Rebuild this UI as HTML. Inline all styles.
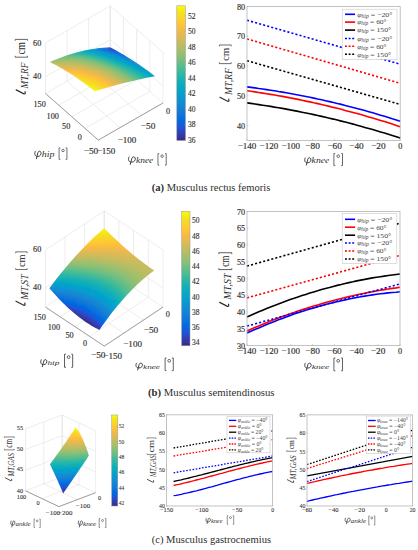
<!DOCTYPE html><html><head><meta charset="utf-8"><style>html,body{margin:0;padding:0;background:#fff;width:418px;height:550px;overflow:hidden}svg{display:block}</style></head><body><svg width="418" height="550" viewBox="0 0 418 550" style="font-family:'Liberation Serif',serif" fill="#2e2e2e">
<rect width="418" height="550" fill="#fff"/>
<line x1="247.00" y1="140.4" x2="247.00" y2="138.9" stroke="#b4b4b4" stroke-width="0.6"/>
<line x1="268.89" y1="140.4" x2="268.89" y2="138.9" stroke="#b4b4b4" stroke-width="0.6"/>
<line x1="290.77" y1="140.4" x2="290.77" y2="138.9" stroke="#b4b4b4" stroke-width="0.6"/>
<line x1="312.66" y1="140.4" x2="312.66" y2="138.9" stroke="#b4b4b4" stroke-width="0.6"/>
<line x1="334.54" y1="140.4" x2="334.54" y2="138.9" stroke="#b4b4b4" stroke-width="0.6"/>
<line x1="356.43" y1="140.4" x2="356.43" y2="138.9" stroke="#b4b4b4" stroke-width="0.6"/>
<line x1="378.31" y1="140.4" x2="378.31" y2="138.9" stroke="#b4b4b4" stroke-width="0.6"/>
<line x1="400.20" y1="140.4" x2="400.20" y2="138.9" stroke="#b4b4b4" stroke-width="0.6"/>
<line x1="247" y1="125.52" x2="248.5" y2="125.52" stroke="#b4b4b4" stroke-width="0.6"/>
<line x1="247" y1="95.77" x2="248.5" y2="95.77" stroke="#b4b4b4" stroke-width="0.6"/>
<line x1="247" y1="66.01" x2="248.5" y2="66.01" stroke="#b4b4b4" stroke-width="0.6"/>
<line x1="247" y1="36.26" x2="248.5" y2="36.26" stroke="#b4b4b4" stroke-width="0.6"/>
<line x1="247" y1="6.50" x2="248.5" y2="6.50" stroke="#b4b4b4" stroke-width="0.6"/>
<polyline points="247.0,86.9 250.9,87.4 254.9,87.9 258.8,88.5 262.7,89.0 266.6,89.6 270.6,90.2 274.5,90.8 278.4,91.5 282.4,92.1 286.3,92.8 290.2,93.5 294.1,94.2 298.1,95.0 302.0,95.7 305.9,96.5 309.9,97.3 313.8,98.1 317.7,99.0 321.6,99.8 325.6,100.7 329.5,101.6 333.4,102.5 337.3,103.5 341.3,104.4 345.2,105.4 349.1,106.4 353.1,107.4 357.0,108.5 360.9,109.5 364.8,110.6 368.8,111.7 372.7,112.8 376.6,114.0 380.6,115.2 384.5,116.3 388.4,117.5 392.3,118.8 396.3,120.0 400.2,121.3" fill="none" stroke="#0000ff" stroke-width="1.6" />
<polyline points="247.0,90.8 250.9,91.3 254.9,91.9 258.8,92.5 262.7,93.1 266.6,93.7 270.6,94.4 274.5,95.0 278.4,95.7 282.4,96.4 286.3,97.1 290.2,97.9 294.1,98.6 298.1,99.4 302.0,100.2 305.9,101.1 309.9,101.9 313.8,102.8 317.7,103.6 321.6,104.5 325.6,105.5 329.5,106.4 333.4,107.4 337.3,108.3 341.3,109.3 345.2,110.4 349.1,111.4 353.1,112.5 357.0,113.5 360.9,114.6 364.8,115.7 368.8,116.9 372.7,118.0 376.6,119.2 380.6,120.4 384.5,121.6 388.4,122.8 392.3,124.1 396.3,125.4 400.2,126.7" fill="none" stroke="#ff0000" stroke-width="1.6" />
<polyline points="247.0,102.9 250.9,103.4 254.9,104.0 258.8,104.6 262.7,105.2 266.6,105.8 270.6,106.4 274.5,107.1 278.4,107.7 282.4,108.4 286.3,109.1 290.2,109.9 294.1,110.6 298.1,111.4 302.0,112.2 305.9,113.0 309.9,113.8 313.8,114.6 317.7,115.5 321.6,116.4 325.6,117.3 329.5,118.2 333.4,119.1 337.3,120.1 341.3,121.1 345.2,122.1 349.1,123.1 353.1,124.1 357.0,125.2 360.9,126.3 364.8,127.4 368.8,128.5 372.7,129.6 376.6,130.7 380.6,131.9 384.5,133.1 388.4,134.3 392.3,135.5 396.3,136.8 400.2,138.0" fill="none" stroke="#000000" stroke-width="1.6" />
<polyline points="247.0,20.2 400.2,64.2" fill="none" stroke="#0000ff" stroke-width="1.6" stroke-dasharray="2.1 2.1"/>
<polyline points="247.0,38.9 400.2,83.3" fill="none" stroke="#ff0000" stroke-width="1.6" stroke-dasharray="2.1 2.1"/>
<polyline points="247.0,60.7 400.2,104.4" fill="none" stroke="#000000" stroke-width="1.6" stroke-dasharray="2.1 2.1"/>
<rect x="247" y="6.5" width="153.20" height="133.90" fill="none" stroke="#b4b4b4" stroke-width="0.8"/>
<text x="237.66" y="149.30" font-size="9.18" textLength="18.68" lengthAdjust="spacingAndGlyphs" stroke="#2e2e2e" stroke-width="0.16">−140</text>
<text x="259.55" y="149.30" font-size="9.18" textLength="18.68" lengthAdjust="spacingAndGlyphs" stroke="#2e2e2e" stroke-width="0.16">−120</text>
<text x="281.43" y="149.30" font-size="9.18" textLength="18.68" lengthAdjust="spacingAndGlyphs" stroke="#2e2e2e" stroke-width="0.16">−100</text>
<text x="305.37" y="149.30" font-size="9.18" textLength="14.58" lengthAdjust="spacingAndGlyphs" stroke="#2e2e2e" stroke-width="0.16">−80</text>
<text x="327.25" y="149.30" font-size="9.18" textLength="14.58" lengthAdjust="spacingAndGlyphs" stroke="#2e2e2e" stroke-width="0.16">−60</text>
<text x="349.14" y="149.30" font-size="9.18" textLength="14.58" lengthAdjust="spacingAndGlyphs" stroke="#2e2e2e" stroke-width="0.16">−40</text>
<text x="371.02" y="149.30" font-size="9.18" textLength="14.58" lengthAdjust="spacingAndGlyphs" stroke="#2e2e2e" stroke-width="0.16">−20</text>
<text x="398.15" y="149.30" font-size="9.18" textLength="4.10" lengthAdjust="spacingAndGlyphs" stroke="#2e2e2e" stroke-width="0.16">0</text>
<text x="237.00" y="128.62" font-size="9.18" textLength="8.20" lengthAdjust="spacingAndGlyphs" stroke="#2e2e2e" stroke-width="0.16">40</text>
<text x="237.00" y="98.87" font-size="9.18" textLength="8.20" lengthAdjust="spacingAndGlyphs" stroke="#2e2e2e" stroke-width="0.16">50</text>
<text x="237.00" y="69.11" font-size="9.18" textLength="8.20" lengthAdjust="spacingAndGlyphs" stroke="#2e2e2e" stroke-width="0.16">60</text>
<text x="237.00" y="39.36" font-size="9.18" textLength="8.20" lengthAdjust="spacingAndGlyphs" stroke="#2e2e2e" stroke-width="0.16">70</text>
<text x="237.00" y="9.60" font-size="9.18" textLength="8.20" lengthAdjust="spacingAndGlyphs" stroke="#2e2e2e" stroke-width="0.16">80</text>
<rect x="342.2" y="9.2" width="54.80" height="50.10" fill="#fff" stroke="#c8c8c8" stroke-width="0.6"/>
<line x1="345" y1="14.30" x2="355.1" y2="14.30" stroke="#0000ff" stroke-width="1.6" />
<text x="357.2" y="16.64" font-size="7.1" textLength="35.20" lengthAdjust="spacingAndGlyphs" fill="#444"><tspan font-style="italic">φ</tspan><tspan font-style="italic" font-size="0.72em" dy="1">hip</tspan><tspan dy="-1"> = −20°</tspan></text>
<line x1="345" y1="22.10" x2="355.1" y2="22.10" stroke="#ff0000" stroke-width="1.6" />
<text x="357.2" y="24.44" font-size="7.1" textLength="29.40" lengthAdjust="spacingAndGlyphs" fill="#444"><tspan font-style="italic">φ</tspan><tspan font-style="italic" font-size="0.72em" dy="1">hip</tspan><tspan dy="-1"> = 60°</tspan></text>
<line x1="345" y1="30.10" x2="355.1" y2="30.10" stroke="#000000" stroke-width="1.6" />
<text x="357.2" y="32.44" font-size="7.1" textLength="33.80" lengthAdjust="spacingAndGlyphs" fill="#444"><tspan font-style="italic">φ</tspan><tspan font-style="italic" font-size="0.72em" dy="1">hip</tspan><tspan dy="-1"> = 150°</tspan></text>
<line x1="345" y1="38.50" x2="355.1" y2="38.50" stroke="#0000ff" stroke-width="1.6" stroke-dasharray="2 1.6"/>
<text x="357.2" y="40.84" font-size="7.1" textLength="35.20" lengthAdjust="spacingAndGlyphs" fill="#444"><tspan font-style="italic">φ</tspan><tspan font-style="italic" font-size="0.72em" dy="1">hip</tspan><tspan dy="-1"> = −20°</tspan></text>
<line x1="345" y1="46.30" x2="355.1" y2="46.30" stroke="#ff0000" stroke-width="1.6" stroke-dasharray="2 1.6"/>
<text x="357.2" y="48.64" font-size="7.1" textLength="29.40" lengthAdjust="spacingAndGlyphs" fill="#444"><tspan font-style="italic">φ</tspan><tspan font-style="italic" font-size="0.72em" dy="1">hip</tspan><tspan dy="-1"> = 60°</tspan></text>
<line x1="345" y1="54.20" x2="355.1" y2="54.20" stroke="#000000" stroke-width="1.6" stroke-dasharray="2 1.6"/>
<text x="357.2" y="56.54" font-size="7.1" textLength="33.80" lengthAdjust="spacingAndGlyphs" fill="#444"><tspan font-style="italic">φ</tspan><tspan font-style="italic" font-size="0.72em" dy="1">hip</tspan><tspan dy="-1"> = 150°</tspan></text>
<path d="M305.21 157.86 C304.20 159.68 304.49 162.87 307.44 162.87 C310.39 162.87 311.40 160.44 310.82 158.77 C310.25 157.25 308.23 157.40 307.80 159.22 L306.36 165.00" fill="none" stroke="#2e2e2e" stroke-width="0.9" stroke-linecap="round"/>
<text x="311.60" y="163.48" font-size="7.22" font-style="italic" textLength="17.70" lengthAdjust="spacingAndGlyphs">knee</text>
<path d="M335.22 153.50H333.89V165.60H335.22" fill="none" stroke="#404040" stroke-width="0.7864999999999996"/>
<path d="M341.18 153.50H342.51V165.60H341.18" fill="none" stroke="#404040" stroke-width="0.7864999999999996"/>
<circle cx="338.20" cy="156.16" r="1.33" fill="none" stroke="#2e2e2e" stroke-width="0.67"/>
<g transform="translate(229.20,102.90) rotate(-90)"><path d="M5.60 -9.30L1.60 -1.60Q1.10 0.40 3.80 -0.50" fill="none" stroke="#2e2e2e" stroke-width="1.20" stroke-linecap="round"/><text x="7.90" y="2.40" font-size="11" font-style="italic" textLength="26.80" lengthAdjust="spacingAndGlyphs">MT,RF</text><text x="41.85" y="-0.36" font-size="11.21" textLength="13.50" lengthAdjust="spacingAndGlyphs">cm</text></g>
<path d="M219.40 62.32V63.62H231.20V62.32" fill="none" stroke="#404040" stroke-width="0.7669999999999989"/>
<path d="M219.40 46.28V44.98H231.20V46.28" fill="none" stroke="#404040" stroke-width="0.7669999999999989"/>
<line x1="247.00" y1="345.5" x2="247.00" y2="344.0" stroke="#b4b4b4" stroke-width="0.6"/>
<line x1="268.86" y1="345.5" x2="268.86" y2="344.0" stroke="#b4b4b4" stroke-width="0.6"/>
<line x1="290.71" y1="345.5" x2="290.71" y2="344.0" stroke="#b4b4b4" stroke-width="0.6"/>
<line x1="312.57" y1="345.5" x2="312.57" y2="344.0" stroke="#b4b4b4" stroke-width="0.6"/>
<line x1="334.43" y1="345.5" x2="334.43" y2="344.0" stroke="#b4b4b4" stroke-width="0.6"/>
<line x1="356.29" y1="345.5" x2="356.29" y2="344.0" stroke="#b4b4b4" stroke-width="0.6"/>
<line x1="378.14" y1="345.5" x2="378.14" y2="344.0" stroke="#b4b4b4" stroke-width="0.6"/>
<line x1="400.00" y1="345.5" x2="400.00" y2="344.0" stroke="#b4b4b4" stroke-width="0.6"/>
<line x1="247" y1="345.50" x2="248.5" y2="345.50" stroke="#b4b4b4" stroke-width="0.6"/>
<line x1="247" y1="328.75" x2="248.5" y2="328.75" stroke="#b4b4b4" stroke-width="0.6"/>
<line x1="247" y1="312.00" x2="248.5" y2="312.00" stroke="#b4b4b4" stroke-width="0.6"/>
<line x1="247" y1="295.25" x2="248.5" y2="295.25" stroke="#b4b4b4" stroke-width="0.6"/>
<line x1="247" y1="278.50" x2="248.5" y2="278.50" stroke="#b4b4b4" stroke-width="0.6"/>
<line x1="247" y1="261.75" x2="248.5" y2="261.75" stroke="#b4b4b4" stroke-width="0.6"/>
<line x1="247" y1="245.00" x2="248.5" y2="245.00" stroke="#b4b4b4" stroke-width="0.6"/>
<line x1="247" y1="228.25" x2="248.5" y2="228.25" stroke="#b4b4b4" stroke-width="0.6"/>
<line x1="247" y1="211.50" x2="248.5" y2="211.50" stroke="#b4b4b4" stroke-width="0.6"/>
<polyline points="247.0,333.1 250.9,331.3 254.8,329.6 258.8,327.9 262.7,326.2 266.6,324.5 270.5,322.9 274.5,321.4 278.4,319.8 282.3,318.4 286.2,316.9 290.2,315.5 294.1,314.1 298.0,312.8 301.9,311.5 305.8,310.2 309.8,309.0 313.7,307.9 317.6,306.7 321.5,305.6 325.5,304.6 329.4,303.5 333.3,302.6 337.2,301.6 341.2,300.7 345.1,299.9 349.0,299.0 352.9,298.2 356.8,297.5 360.8,296.8 364.7,296.1 368.6,295.5 372.5,294.9 376.5,294.3 380.4,293.8 384.3,293.4 388.2,292.9 392.2,292.5 396.1,292.2 400.0,291.8" fill="none" stroke="#0000ff" stroke-width="1.6" />
<polyline points="247.0,330.9 250.9,329.2 254.8,327.5 258.8,325.9 262.7,324.3 266.6,322.7 270.5,321.1 274.5,319.6 278.4,318.1 282.3,316.6 286.2,315.2 290.2,313.8 294.1,312.5 298.0,311.1 301.9,309.8 305.8,308.5 309.8,307.3 313.7,306.1 317.6,304.9 321.5,303.8 325.5,302.6 329.4,301.6 333.3,300.5 337.2,299.5 341.2,298.5 345.1,297.5 349.0,296.6 352.9,295.7 356.8,294.8 360.8,294.0 364.7,293.2 368.6,292.4 372.5,291.7 376.5,290.9 380.4,290.3 384.3,289.6 388.2,289.0 392.2,288.4 396.1,287.9 400.0,287.3" fill="none" stroke="#ff0000" stroke-width="1.6" />
<polyline points="247.0,316.9 250.9,315.2 254.8,313.5 258.8,311.8 262.7,310.2 266.6,308.6 270.5,307.0 274.5,305.5 278.4,304.0 282.3,302.5 286.2,301.0 290.2,299.6 294.1,298.3 298.0,296.9 301.9,295.6 305.8,294.4 309.8,293.1 313.7,291.9 317.6,290.8 321.5,289.6 325.5,288.5 329.4,287.5 333.3,286.4 337.2,285.4 341.2,284.5 345.1,283.5 349.0,282.6 352.9,281.8 356.8,280.9 360.8,280.1 364.7,279.4 368.6,278.6 372.5,277.9 376.5,277.3 380.4,276.7 384.3,276.1 388.2,275.5 392.2,275.0 396.1,274.5 400.0,274.0" fill="none" stroke="#000000" stroke-width="1.6" />
<polyline points="247.0,326.1 400.0,283.9" fill="none" stroke="#0000ff" stroke-width="1.6" stroke-dasharray="2.1 2.1"/>
<polyline points="247.0,297.9 400.0,255.4" fill="none" stroke="#ff0000" stroke-width="1.6" stroke-dasharray="2.1 2.1"/>
<polyline points="247.0,266.1 400.0,223.2" fill="none" stroke="#000000" stroke-width="1.6" stroke-dasharray="2.1 2.1"/>
<rect x="247" y="211.5" width="153.00" height="134.00" fill="none" stroke="#b4b4b4" stroke-width="0.8"/>
<text x="237.66" y="353.90" font-size="9.18" textLength="18.68" lengthAdjust="spacingAndGlyphs" stroke="#2e2e2e" stroke-width="0.16">−140</text>
<text x="259.52" y="353.90" font-size="9.18" textLength="18.68" lengthAdjust="spacingAndGlyphs" stroke="#2e2e2e" stroke-width="0.16">−120</text>
<text x="281.37" y="353.90" font-size="9.18" textLength="18.68" lengthAdjust="spacingAndGlyphs" stroke="#2e2e2e" stroke-width="0.16">−100</text>
<text x="305.28" y="353.90" font-size="9.18" textLength="14.58" lengthAdjust="spacingAndGlyphs" stroke="#2e2e2e" stroke-width="0.16">−80</text>
<text x="327.14" y="353.90" font-size="9.18" textLength="14.58" lengthAdjust="spacingAndGlyphs" stroke="#2e2e2e" stroke-width="0.16">−60</text>
<text x="349.00" y="353.90" font-size="9.18" textLength="14.58" lengthAdjust="spacingAndGlyphs" stroke="#2e2e2e" stroke-width="0.16">−40</text>
<text x="370.85" y="353.90" font-size="9.18" textLength="14.58" lengthAdjust="spacingAndGlyphs" stroke="#2e2e2e" stroke-width="0.16">−20</text>
<text x="397.95" y="353.90" font-size="9.18" textLength="4.10" lengthAdjust="spacingAndGlyphs" stroke="#2e2e2e" stroke-width="0.16">0</text>
<text x="237.00" y="348.60" font-size="9.18" textLength="8.20" lengthAdjust="spacingAndGlyphs" stroke="#2e2e2e" stroke-width="0.16">30</text>
<text x="237.00" y="331.85" font-size="9.18" textLength="8.20" lengthAdjust="spacingAndGlyphs" stroke="#2e2e2e" stroke-width="0.16">35</text>
<text x="237.00" y="315.10" font-size="9.18" textLength="8.20" lengthAdjust="spacingAndGlyphs" stroke="#2e2e2e" stroke-width="0.16">40</text>
<text x="237.00" y="298.35" font-size="9.18" textLength="8.20" lengthAdjust="spacingAndGlyphs" stroke="#2e2e2e" stroke-width="0.16">45</text>
<text x="237.00" y="281.60" font-size="9.18" textLength="8.20" lengthAdjust="spacingAndGlyphs" stroke="#2e2e2e" stroke-width="0.16">50</text>
<text x="237.00" y="264.85" font-size="9.18" textLength="8.20" lengthAdjust="spacingAndGlyphs" stroke="#2e2e2e" stroke-width="0.16">55</text>
<text x="237.00" y="248.10" font-size="9.18" textLength="8.20" lengthAdjust="spacingAndGlyphs" stroke="#2e2e2e" stroke-width="0.16">60</text>
<text x="237.00" y="231.35" font-size="9.18" textLength="8.20" lengthAdjust="spacingAndGlyphs" stroke="#2e2e2e" stroke-width="0.16">65</text>
<text x="237.00" y="214.60" font-size="9.18" textLength="8.20" lengthAdjust="spacingAndGlyphs" stroke="#2e2e2e" stroke-width="0.16">70</text>
<rect x="342.2" y="213.6" width="54.60" height="49.90" fill="#fff" stroke="#c8c8c8" stroke-width="0.6"/>
<line x1="345" y1="219.30" x2="355.1" y2="219.30" stroke="#0000ff" stroke-width="1.6" />
<text x="357.2" y="221.64" font-size="7.1" textLength="35.20" lengthAdjust="spacingAndGlyphs" fill="#444"><tspan font-style="italic">φ</tspan><tspan font-style="italic" font-size="0.72em" dy="1">hip</tspan><tspan dy="-1"> = −20°</tspan></text>
<line x1="345" y1="227.20" x2="355.1" y2="227.20" stroke="#ff0000" stroke-width="1.6" />
<text x="357.2" y="229.54" font-size="7.1" textLength="29.40" lengthAdjust="spacingAndGlyphs" fill="#444"><tspan font-style="italic">φ</tspan><tspan font-style="italic" font-size="0.72em" dy="1">hip</tspan><tspan dy="-1"> = 60°</tspan></text>
<line x1="345" y1="235.20" x2="355.1" y2="235.20" stroke="#000000" stroke-width="1.6" />
<text x="357.2" y="237.54" font-size="7.1" textLength="33.80" lengthAdjust="spacingAndGlyphs" fill="#444"><tspan font-style="italic">φ</tspan><tspan font-style="italic" font-size="0.72em" dy="1">hip</tspan><tspan dy="-1"> = 150°</tspan></text>
<line x1="345" y1="243.00" x2="355.1" y2="243.00" stroke="#0000ff" stroke-width="1.6" stroke-dasharray="2 1.6"/>
<text x="357.2" y="245.34" font-size="7.1" textLength="35.20" lengthAdjust="spacingAndGlyphs" fill="#444"><tspan font-style="italic">φ</tspan><tspan font-style="italic" font-size="0.72em" dy="1">hip</tspan><tspan dy="-1"> = −20°</tspan></text>
<line x1="345" y1="251.00" x2="355.1" y2="251.00" stroke="#ff0000" stroke-width="1.6" stroke-dasharray="2 1.6"/>
<text x="357.2" y="253.34" font-size="7.1" textLength="29.40" lengthAdjust="spacingAndGlyphs" fill="#444"><tspan font-style="italic">φ</tspan><tspan font-style="italic" font-size="0.72em" dy="1">hip</tspan><tspan dy="-1"> = 60°</tspan></text>
<line x1="345" y1="259.00" x2="355.1" y2="259.00" stroke="#000000" stroke-width="1.6" stroke-dasharray="2 1.6"/>
<text x="357.2" y="261.34" font-size="7.1" textLength="33.80" lengthAdjust="spacingAndGlyphs" fill="#444"><tspan font-style="italic">φ</tspan><tspan font-style="italic" font-size="0.72em" dy="1">hip</tspan><tspan dy="-1"> = 150°</tspan></text>
<path d="M305.24 363.24 C304.20 365.02 304.50 368.13 307.53 368.13 C310.56 368.13 311.60 365.76 311.01 364.13 C310.42 362.65 308.34 362.80 307.90 364.58 L306.42 370.20" fill="none" stroke="#2e2e2e" stroke-width="0.9" stroke-linecap="round"/>
<text x="311.80" y="368.72" font-size="7.03" font-style="italic" textLength="17.50" lengthAdjust="spacingAndGlyphs">knee</text>
<path d="M335.32 358.00H333.92V370.80H335.32" fill="none" stroke="#404040" stroke-width="0.8320000000000007"/>
<path d="M341.08 358.00H342.48V370.80H341.08" fill="none" stroke="#404040" stroke-width="0.8320000000000007"/>
<circle cx="338.20" cy="360.82" r="1.41" fill="none" stroke="#2e2e2e" stroke-width="0.71"/>
<g transform="translate(229.00,308.00) rotate(-90)"><path d="M5.60 -9.30L1.60 -1.60Q1.10 0.40 3.80 -0.50" fill="none" stroke="#2e2e2e" stroke-width="1.20" stroke-linecap="round"/><text x="8.50" y="2.40" font-size="11" font-style="italic" textLength="26.10" lengthAdjust="spacingAndGlyphs">MT,ST</text><text x="41.25" y="0.20" font-size="12.35" textLength="11.20" lengthAdjust="spacingAndGlyphs">cm</text></g>
<path d="M218.80 268.15V269.58H231.80V268.15" fill="none" stroke="#404040" stroke-width="0.845"/>
<path d="M218.80 254.15V252.72H231.80V254.15" fill="none" stroke="#404040" stroke-width="0.845"/>
<line x1="166.50" y1="506" x2="166.50" y2="505.0" stroke="#b4b4b4" stroke-width="0.6"/>
<line x1="201.87" y1="506" x2="201.87" y2="505.0" stroke="#b4b4b4" stroke-width="0.6"/>
<line x1="237.23" y1="506" x2="237.23" y2="505.0" stroke="#b4b4b4" stroke-width="0.6"/>
<line x1="272.60" y1="506" x2="272.60" y2="505.0" stroke="#b4b4b4" stroke-width="0.6"/>
<line x1="166.5" y1="506.00" x2="167.5" y2="506.00" stroke="#b4b4b4" stroke-width="0.6"/>
<line x1="166.5" y1="487.76" x2="167.5" y2="487.76" stroke="#b4b4b4" stroke-width="0.6"/>
<line x1="166.5" y1="469.52" x2="167.5" y2="469.52" stroke="#b4b4b4" stroke-width="0.6"/>
<line x1="166.5" y1="451.28" x2="167.5" y2="451.28" stroke="#b4b4b4" stroke-width="0.6"/>
<line x1="166.5" y1="433.04" x2="167.5" y2="433.04" stroke="#b4b4b4" stroke-width="0.6"/>
<line x1="166.5" y1="414.80" x2="167.5" y2="414.80" stroke="#b4b4b4" stroke-width="0.6"/>
<polyline points="173.6,495.7 176.1,495.3 178.7,494.8 181.2,494.3 183.7,493.7 186.3,493.2 188.8,492.6 191.3,492.0 193.9,491.4 196.4,490.8 199.0,490.1 201.5,489.5 204.0,488.8 206.6,488.1 209.1,487.4 211.7,486.8 214.2,486.1 216.7,485.4 219.3,484.6 221.8,483.9 224.4,483.2 226.9,482.5 229.4,481.8 232.0,481.1 234.5,480.4 237.1,479.7 239.6,479.1 242.1,478.4 244.7,477.7 247.2,477.1 249.7,476.4 252.3,475.8 254.8,475.2 257.4,474.6 259.9,474.0 262.4,473.5 265.0,472.9 267.5,472.4 270.1,471.9 272.6,471.5" fill="none" stroke="#0000ff" stroke-width="1.3" />
<polyline points="173.6,485.5 176.1,484.9 178.7,484.4 181.2,483.8 183.7,483.2 186.3,482.6 188.8,482.0 191.3,481.3 193.9,480.7 196.4,480.0 199.0,479.4 201.5,478.7 204.0,478.1 206.6,477.4 209.1,476.7 211.7,476.0 214.2,475.3 216.7,474.6 219.3,473.9 221.8,473.3 224.4,472.6 226.9,471.9 229.4,471.2 232.0,470.5 234.5,469.8 237.1,469.2 239.6,468.5 242.1,467.8 244.7,467.2 247.2,466.6 249.7,465.9 252.3,465.3 254.8,464.7 257.4,464.1 259.9,463.5 262.4,463.0 265.0,462.4 267.5,461.9 270.1,461.4 272.6,460.9" fill="none" stroke="#ff0000" stroke-width="1.3" />
<polyline points="173.6,481.5 176.1,480.9 178.7,480.3 181.2,479.8 183.7,479.2 186.3,478.6 188.8,478.0 191.3,477.3 193.9,476.7 196.4,476.1 199.0,475.4 201.5,474.8 204.0,474.1 206.6,473.5 209.1,472.8 211.7,472.1 214.2,471.5 216.7,470.8 219.3,470.2 221.8,469.5 224.4,468.8 226.9,468.2 229.4,467.5 232.0,466.9 234.5,466.2 237.1,465.6 239.6,464.9 242.1,464.3 244.7,463.7 247.2,463.1 249.7,462.5 252.3,461.9 254.8,461.3 257.4,460.7 259.9,460.2 262.4,459.6 265.0,459.1 267.5,458.6 270.1,458.1 272.6,457.6" fill="none" stroke="#000000" stroke-width="1.3" />
<polyline points="173.6,472.8 272.6,456.0" fill="none" stroke="#0000ff" stroke-width="1.3" stroke-dasharray="1.6 1.6"/>
<polyline points="173.6,456.0 272.6,439.6" fill="none" stroke="#ff0000" stroke-width="1.3" stroke-dasharray="1.6 1.6"/>
<polyline points="173.6,448.0 272.6,430.9" fill="none" stroke="#000000" stroke-width="1.3" stroke-dasharray="1.6 1.6"/>
<rect x="166.5" y="414.8" width="106.10" height="91.20" fill="none" stroke="#b4b4b4" stroke-width="0.8"/>
<text x="159.89" y="512.39" font-size="6.50" textLength="13.21" lengthAdjust="spacingAndGlyphs" stroke="#2e2e2e" stroke-width="0.08">−150</text>
<text x="195.26" y="512.39" font-size="6.50" textLength="13.21" lengthAdjust="spacingAndGlyphs" stroke="#2e2e2e" stroke-width="0.08">−100</text>
<text x="232.08" y="512.39" font-size="6.50" textLength="10.31" lengthAdjust="spacingAndGlyphs" stroke="#2e2e2e" stroke-width="0.08">−50</text>
<text x="271.15" y="512.39" font-size="6.50" textLength="2.90" lengthAdjust="spacingAndGlyphs" stroke="#2e2e2e" stroke-width="0.08">0</text>
<text x="159.00" y="508.19" font-size="6.50" textLength="5.80" lengthAdjust="spacingAndGlyphs" stroke="#2e2e2e" stroke-width="0.08">40</text>
<text x="159.00" y="489.95" font-size="6.50" textLength="5.80" lengthAdjust="spacingAndGlyphs" stroke="#2e2e2e" stroke-width="0.08">45</text>
<text x="159.00" y="471.71" font-size="6.50" textLength="5.80" lengthAdjust="spacingAndGlyphs" stroke="#2e2e2e" stroke-width="0.08">50</text>
<text x="159.00" y="453.47" font-size="6.50" textLength="5.80" lengthAdjust="spacingAndGlyphs" stroke="#2e2e2e" stroke-width="0.08">55</text>
<text x="159.00" y="435.23" font-size="6.50" textLength="5.80" lengthAdjust="spacingAndGlyphs" stroke="#2e2e2e" stroke-width="0.08">60</text>
<text x="159.00" y="416.99" font-size="6.50" textLength="5.80" lengthAdjust="spacingAndGlyphs" stroke="#2e2e2e" stroke-width="0.08">65</text>
<rect x="227" y="416.3" width="43.00" height="36.50" fill="#fff" stroke="#c8c8c8" stroke-width="0.6"/>
<line x1="229" y1="420.40" x2="236.2" y2="420.40" stroke="#0000ff" stroke-width="1.3" />
<text x="237.8" y="422.15" font-size="5.3" textLength="29.90" lengthAdjust="spacingAndGlyphs" fill="#444"><tspan font-style="italic">φ</tspan><tspan font-style="italic" font-size="0.72em" dy="1">ankle</tspan><tspan dy="-1"> = −40°</tspan></text>
<line x1="229" y1="426.30" x2="236.2" y2="426.30" stroke="#ff0000" stroke-width="1.3" />
<text x="237.8" y="428.05" font-size="5.3" textLength="23.90" lengthAdjust="spacingAndGlyphs" fill="#444"><tspan font-style="italic">φ</tspan><tspan font-style="italic" font-size="0.72em" dy="1">ankle</tspan><tspan dy="-1"> = 0°</tspan></text>
<line x1="229" y1="432.20" x2="236.2" y2="432.20" stroke="#000000" stroke-width="1.3" />
<text x="237.8" y="433.95" font-size="5.3" textLength="25.70" lengthAdjust="spacingAndGlyphs" fill="#444"><tspan font-style="italic">φ</tspan><tspan font-style="italic" font-size="0.72em" dy="1">ankle</tspan><tspan dy="-1"> = 20°</tspan></text>
<line x1="229" y1="438.10" x2="236.2" y2="438.10" stroke="#0000ff" stroke-width="1.3" stroke-dasharray="1.5 1.2"/>
<text x="237.8" y="439.85" font-size="5.3" textLength="29.90" lengthAdjust="spacingAndGlyphs" fill="#444"><tspan font-style="italic">φ</tspan><tspan font-style="italic" font-size="0.72em" dy="1">ankle</tspan><tspan dy="-1"> = −40°</tspan></text>
<line x1="229" y1="444.00" x2="236.2" y2="444.00" stroke="#ff0000" stroke-width="1.3" stroke-dasharray="1.5 1.2"/>
<text x="237.8" y="445.75" font-size="5.3" textLength="23.90" lengthAdjust="spacingAndGlyphs" fill="#444"><tspan font-style="italic">φ</tspan><tspan font-style="italic" font-size="0.72em" dy="1">ankle</tspan><tspan dy="-1"> = 0°</tspan></text>
<line x1="229" y1="449.90" x2="236.2" y2="449.90" stroke="#000000" stroke-width="1.3" stroke-dasharray="1.5 1.2"/>
<text x="237.8" y="451.65" font-size="5.3" textLength="25.70" lengthAdjust="spacingAndGlyphs" fill="#444"><tspan font-style="italic">φ</tspan><tspan font-style="italic" font-size="0.72em" dy="1">ankle</tspan><tspan dy="-1"> = 20°</tspan></text>
<path d="M206.23 518.43 C205.50 519.75 205.71 522.06 207.84 522.06 C209.97 522.06 210.70 520.30 210.28 519.09 C209.87 517.99 208.41 518.10 208.10 519.42 L207.06 523.60" fill="none" stroke="#2e2e2e" stroke-width="0.7" stroke-linecap="round"/>
<text x="210.90" y="522.50" font-size="5.22" font-style="italic" textLength="11.60" lengthAdjust="spacingAndGlyphs">knee</text>
<path d="M228.24 515.70H227.28V524.40H228.24" fill="none" stroke="#404040" stroke-width="0.5654999999999956"/>
<path d="M232.76 515.70H233.72V524.40H232.76" fill="none" stroke="#404040" stroke-width="0.5654999999999956"/>
<circle cx="230.50" cy="517.61" r="0.96" fill="none" stroke="#2e2e2e" stroke-width="0.48"/>
<g transform="translate(154.00,483.40) rotate(-90)"><path d="M3.97 -6.59L1.13 -1.13Q0.78 0.28 2.69 -0.35" fill="none" stroke="#2e2e2e" stroke-width="0.85" stroke-linecap="round"/><text x="6.30" y="1.70" font-size="8.5" font-style="italic" textLength="21.70" lengthAdjust="spacingAndGlyphs">MT,GAS</text><text x="30.82" y="0.22" font-size="8.46" textLength="12.75" lengthAdjust="spacingAndGlyphs">cm</text></g>
<path d="M147.10 453.53V454.51H156.00V453.53" fill="none" stroke="#404040" stroke-width="0.5785000000000003"/>
<path d="M147.10 438.87V437.89H156.00V438.87" fill="none" stroke="#404040" stroke-width="0.5785000000000003"/>
<line x1="307.00" y1="506" x2="307.00" y2="505.0" stroke="#b4b4b4" stroke-width="0.6"/>
<line x1="333.40" y1="506" x2="333.40" y2="505.0" stroke="#b4b4b4" stroke-width="0.6"/>
<line x1="359.80" y1="506" x2="359.80" y2="505.0" stroke="#b4b4b4" stroke-width="0.6"/>
<line x1="386.20" y1="506" x2="386.20" y2="505.0" stroke="#b4b4b4" stroke-width="0.6"/>
<line x1="412.60" y1="506" x2="412.60" y2="505.0" stroke="#b4b4b4" stroke-width="0.6"/>
<line x1="307" y1="506.00" x2="308.0" y2="506.00" stroke="#b4b4b4" stroke-width="0.6"/>
<line x1="307" y1="487.78" x2="308.0" y2="487.78" stroke="#b4b4b4" stroke-width="0.6"/>
<line x1="307" y1="469.56" x2="308.0" y2="469.56" stroke="#b4b4b4" stroke-width="0.6"/>
<line x1="307" y1="451.34" x2="308.0" y2="451.34" stroke="#b4b4b4" stroke-width="0.6"/>
<line x1="307" y1="433.12" x2="308.0" y2="433.12" stroke="#b4b4b4" stroke-width="0.6"/>
<line x1="307" y1="414.90" x2="308.0" y2="414.90" stroke="#b4b4b4" stroke-width="0.6"/>
<polyline points="307.0,501.3 309.7,500.7 312.4,500.0 315.1,499.4 317.8,498.8 320.5,498.2 323.2,497.6 326.0,497.0 328.7,496.4 331.4,495.8 334.1,495.2 336.8,494.7 339.5,494.1 342.2,493.5 344.9,493.0 347.6,492.4 350.3,491.9 353.0,491.4 355.7,490.8 358.4,490.3 361.2,489.8 363.9,489.3 366.6,488.8 369.3,488.3 372.0,487.8 374.7,487.3 377.4,486.9 380.1,486.4 382.8,485.9 385.5,485.5 388.2,485.0 390.9,484.6 393.6,484.1 396.4,483.7 399.1,483.3 401.8,482.8 404.5,482.4 407.2,482.0 409.9,481.6 412.6,481.2" fill="none" stroke="#0000ff" stroke-width="1.3" />
<polyline points="307.0,483.4 309.7,482.8 312.4,482.2 315.1,481.6 317.8,480.9 320.5,480.3 323.2,479.7 326.0,479.1 328.7,478.5 331.4,478.0 334.1,477.4 336.8,476.8 339.5,476.2 342.2,475.7 344.9,475.1 347.6,474.6 350.3,474.0 353.0,473.5 355.7,473.0 358.4,472.5 361.2,472.0 363.9,471.4 366.6,470.9 369.3,470.4 372.0,470.0 374.7,469.5 377.4,469.0 380.1,468.5 382.8,468.1 385.5,467.6 388.2,467.1 390.9,466.7 393.6,466.3 396.4,465.8 399.1,465.4 401.8,465.0 404.5,464.6 407.2,464.2 409.9,463.8 412.6,463.4" fill="none" stroke="#ff0000" stroke-width="1.3" />
<polyline points="307.0,475.8 309.7,475.3 312.4,474.8 315.1,474.3 317.8,473.8 320.5,473.3 323.2,472.8 326.0,472.3 328.7,471.8 331.4,471.3 334.1,470.8 336.8,470.3 339.5,469.8 342.2,469.3 344.9,468.8 347.6,468.3 350.3,467.8 353.0,467.3 355.7,466.8 358.4,466.3 361.2,465.8 363.9,465.3 366.6,464.8 369.3,464.3 372.0,463.8 374.7,463.3 377.4,462.8 380.1,462.3 382.8,461.9 385.5,461.4 388.2,460.9 390.9,460.4 393.6,459.9 396.4,459.4 399.1,458.9 401.8,458.4 404.5,457.9 407.2,457.4 409.9,456.9 412.6,456.4" fill="none" stroke="#000000" stroke-width="1.3" />
<polyline points="307.0,481.6 412.6,447.3" fill="none" stroke="#0000ff" stroke-width="1.3" stroke-dasharray="1.6 1.6"/>
<polyline points="307.0,468.5 412.6,435.7" fill="none" stroke="#ff0000" stroke-width="1.3" stroke-dasharray="1.6 1.6"/>
<polyline points="307.0,464.5 412.6,430.2" fill="none" stroke="#000000" stroke-width="1.3" stroke-dasharray="1.6 1.6"/>
<rect x="307" y="414.9" width="105.60" height="91.10" fill="none" stroke="#b4b4b4" stroke-width="0.8"/>
<text x="301.84" y="512.39" font-size="6.50" textLength="10.31" lengthAdjust="spacingAndGlyphs" stroke="#2e2e2e" stroke-width="0.08">−60</text>
<text x="328.24" y="512.39" font-size="6.50" textLength="10.31" lengthAdjust="spacingAndGlyphs" stroke="#2e2e2e" stroke-width="0.08">−40</text>
<text x="354.64" y="512.39" font-size="6.50" textLength="10.31" lengthAdjust="spacingAndGlyphs" stroke="#2e2e2e" stroke-width="0.08">−20</text>
<text x="384.75" y="512.39" font-size="6.50" textLength="2.90" lengthAdjust="spacingAndGlyphs" stroke="#2e2e2e" stroke-width="0.08">0</text>
<text x="409.70" y="512.39" font-size="6.50" textLength="5.80" lengthAdjust="spacingAndGlyphs" stroke="#2e2e2e" stroke-width="0.08">20</text>
<text x="299.50" y="508.19" font-size="6.50" textLength="5.80" lengthAdjust="spacingAndGlyphs" stroke="#2e2e2e" stroke-width="0.08">40</text>
<text x="299.50" y="489.97" font-size="6.50" textLength="5.80" lengthAdjust="spacingAndGlyphs" stroke="#2e2e2e" stroke-width="0.08">45</text>
<text x="299.50" y="471.75" font-size="6.50" textLength="5.80" lengthAdjust="spacingAndGlyphs" stroke="#2e2e2e" stroke-width="0.08">50</text>
<text x="299.50" y="453.53" font-size="6.50" textLength="5.80" lengthAdjust="spacingAndGlyphs" stroke="#2e2e2e" stroke-width="0.08">55</text>
<text x="299.50" y="435.31" font-size="6.50" textLength="5.80" lengthAdjust="spacingAndGlyphs" stroke="#2e2e2e" stroke-width="0.08">60</text>
<text x="299.50" y="417.09" font-size="6.50" textLength="5.80" lengthAdjust="spacingAndGlyphs" stroke="#2e2e2e" stroke-width="0.08">65</text>
<rect x="366.4" y="416.1" width="44.10" height="37.30" fill="#fff" stroke="#c8c8c8" stroke-width="0.6"/>
<line x1="368" y1="420.50" x2="375.7" y2="420.50" stroke="#0000ff" stroke-width="1.3" />
<text x="376.9" y="422.25" font-size="5.3" textLength="31.10" lengthAdjust="spacingAndGlyphs" fill="#444"><tspan font-style="italic">φ</tspan><tspan font-style="italic" font-size="0.72em" dy="1">knee</tspan><tspan dy="-1"> = −140°</tspan></text>
<line x1="368" y1="426.30" x2="375.7" y2="426.30" stroke="#ff0000" stroke-width="1.3" />
<text x="376.9" y="428.05" font-size="5.3" textLength="28.60" lengthAdjust="spacingAndGlyphs" fill="#444"><tspan font-style="italic">φ</tspan><tspan font-style="italic" font-size="0.72em" dy="1">knee</tspan><tspan dy="-1"> = −40°</tspan></text>
<line x1="368" y1="432.20" x2="375.7" y2="432.20" stroke="#000000" stroke-width="1.3" />
<text x="376.9" y="433.95" font-size="5.3" textLength="22.40" lengthAdjust="spacingAndGlyphs" fill="#444"><tspan font-style="italic">φ</tspan><tspan font-style="italic" font-size="0.72em" dy="1">knee</tspan><tspan dy="-1"> = 0°</tspan></text>
<line x1="368" y1="438.20" x2="375.7" y2="438.20" stroke="#0000ff" stroke-width="1.3" stroke-dasharray="1.5 1.2"/>
<text x="376.9" y="439.95" font-size="5.3" textLength="31.10" lengthAdjust="spacingAndGlyphs" fill="#444"><tspan font-style="italic">φ</tspan><tspan font-style="italic" font-size="0.72em" dy="1">knee</tspan><tspan dy="-1"> = −140°</tspan></text>
<line x1="368" y1="444.00" x2="375.7" y2="444.00" stroke="#ff0000" stroke-width="1.3" stroke-dasharray="1.5 1.2"/>
<text x="376.9" y="445.75" font-size="5.3" textLength="28.60" lengthAdjust="spacingAndGlyphs" fill="#444"><tspan font-style="italic">φ</tspan><tspan font-style="italic" font-size="0.72em" dy="1">knee</tspan><tspan dy="-1"> = −40°</tspan></text>
<line x1="368" y1="449.80" x2="375.7" y2="449.80" stroke="#000000" stroke-width="1.3" stroke-dasharray="1.5 1.2"/>
<text x="376.9" y="451.55" font-size="5.3" textLength="22.40" lengthAdjust="spacingAndGlyphs" fill="#444"><tspan font-style="italic">φ</tspan><tspan font-style="italic" font-size="0.72em" dy="1">knee</tspan><tspan dy="-1"> = 0°</tspan></text>
<path d="M345.44 518.16 C344.60 519.60 344.84 522.12 347.30 522.12 C349.76 522.12 350.60 520.20 350.12 518.88 C349.64 517.68 347.96 517.80 347.60 519.24 L346.40 523.80" fill="none" stroke="#2e2e2e" stroke-width="0.7" stroke-linecap="round"/>
<text x="350.80" y="522.60" font-size="5.70" font-style="italic" textLength="15.30" lengthAdjust="spacingAndGlyphs">ankle</text>
<path d="M369.78 516.00H368.79V525.00H369.78" fill="none" stroke="#404040" stroke-width="0.585"/>
<path d="M373.82 516.00H374.81V525.00H373.82" fill="none" stroke="#404040" stroke-width="0.585"/>
<circle cx="371.80" cy="517.98" r="0.99" fill="none" stroke="#2e2e2e" stroke-width="0.50"/>
<g transform="translate(294.00,483.70) rotate(-90)"><path d="M3.97 -6.59L1.13 -1.13Q0.78 0.28 2.69 -0.35" fill="none" stroke="#2e2e2e" stroke-width="0.85" stroke-linecap="round"/><text x="4.20" y="1.70" font-size="8.5" font-style="italic" textLength="24.20" lengthAdjust="spacingAndGlyphs">MT,GAS</text><text x="34.47" y="0.30" font-size="9.03" textLength="9.05" lengthAdjust="spacingAndGlyphs">cm</text></g>
<path d="M286.70 450.25V451.29H296.20V450.25" fill="none" stroke="#404040" stroke-width="0.6175"/>
<path d="M286.70 439.15V438.11H296.20V439.15" fill="none" stroke="#404040" stroke-width="0.6175"/>
<line x1="98.30" y1="140.10" x2="163.00" y2="103.00" stroke="#e0e0e0" stroke-width="0.6"/>
<line x1="85.10" y1="128.45" x2="149.80" y2="91.35" stroke="#e0e0e0" stroke-width="0.6"/>
<line x1="71.90" y1="116.80" x2="136.59" y2="79.70" stroke="#e0e0e0" stroke-width="0.6"/>
<line x1="58.70" y1="105.15" x2="123.40" y2="68.05" stroke="#e0e0e0" stroke-width="0.6"/>
<line x1="45.50" y1="93.50" x2="110.19" y2="56.41" stroke="#e0e0e0" stroke-width="0.6"/>
<line x1="98.30" y1="140.10" x2="45.50" y2="93.50" stroke="#e0e0e0" stroke-width="0.6"/>
<line x1="119.86" y1="127.73" x2="67.06" y2="81.14" stroke="#e0e0e0" stroke-width="0.6"/>
<line x1="141.43" y1="115.37" x2="88.63" y2="68.77" stroke="#e0e0e0" stroke-width="0.6"/>
<line x1="163.00" y1="103.00" x2="110.19" y2="56.41" stroke="#e0e0e0" stroke-width="0.6"/>
<line x1="45.50" y1="93.50" x2="45.50" y2="42.95" stroke="#e0e0e0" stroke-width="0.6"/>
<line x1="67.06" y1="81.14" x2="67.06" y2="30.59" stroke="#e0e0e0" stroke-width="0.6"/>
<line x1="88.63" y1="68.77" x2="88.63" y2="18.22" stroke="#e0e0e0" stroke-width="0.6"/>
<line x1="110.19" y1="56.41" x2="110.19" y2="5.85" stroke="#e0e0e0" stroke-width="0.6"/>
<line x1="45.50" y1="76.65" x2="110.19" y2="39.55" stroke="#e0e0e0" stroke-width="0.6"/>
<line x1="45.50" y1="42.95" x2="110.19" y2="5.85" stroke="#e0e0e0" stroke-width="0.6"/>
<line x1="163.00" y1="103.00" x2="163.00" y2="52.45" stroke="#e0e0e0" stroke-width="0.6"/>
<line x1="149.80" y1="91.35" x2="149.80" y2="40.80" stroke="#e0e0e0" stroke-width="0.6"/>
<line x1="136.59" y1="79.70" x2="136.59" y2="29.15" stroke="#e0e0e0" stroke-width="0.6"/>
<line x1="123.40" y1="68.05" x2="123.40" y2="17.50" stroke="#e0e0e0" stroke-width="0.6"/>
<line x1="110.19" y1="56.41" x2="110.19" y2="5.85" stroke="#e0e0e0" stroke-width="0.6"/>
<line x1="163.00" y1="86.16" x2="110.19" y2="39.55" stroke="#e0e0e0" stroke-width="0.6"/>
<line x1="163.00" y1="52.45" x2="110.19" y2="5.85" stroke="#e0e0e0" stroke-width="0.6"/>
<line x1="45.50" y1="93.50" x2="98.30" y2="140.10" stroke="#7a7a7a" stroke-width="0.7"/>
<line x1="98.30" y1="140.10" x2="163.00" y2="103.00" stroke="#7a7a7a" stroke-width="0.7"/>
<defs><clipPath id="cga"><path d="M94.69 91.23L92.74 89.67L90.79 88.15L88.84 86.64L86.89 85.17L84.94 83.72L82.99 82.29L81.03 80.89L79.08 79.52L77.13 78.17L75.18 76.85L73.23 75.55L71.28 74.28L69.33 73.04L67.37 71.82L65.42 70.63L63.47 69.46L61.52 68.32L59.57 67.20L57.62 66.11L55.67 65.04L53.72 64.00L51.76 62.99L49.81 62.00L49.81 62.00L52.44 60.84L55.06 59.72L57.69 58.65L60.31 57.63L62.94 56.65L65.56 55.73L68.19 54.85L70.82 54.02L73.44 53.23L76.07 52.49L78.69 51.80L81.32 51.16L83.94 50.57L86.57 50.02L89.19 49.52L91.82 49.07L94.44 48.66L97.07 48.30L99.69 47.99L102.32 47.73L104.94 47.51L107.57 47.35L110.19 47.23L110.19 47.23L112.15 48.25L114.10 49.30L116.05 50.37L118.00 51.46L119.95 52.57L121.90 53.70L123.85 54.85L125.81 56.03L127.76 57.22L129.71 58.44L131.66 59.68L133.61 60.93L135.56 62.21L137.51 63.51L139.46 64.83L141.42 66.18L143.37 67.54L145.32 68.92L147.27 70.33L149.22 71.76L151.17 73.20L153.12 74.67L155.07 76.16L155.07 76.16L152.45 76.68L149.82 77.21L147.20 77.75L144.57 78.31L141.95 78.88L139.32 79.46L136.70 80.05L134.07 80.66L131.45 81.27L128.82 81.90L126.20 82.55L123.57 83.20L120.95 83.87L118.32 84.55L115.70 85.24L113.07 85.95L110.44 86.66L107.82 87.39L105.19 88.13L102.57 88.89L99.94 89.66L97.32 90.43L94.69 91.23Z"/></clipPath><filter id="fga" x="-10%" y="-10%" width="120%" height="120%"><feGaussianBlur stdDeviation="0.9"/></filter></defs>
<g clip-path="url(#cga)"><g filter="url(#fga)" shape-rendering="crispEdges">
<path d="M110.2 47.2L108.7 46.5L110.7 46.4L112.2 47.2Z" fill="#352a87"/>
<path d="M111.7 48.0L110.2 47.2L112.2 47.2L113.7 47.9Z" fill="#352a87"/>
<path d="M108.2 47.3L106.7 46.5L108.7 46.5L110.2 47.2Z" fill="#362e8e"/>
<path d="M113.2 48.8L111.7 48.0L113.7 47.9L115.2 48.7Z" fill="#362e8e"/>
<path d="M109.7 48.1L108.2 47.3L110.2 47.2L111.7 48.0Z" fill="#36349c"/>
<path d="M106.2 47.4L104.7 46.6L106.7 46.5L108.2 47.3Z" fill="#353ba9"/>
<path d="M114.7 49.6L113.2 48.8L115.2 48.7L116.7 49.5Z" fill="#36349b"/>
<path d="M111.2 48.9L109.7 48.1L111.7 48.0L113.2 48.8Z" fill="#353baa"/>
<path d="M107.7 48.2L106.2 47.4L108.2 47.3L109.7 48.1Z" fill="#3242b8"/>
<path d="M104.2 47.6L102.7 46.8L104.7 46.6L106.2 47.4Z" fill="#2c4ac5"/>
<path d="M116.2 50.4L114.7 49.6L116.7 49.5L118.2 50.3Z" fill="#353ba9"/>
<path d="M112.7 49.7L111.2 48.9L113.2 48.8L114.7 49.6Z" fill="#3342b7"/>
<path d="M109.2 49.0L107.7 48.2L109.7 48.1L111.2 48.9Z" fill="#2c4ac6"/>
<path d="M105.7 48.4L104.2 47.6L106.2 47.4L107.7 48.2Z" fill="#2052d3"/>
<path d="M102.1 47.7L100.6 46.9L102.7 46.8L104.2 47.6Z" fill="#105bdd"/>
<path d="M117.7 51.3L116.2 50.4L118.2 50.3L119.7 51.2Z" fill="#3342b6"/>
<path d="M114.2 50.6L112.7 49.7L114.7 49.6L116.2 50.4Z" fill="#2c49c5"/>
<path d="M110.7 49.9L109.2 49.0L111.2 48.9L112.7 49.7Z" fill="#2052d3"/>
<path d="M107.1 49.2L105.7 48.4L107.7 48.2L109.2 49.0Z" fill="#0f5cde"/>
<path d="M103.6 48.6L102.1 47.7L104.2 47.6L105.7 48.4Z" fill="#0363e1"/>
<path d="M100.1 47.9L98.6 47.1L100.6 46.9L102.1 47.7Z" fill="#0268e1"/>
<path d="M119.2 52.1L117.7 51.3L119.7 51.2L121.2 52.0Z" fill="#2d49c3"/>
<path d="M115.7 51.4L114.2 50.6L116.2 50.4L117.7 51.3Z" fill="#2152d2"/>
<path d="M112.2 50.7L110.7 49.9L112.7 49.7L114.2 50.6Z" fill="#0f5cdd"/>
<path d="M108.6 50.0L107.1 49.2L109.2 49.0L110.7 49.9Z" fill="#0363e1"/>
<path d="M105.1 49.4L103.6 48.6L105.7 48.4L107.1 49.2Z" fill="#0269e1"/>
<path d="M101.6 48.8L100.1 47.9L102.1 47.7L103.6 48.6Z" fill="#046de0"/>
<path d="M98.1 48.2L96.6 47.4L98.6 47.1L100.1 47.9Z" fill="#0871de"/>
<path d="M120.7 53.0L119.2 52.1L121.2 52.0L122.7 52.9Z" fill="#2350d0"/>
<path d="M117.2 52.3L115.7 51.4L117.7 51.3L119.2 52.1Z" fill="#115bdc"/>
<path d="M113.6 51.6L112.2 50.7L114.2 50.6L115.7 51.4Z" fill="#0363e1"/>
<path d="M110.1 50.9L108.6 50.0L110.7 49.9L112.2 50.7Z" fill="#0269e1"/>
<path d="M106.6 50.2L105.1 49.4L107.1 49.2L108.6 50.0Z" fill="#056de0"/>
<path d="M103.1 49.6L101.6 48.8L103.6 48.6L105.1 49.4Z" fill="#0971de"/>
<path d="M99.6 49.0L98.1 48.2L100.1 47.9L101.6 48.8Z" fill="#0d75dc"/>
<path d="M96.1 48.4L94.6 47.6L96.6 47.4L98.1 48.2Z" fill="#1078da"/>
<path d="M122.2 53.9L120.7 53.0L122.7 52.9L124.2 53.7Z" fill="#1559da"/>
<path d="M118.7 53.1L117.2 52.3L119.2 52.1L120.7 53.0Z" fill="#0562e0"/>
<path d="M115.1 52.4L113.6 51.6L115.7 51.4L117.2 52.3Z" fill="#0268e1"/>
<path d="M111.6 51.8L110.1 50.9L112.2 50.7L113.6 51.6Z" fill="#046de0"/>
<path d="M108.1 51.1L106.6 50.2L108.6 50.0L110.1 50.9Z" fill="#0971de"/>
<path d="M104.6 50.5L103.1 49.6L105.1 49.4L106.6 50.2Z" fill="#0d75dc"/>
<path d="M101.1 49.8L99.6 49.0L101.6 48.8L103.1 49.6Z" fill="#1079da"/>
<path d="M97.6 49.3L96.1 48.4L98.1 48.2L99.6 49.0Z" fill="#127cd8"/>
<path d="M94.1 48.7L92.6 47.9L94.6 47.6L96.1 48.4Z" fill="#137fd6"/>
<path d="M123.7 54.7L122.2 53.9L124.2 53.7L125.7 54.6Z" fill="#0860e0"/>
<path d="M120.2 54.0L118.7 53.1L120.7 53.0L122.2 53.9Z" fill="#0267e1"/>
<path d="M116.6 53.3L115.1 52.4L117.2 52.3L118.7 53.1Z" fill="#046ce0"/>
<path d="M113.1 52.6L111.6 51.8L113.6 51.6L115.1 52.4Z" fill="#0871de"/>
<path d="M109.6 52.0L108.1 51.1L110.1 50.9L111.6 51.8Z" fill="#0d75dc"/>
<path d="M106.1 51.3L104.6 50.5L106.6 50.2L108.1 51.1Z" fill="#1079da"/>
<path d="M102.6 50.7L101.1 49.8L103.1 49.6L104.6 50.5Z" fill="#127dd8"/>
<path d="M99.1 50.1L97.6 49.3L99.6 49.0L101.1 49.8Z" fill="#1480d6"/>
<path d="M95.6 49.5L94.1 48.7L96.1 48.4L97.6 49.3Z" fill="#1484d4"/>
<path d="M92.1 49.0L90.6 48.2L92.6 47.9L94.1 48.7Z" fill="#1487d3"/>
<path d="M125.2 55.6L123.7 54.7L125.7 54.6L127.2 55.5Z" fill="#0266e1"/>
<path d="M121.6 54.9L120.2 54.0L122.2 53.9L123.7 54.7Z" fill="#036be0"/>
<path d="M118.1 54.2L116.6 53.3L118.7 53.1L120.2 54.0Z" fill="#0870df"/>
<path d="M114.6 53.5L113.1 52.6L115.1 52.4L116.6 53.3Z" fill="#0c75dc"/>
<path d="M111.1 52.8L109.6 52.0L111.6 51.8L113.1 52.6Z" fill="#1079da"/>
<path d="M107.6 52.2L106.1 51.3L108.1 51.1L109.6 52.0Z" fill="#127dd8"/>
<path d="M104.1 51.6L102.6 50.7L104.6 50.5L106.1 51.3Z" fill="#1480d6"/>
<path d="M100.6 51.0L99.1 50.1L101.1 49.8L102.6 50.7Z" fill="#1484d4"/>
<path d="M97.1 50.4L95.6 49.5L97.6 49.3L99.1 50.1Z" fill="#1388d3"/>
<path d="M93.6 49.9L92.1 49.0L94.1 48.7L95.6 49.5Z" fill="#128cd2"/>
<path d="M90.1 49.4L88.6 48.5L90.6 48.2L92.1 49.0Z" fill="#0f8fd2"/>
<path d="M126.7 56.5L125.2 55.6L127.2 55.5L128.7 56.4Z" fill="#036ae1"/>
<path d="M123.1 55.8L121.6 54.9L123.7 54.7L125.2 55.6Z" fill="#076fdf"/>
<path d="M119.6 55.1L118.1 54.2L120.2 54.0L121.6 54.9Z" fill="#0b74dd"/>
<path d="M116.1 54.4L114.6 53.5L116.6 53.3L118.1 54.2Z" fill="#0f78db"/>
<path d="M112.6 53.7L111.1 52.8L113.1 52.6L114.6 53.5Z" fill="#127cd8"/>
<path d="M109.1 53.1L107.6 52.2L109.6 52.0L111.1 52.8Z" fill="#1480d6"/>
<path d="M105.6 52.4L104.1 51.6L106.1 51.3L107.6 52.2Z" fill="#1484d4"/>
<path d="M102.1 51.8L100.6 51.0L102.6 50.7L104.1 51.6Z" fill="#1388d3"/>
<path d="M98.6 51.3L97.1 50.4L99.1 50.1L100.6 51.0Z" fill="#118dd2"/>
<path d="M95.1 50.7L93.6 49.9L95.6 49.5L97.1 50.4Z" fill="#0e91d2"/>
<path d="M91.6 50.2L90.1 49.4L92.1 49.0L93.6 49.9Z" fill="#0c94d2"/>
<path d="M128.1 57.5L126.7 56.5L128.7 56.4L130.2 57.3Z" fill="#056ee0"/>
<path d="M88.1 49.7L86.6 48.9L88.6 48.5L90.1 49.4Z" fill="#0998d1"/>
<path d="M124.6 56.7L123.1 55.8L125.2 55.6L126.7 56.5Z" fill="#0a73dd"/>
<path d="M121.1 56.0L119.6 55.1L121.6 54.9L123.1 55.8Z" fill="#0f77db"/>
<path d="M117.6 55.3L116.1 54.4L118.1 54.2L119.6 55.1Z" fill="#127bd9"/>
<path d="M114.1 54.6L112.6 53.7L114.6 53.5L116.1 54.4Z" fill="#1480d6"/>
<path d="M110.6 54.0L109.1 53.1L111.1 52.8L112.6 53.7Z" fill="#1484d4"/>
<path d="M107.1 53.3L105.6 52.4L107.6 52.2L109.1 53.1Z" fill="#1388d3"/>
<path d="M103.6 52.7L102.1 51.8L104.1 51.6L105.6 52.4Z" fill="#118dd2"/>
<path d="M100.1 52.1L98.6 51.3L100.6 51.0L102.1 51.8Z" fill="#0e91d2"/>
<path d="M96.6 51.6L95.1 50.7L97.1 50.4L98.6 51.3Z" fill="#0b96d1"/>
<path d="M93.1 51.1L91.6 50.2L93.6 49.9L95.1 50.7Z" fill="#0899d1"/>
<path d="M129.6 58.4L128.1 57.5L130.2 57.3L131.7 58.2Z" fill="#0971de"/>
<path d="M89.6 50.6L88.1 49.7L90.1 49.4L91.6 50.2Z" fill="#079cd0"/>
<path d="M126.1 57.7L124.6 56.7L126.7 56.5L128.1 57.5Z" fill="#0e76dc"/>
<path d="M86.0 50.1L84.5 49.3L86.6 48.9L88.1 49.7Z" fill="#069ece"/>
<path d="M122.6 56.9L121.1 56.0L123.1 55.8L124.6 56.7Z" fill="#117ad9"/>
<path d="M119.1 56.2L117.6 55.3L119.6 55.1L121.1 56.0Z" fill="#137fd7"/>
<path d="M115.6 55.6L114.1 54.6L116.1 54.4L117.6 55.3Z" fill="#1483d5"/>
<path d="M112.1 54.9L110.6 54.0L112.6 53.7L114.1 54.6Z" fill="#1388d3"/>
<path d="M108.6 54.2L107.1 53.3L109.1 53.1L110.6 54.0Z" fill="#118dd2"/>
<path d="M105.1 53.6L103.6 52.7L105.6 52.4L107.1 53.3Z" fill="#0e91d2"/>
<path d="M101.6 53.0L100.1 52.1L102.1 51.8L103.6 52.7Z" fill="#0a96d1"/>
<path d="M98.1 52.5L96.6 51.6L98.6 51.3L100.1 52.1Z" fill="#089ad0"/>
<path d="M94.6 51.9L93.1 51.1L95.1 50.7L96.6 51.6Z" fill="#079dcf"/>
<path d="M131.1 59.3L129.6 58.4L131.7 58.2L133.2 59.1Z" fill="#0c74dd"/>
<path d="M91.0 51.4L89.6 50.6L91.6 50.2L93.1 51.1Z" fill="#06a0cd"/>
<path d="M127.6 58.6L126.1 57.7L128.1 57.5L129.6 58.4Z" fill="#1079da"/>
<path d="M87.5 51.0L86.0 50.1L88.1 49.7L89.6 50.6Z" fill="#06a2cb"/>
<path d="M124.1 57.9L122.6 56.9L124.6 56.7L126.1 57.7Z" fill="#137ed7"/>
<path d="M84.0 50.5L82.5 49.7L84.5 49.3L86.0 50.1Z" fill="#06a4c9"/>
<path d="M120.6 57.2L119.1 56.2L121.1 56.0L122.6 56.9Z" fill="#1482d5"/>
<path d="M117.1 56.5L115.6 55.6L117.6 55.3L119.1 56.2Z" fill="#1487d3"/>
<path d="M113.6 55.8L112.1 54.9L114.1 54.6L115.6 55.6Z" fill="#128cd2"/>
<path d="M110.1 55.2L108.6 54.2L110.6 54.0L112.1 54.9Z" fill="#0e91d2"/>
<path d="M106.6 54.5L105.1 53.6L107.1 53.3L108.6 54.2Z" fill="#0a96d1"/>
<path d="M103.1 53.9L101.6 53.0L103.6 52.7L105.1 53.6Z" fill="#089ad0"/>
<path d="M99.6 53.4L98.1 52.5L100.1 52.1L101.6 53.0Z" fill="#079ecf"/>
<path d="M96.1 52.8L94.6 51.9L96.6 51.6L98.1 52.5Z" fill="#06a1cd"/>
<path d="M132.6 60.3L131.1 59.3L133.2 59.1L134.6 60.1Z" fill="#0f77db"/>
<path d="M92.5 52.3L91.0 51.4L93.1 51.1L94.6 51.9Z" fill="#06a3ca"/>
<path d="M129.1 59.6L127.6 58.6L129.6 58.4L131.1 59.3Z" fill="#127cd8"/>
<path d="M89.0 51.8L87.5 51.0L89.6 50.6L91.0 51.4Z" fill="#06a5c8"/>
<path d="M125.6 58.8L124.1 57.9L126.1 57.7L127.6 58.6Z" fill="#1481d6"/>
<path d="M85.5 51.4L84.0 50.5L86.0 50.1L87.5 51.0Z" fill="#06a7c6"/>
<path d="M122.1 58.1L120.6 57.2L122.6 56.9L124.1 57.9Z" fill="#1485d4"/>
<path d="M82.0 51.0L80.5 50.2L82.5 49.7L84.0 50.5Z" fill="#06a8c4"/>
<path d="M118.6 57.4L117.1 56.5L119.1 56.2L120.6 57.2Z" fill="#128ad3"/>
<path d="M115.1 56.8L113.6 55.8L115.6 55.6L117.1 56.5Z" fill="#0f90d2"/>
<path d="M111.6 56.1L110.1 55.2L112.1 54.9L113.6 55.8Z" fill="#0b95d2"/>
<path d="M108.1 55.5L106.6 54.5L108.6 54.2L110.1 55.2Z" fill="#089ad0"/>
<path d="M104.6 54.8L103.1 53.9L105.1 53.6L106.6 54.5Z" fill="#079ecf"/>
<path d="M101.1 54.3L99.6 53.4L101.6 53.0L103.1 53.9Z" fill="#06a1cc"/>
<path d="M97.5 53.7L96.1 52.8L98.1 52.5L99.6 53.4Z" fill="#06a4ca"/>
<path d="M134.1 61.3L132.6 60.3L134.6 60.1L136.1 61.0Z" fill="#117ad9"/>
<path d="M94.0 53.2L92.5 52.3L94.6 51.9L96.1 52.8Z" fill="#06a6c7"/>
<path d="M130.6 60.5L129.1 59.6L131.1 59.3L132.6 60.3Z" fill="#137fd7"/>
<path d="M90.5 52.7L89.0 51.8L91.0 51.4L92.5 52.3Z" fill="#06a8c4"/>
<path d="M127.1 59.8L125.6 58.8L127.6 58.6L129.1 59.6Z" fill="#1484d4"/>
<path d="M87.0 52.3L85.5 51.4L87.5 51.0L89.0 51.8Z" fill="#07a9c2"/>
<path d="M123.6 59.1L122.1 58.1L124.1 57.9L125.6 58.8Z" fill="#1389d3"/>
<path d="M83.5 51.8L82.0 51.0L84.0 50.5L85.5 51.4Z" fill="#09abbf"/>
<path d="M120.1 58.4L118.6 57.4L120.6 57.2L122.1 58.1Z" fill="#108ed2"/>
<path d="M80.0 51.5L78.5 50.6L80.5 50.2L82.0 51.0Z" fill="#0aacbe"/>
<path d="M116.6 57.7L115.1 56.8L117.1 56.5L118.6 57.4Z" fill="#0c94d2"/>
<path d="M113.1 57.0L111.6 56.1L113.6 55.8L115.1 56.8Z" fill="#0899d1"/>
<path d="M109.6 56.4L108.1 55.5L110.1 55.2L111.6 56.1Z" fill="#079dcf"/>
<path d="M106.1 55.8L104.6 54.8L106.6 54.5L108.1 55.5Z" fill="#06a1cc"/>
<path d="M102.6 55.2L101.1 54.3L103.1 53.9L104.6 54.8Z" fill="#06a4ca"/>
<path d="M99.0 54.6L97.5 53.7L99.6 53.4L101.1 54.3Z" fill="#06a6c7"/>
<path d="M135.6 62.3L134.1 61.3L136.1 61.0L137.6 62.0Z" fill="#137dd8"/>
<path d="M95.5 54.1L94.0 53.2L96.1 52.8L97.5 53.7Z" fill="#06a8c3"/>
<path d="M132.1 61.5L130.6 60.5L132.6 60.3L134.1 61.3Z" fill="#1482d5"/>
<path d="M92.0 53.6L90.5 52.7L92.5 52.3L94.0 53.2Z" fill="#08aac0"/>
<path d="M128.6 60.8L127.1 59.8L129.1 59.6L130.6 60.5Z" fill="#1487d3"/>
<path d="M88.5 53.1L87.0 52.3L89.0 51.8L90.5 52.7Z" fill="#0aacbe"/>
<path d="M125.1 60.1L123.6 59.1L125.6 58.8L127.1 59.8Z" fill="#118cd2"/>
<path d="M85.0 52.7L83.5 51.8L85.5 51.4L87.0 52.3Z" fill="#0dadbb"/>
<path d="M121.6 59.4L120.1 58.4L122.1 58.1L123.6 59.1Z" fill="#0d92d2"/>
<path d="M81.5 52.3L80.0 51.5L82.0 51.0L83.5 51.8Z" fill="#0faeb9"/>
<path d="M118.1 58.7L116.6 57.7L118.6 57.4L120.1 58.4Z" fill="#0998d1"/>
<path d="M78.0 52.0L76.5 51.1L78.5 50.6L80.0 51.5Z" fill="#12afb7"/>
<path d="M114.6 58.0L113.1 57.0L115.1 56.8L116.6 57.7Z" fill="#079ccf"/>
<path d="M111.1 57.3L109.6 56.4L111.6 56.1L113.1 57.0Z" fill="#06a0cd"/>
<path d="M107.6 56.7L106.1 55.8L108.1 55.5L109.6 56.4Z" fill="#06a4ca"/>
<path d="M104.0 56.1L102.6 55.2L104.6 54.8L106.1 55.8Z" fill="#06a6c7"/>
<path d="M100.5 55.5L99.0 54.6L101.1 54.3L102.6 55.2Z" fill="#07a9c3"/>
<path d="M137.1 63.3L135.6 62.3L137.6 62.0L139.1 63.0Z" fill="#1480d6"/>
<path d="M97.0 55.0L95.5 54.1L97.5 53.7L99.0 54.6Z" fill="#08abc0"/>
<path d="M133.6 62.5L132.1 61.5L134.1 61.3L135.6 62.3Z" fill="#1485d4"/>
<path d="M93.5 54.5L92.0 53.6L94.0 53.2L95.5 54.1Z" fill="#0badbc"/>
<path d="M130.1 61.8L128.6 60.8L130.6 60.5L132.1 61.5Z" fill="#128ad3"/>
<path d="M90.0 54.0L88.5 53.1L90.5 52.7L92.0 53.6Z" fill="#0faeb9"/>
<path d="M126.6 61.1L125.1 60.1L127.1 59.8L128.6 60.8Z" fill="#0f90d2"/>
<path d="M86.5 53.6L85.0 52.7L87.0 52.3L88.5 53.1Z" fill="#12afb7"/>
<path d="M123.1 60.3L121.6 59.4L123.6 59.1L125.1 60.1Z" fill="#0a96d1"/>
<path d="M83.0 53.2L81.5 52.3L83.5 51.8L85.0 52.7Z" fill="#15b1b4"/>
<path d="M119.6 59.6L118.1 58.7L120.1 58.4L121.6 59.4Z" fill="#079bd0"/>
<path d="M79.5 52.8L78.0 52.0L80.0 51.5L81.5 52.3Z" fill="#18b2b2"/>
<path d="M116.1 59.0L114.6 58.0L116.6 57.7L118.1 58.7Z" fill="#069fce"/>
<path d="M76.0 52.5L74.5 51.7L76.5 51.1L78.0 52.0Z" fill="#1bb2b0"/>
<path d="M112.6 58.3L111.1 57.3L113.1 57.0L114.6 58.0Z" fill="#06a3cb"/>
<path d="M109.1 57.7L107.6 56.7L109.6 56.4L111.1 57.3Z" fill="#06a6c7"/>
<path d="M105.5 57.1L104.0 56.1L106.1 55.8L107.6 56.7Z" fill="#06a8c3"/>
<path d="M102.0 56.5L100.5 55.5L102.6 55.2L104.0 56.1Z" fill="#08abc0"/>
<path d="M138.6 64.3L137.1 63.3L139.1 63.0L140.6 64.0Z" fill="#1483d5"/>
<path d="M98.5 55.9L97.0 55.0L99.0 54.6L100.5 55.5Z" fill="#0cadbc"/>
<path d="M135.1 63.5L133.6 62.5L135.6 62.3L137.1 63.3Z" fill="#1388d3"/>
<path d="M95.0 55.4L93.5 54.5L95.5 54.1L97.0 55.0Z" fill="#10afb8"/>
<path d="M131.6 62.8L130.1 61.8L132.1 61.5L133.6 62.5Z" fill="#118ed2"/>
<path d="M91.5 54.9L90.0 54.0L92.0 53.6L93.5 54.5Z" fill="#14b0b5"/>
<path d="M128.1 62.1L126.6 61.1L128.6 60.8L130.1 61.8Z" fill="#0c94d2"/>
<path d="M88.0 54.5L86.5 53.6L88.5 53.1L90.0 54.0Z" fill="#18b2b2"/>
<path d="M124.6 61.3L123.1 60.3L125.1 60.1L126.6 61.1Z" fill="#0899d1"/>
<path d="M84.5 54.1L83.0 53.2L85.0 52.7L86.5 53.6Z" fill="#1cb3af"/>
<path d="M121.1 60.6L119.6 59.6L121.6 59.4L123.1 60.3Z" fill="#079ecf"/>
<path d="M81.0 53.7L79.5 52.8L81.5 52.3L83.0 53.2Z" fill="#20b4ad"/>
<path d="M117.6 60.0L116.1 59.0L118.1 58.7L119.6 59.6Z" fill="#06a2cc"/>
<path d="M77.5 53.4L76.0 52.5L78.0 52.0L79.5 52.8Z" fill="#23b4ab"/>
<path d="M114.1 59.3L112.6 58.3L114.6 58.0L116.1 59.0Z" fill="#06a5c8"/>
<path d="M74.0 53.1L72.5 52.3L74.5 51.7L76.0 52.5Z" fill="#25b5aa"/>
<path d="M110.5 58.6L109.1 57.7L111.1 57.3L112.6 58.3Z" fill="#06a8c4"/>
<path d="M107.0 58.0L105.5 57.1L107.6 56.7L109.1 57.7Z" fill="#08aac0"/>
<path d="M103.5 57.4L102.0 56.5L104.0 56.1L105.5 57.1Z" fill="#0cadbc"/>
<path d="M140.1 65.3L138.6 64.3L140.6 64.0L142.1 65.0Z" fill="#1485d4"/>
<path d="M100.0 56.9L98.5 55.9L100.5 55.5L102.0 56.5Z" fill="#10afb8"/>
<path d="M136.6 64.5L135.1 63.5L137.1 63.3L138.6 64.3Z" fill="#128bd2"/>
<path d="M96.5 56.3L95.0 55.4L97.0 55.0L98.5 55.9Z" fill="#15b1b4"/>
<path d="M133.1 63.8L131.6 62.8L133.6 62.5L135.1 63.5Z" fill="#0e91d2"/>
<path d="M93.0 55.8L91.5 54.9L93.5 54.5L95.0 55.4Z" fill="#1ab2b1"/>
<path d="M129.6 63.1L128.1 62.1L130.1 61.8L131.6 62.8Z" fill="#0a97d1"/>
<path d="M89.5 55.4L88.0 54.5L90.0 54.0L91.5 54.9Z" fill="#1fb3ad"/>
<path d="M126.1 62.3L124.6 61.3L126.6 61.1L128.1 62.1Z" fill="#079cd0"/>
<path d="M86.0 54.9L84.5 54.1L86.5 53.6L88.0 54.5Z" fill="#24b5aa"/>
<path d="M122.6 61.6L121.1 60.6L123.1 60.3L124.6 61.3Z" fill="#06a0cd"/>
<path d="M82.5 54.6L81.0 53.7L83.0 53.2L84.5 54.1Z" fill="#28b6a8"/>
<path d="M119.1 60.9L117.6 60.0L119.6 59.6L121.1 60.6Z" fill="#06a4c9"/>
<path d="M79.0 54.2L77.5 53.4L79.5 52.8L81.0 53.7Z" fill="#2bb6a6"/>
<path d="M115.6 60.3L114.1 59.3L116.1 59.0L117.6 60.0Z" fill="#06a7c5"/>
<path d="M75.5 53.9L74.0 53.1L76.0 52.5L77.5 53.4Z" fill="#2eb7a4"/>
<path d="M112.0 59.6L110.5 58.6L112.6 58.3L114.1 59.3Z" fill="#07aac1"/>
<path d="M72.0 53.7L70.5 52.8L72.5 52.3L74.0 53.1Z" fill="#30b7a3"/>
<path d="M108.5 59.0L107.0 58.0L109.1 57.7L110.5 58.6Z" fill="#0bacbd"/>
<path d="M105.0 58.4L103.5 57.4L105.5 57.1L107.0 58.0Z" fill="#10afb9"/>
<path d="M141.6 66.3L140.1 65.3L142.1 65.0L143.6 66.0Z" fill="#1388d3"/>
<path d="M101.5 57.8L100.0 56.9L102.0 56.5L103.5 57.4Z" fill="#15b1b4"/>
<path d="M138.1 65.6L136.6 64.5L138.6 64.3L140.1 65.3Z" fill="#108ed2"/>
<path d="M98.0 57.3L96.5 56.3L98.5 55.9L100.0 56.9Z" fill="#1bb2b0"/>
<path d="M134.6 64.8L133.1 63.8L135.1 63.5L136.6 64.5Z" fill="#0c94d2"/>
<path d="M94.5 56.8L93.0 55.8L95.0 55.4L96.5 56.3Z" fill="#21b4ac"/>
<path d="M131.1 64.1L129.6 63.1L131.6 62.8L133.1 63.8Z" fill="#089ad0"/>
<path d="M91.0 56.3L89.5 55.4L91.5 54.9L93.0 55.8Z" fill="#26b5a9"/>
<path d="M127.6 63.4L126.1 62.3L128.1 62.1L129.6 63.1Z" fill="#069fce"/>
<path d="M87.5 55.9L86.0 54.9L88.0 54.5L89.5 55.4Z" fill="#2bb6a5"/>
<path d="M124.1 62.7L122.6 61.6L124.6 61.3L126.1 62.3Z" fill="#06a3cb"/>
<path d="M84.0 55.4L82.5 54.6L84.5 54.1L86.0 54.9Z" fill="#30b7a3"/>
<path d="M120.6 62.0L119.1 60.9L121.1 60.6L122.6 61.6Z" fill="#06a6c7"/>
<path d="M80.5 55.1L79.0 54.2L81.0 53.7L82.5 54.6Z" fill="#34b8a0"/>
<path d="M117.0 61.3L115.6 60.3L117.6 60.0L119.1 60.9Z" fill="#07a9c2"/>
<path d="M77.0 54.8L75.5 53.9L77.5 53.4L79.0 54.2Z" fill="#37b99e"/>
<path d="M113.5 60.6L112.0 59.6L114.1 59.3L115.6 60.3Z" fill="#0aacbe"/>
<path d="M73.4 54.5L72.0 53.7L74.0 53.1L75.5 53.9Z" fill="#39b99d"/>
<path d="M110.0 60.0L108.5 59.0L110.5 58.6L112.0 59.6Z" fill="#0eaeb9"/>
<path d="M69.9 54.3L68.4 53.5L70.5 52.8L72.0 53.7Z" fill="#3bb99c"/>
<path d="M106.5 59.4L105.0 58.4L107.0 58.0L108.5 59.0Z" fill="#14b0b5"/>
<path d="M143.1 67.4L141.6 66.3L143.6 66.0L145.1 67.1Z" fill="#128bd2"/>
<path d="M103.0 58.8L101.5 57.8L103.5 57.4L105.0 58.4Z" fill="#1bb2b0"/>
<path d="M139.6 66.6L138.1 65.6L140.1 65.3L141.6 66.3Z" fill="#0e91d2"/>
<path d="M99.5 58.2L98.0 57.3L100.0 56.9L101.5 57.8Z" fill="#21b4ac"/>
<path d="M136.1 65.9L134.6 64.8L136.6 64.5L138.1 65.6Z" fill="#0997d1"/>
<path d="M96.0 57.7L94.5 56.8L96.5 56.3L98.0 57.3Z" fill="#28b6a8"/>
<path d="M132.6 65.1L131.1 64.1L133.1 63.8L134.6 64.8Z" fill="#079dcf"/>
<path d="M92.5 57.2L91.0 56.3L93.0 55.8L94.5 56.8Z" fill="#2eb7a4"/>
<path d="M129.1 64.4L127.6 63.4L129.6 63.1L131.1 64.1Z" fill="#06a1cc"/>
<path d="M89.0 56.8L87.5 55.9L89.5 55.4L91.0 56.3Z" fill="#33b8a0"/>
<path d="M125.6 63.7L124.1 62.7L126.1 62.3L127.6 63.4Z" fill="#06a5c9"/>
<path d="M85.5 56.4L84.0 55.4L86.0 54.9L87.5 55.9Z" fill="#39b99d"/>
<path d="M122.1 63.0L120.6 62.0L122.6 61.6L124.1 62.7Z" fill="#06a8c4"/>
<path d="M82.0 56.0L80.5 55.1L82.5 54.6L84.0 55.4Z" fill="#3dba9b"/>
<path d="M118.5 62.3L117.0 61.3L119.1 60.9L120.6 62.0Z" fill="#08abc0"/>
<path d="M78.5 55.6L77.0 54.8L79.0 54.2L80.5 55.1Z" fill="#41ba98"/>
<path d="M115.0 61.6L113.5 60.6L115.6 60.3L117.0 61.3Z" fill="#0dadbb"/>
<path d="M74.9 55.4L73.4 54.5L75.5 53.9L77.0 54.8Z" fill="#44bb97"/>
<path d="M111.5 61.0L110.0 60.0L112.0 59.6L113.5 60.6Z" fill="#13b0b6"/>
<path d="M71.4 55.1L69.9 54.3L72.0 53.7L73.4 54.5Z" fill="#46bb96"/>
<path d="M108.0 60.4L106.5 59.4L108.5 59.0L110.0 60.0Z" fill="#19b2b1"/>
<path d="M144.6 68.4L143.1 67.4L145.1 67.1L146.6 68.1Z" fill="#108ed2"/>
<path d="M67.9 54.9L66.4 54.1L68.4 53.5L69.9 54.3Z" fill="#46bb95"/>
<path d="M104.5 59.8L103.0 58.8L105.0 58.4L106.5 59.4Z" fill="#20b4ad"/>
<path d="M141.1 67.7L139.6 66.6L141.6 66.3L143.1 67.4Z" fill="#0c94d2"/>
<path d="M101.0 59.2L99.5 58.2L101.5 57.8L103.0 58.8Z" fill="#27b6a8"/>
<path d="M137.6 66.9L136.1 65.9L138.1 65.6L139.6 66.6Z" fill="#089ad0"/>
<path d="M97.5 58.7L96.0 57.7L98.0 57.3L99.5 58.2Z" fill="#2eb7a3"/>
<path d="M134.1 66.2L132.6 65.1L134.6 64.8L136.1 65.9Z" fill="#069fce"/>
<path d="M94.0 58.2L92.5 57.2L94.5 56.8L96.0 57.7Z" fill="#35b89f"/>
<path d="M130.6 65.4L129.1 64.4L131.1 64.1L132.6 65.1Z" fill="#06a3cb"/>
<path d="M90.5 57.7L89.0 56.8L91.0 56.3L92.5 57.2Z" fill="#3cba9b"/>
<path d="M127.1 64.7L125.6 63.7L127.6 63.4L129.1 64.4Z" fill="#06a6c6"/>
<path d="M87.0 57.3L85.5 56.4L87.5 55.9L89.0 56.8Z" fill="#42bb98"/>
<path d="M123.6 64.0L122.1 63.0L124.1 62.7L125.6 63.7Z" fill="#07aac2"/>
<path d="M83.5 56.9L82.0 56.0L84.0 55.4L85.5 56.4Z" fill="#47bb95"/>
<path d="M120.0 63.3L118.5 62.3L120.6 62.0L122.1 63.0Z" fill="#0bacbd"/>
<path d="M79.9 56.5L78.5 55.6L80.5 55.1L82.0 56.0Z" fill="#4bbc93"/>
<path d="M116.5 62.7L115.0 61.6L117.0 61.3L118.5 62.3Z" fill="#10afb8"/>
<path d="M76.4 56.2L74.9 55.4L77.0 54.8L78.5 55.6Z" fill="#4fbc91"/>
<path d="M113.0 62.0L111.5 61.0L113.5 60.6L115.0 61.6Z" fill="#17b1b3"/>
<path d="M72.9 56.0L71.4 55.1L73.4 54.5L74.9 55.4Z" fill="#51bc90"/>
<path d="M109.5 61.4L108.0 60.4L110.0 60.0L111.5 61.0Z" fill="#1fb3ae"/>
<path d="M146.1 69.5L144.6 68.4L146.6 68.1L148.1 69.2Z" fill="#0e91d2"/>
<path d="M69.4 55.8L67.9 54.9L69.9 54.3L71.4 55.1Z" fill="#52bd8f"/>
<path d="M106.0 60.8L104.5 59.8L106.5 59.4L108.0 60.4Z" fill="#26b5a9"/>
<path d="M142.6 68.7L141.1 67.7L143.1 67.4L144.6 68.4Z" fill="#0a97d1"/>
<path d="M65.9 55.6L64.4 54.8L66.4 54.1L67.9 54.9Z" fill="#52bd8f"/>
<path d="M102.5 60.2L101.0 59.2L103.0 58.8L104.5 59.8Z" fill="#2eb7a4"/>
<path d="M139.1 68.0L137.6 66.9L139.6 66.6L141.1 67.7Z" fill="#079cd0"/>
<path d="M99.0 59.6L97.5 58.7L99.5 58.2L101.0 59.2Z" fill="#36b99f"/>
<path d="M135.6 67.2L134.1 66.2L136.1 65.9L137.6 66.9Z" fill="#06a1cc"/>
<path d="M95.5 59.1L94.0 58.2L96.0 57.7L97.5 58.7Z" fill="#3dba9b"/>
<path d="M132.1 66.5L130.6 65.4L132.6 65.1L134.1 66.2Z" fill="#06a5c9"/>
<path d="M92.0 58.6L90.5 57.7L92.5 57.2L94.0 58.2Z" fill="#44bb97"/>
<path d="M128.6 65.8L127.1 64.7L129.1 64.4L130.6 65.4Z" fill="#06a8c4"/>
<path d="M88.5 58.2L87.0 57.3L89.0 56.8L90.5 57.7Z" fill="#4bbc93"/>
<path d="M125.0 65.1L123.6 64.0L125.6 63.7L127.1 64.7Z" fill="#09abbf"/>
<path d="M85.0 57.8L83.5 56.9L85.5 56.4L87.0 57.3Z" fill="#51bc90"/>
<path d="M121.5 64.4L120.0 63.3L122.1 63.0L123.6 64.0Z" fill="#0eaeba"/>
<path d="M81.4 57.4L79.9 56.5L82.0 56.0L83.5 56.9Z" fill="#56bd8d"/>
<path d="M118.0 63.7L116.5 62.7L118.5 62.3L120.0 63.3Z" fill="#14b0b5"/>
<path d="M77.9 57.1L76.4 56.2L78.5 55.6L79.9 56.5Z" fill="#59bd8b"/>
<path d="M114.5 63.0L113.0 62.0L115.0 61.6L116.5 62.7Z" fill="#1cb3b0"/>
<path d="M74.4 56.8L72.9 56.0L74.9 55.4L76.4 56.2Z" fill="#5cbe8a"/>
<path d="M111.0 62.4L109.5 61.4L111.5 61.0L113.0 62.0Z" fill="#24b5aa"/>
<path d="M147.6 70.6L146.1 69.5L148.1 69.2L149.6 70.2Z" fill="#0c93d2"/>
<path d="M70.9 56.6L69.4 55.8L71.4 55.1L72.9 56.0Z" fill="#5ebe89"/>
<path d="M107.5 61.8L106.0 60.8L108.0 60.4L109.5 61.4Z" fill="#2cb7a5"/>
<path d="M144.1 69.8L142.6 68.7L144.6 68.4L146.1 69.5Z" fill="#0899d1"/>
<path d="M67.4 56.4L65.9 55.6L67.9 54.9L69.4 55.8Z" fill="#5ebe89"/>
<path d="M104.0 61.2L102.5 60.2L104.5 59.8L106.0 60.8Z" fill="#35b8a0"/>
<path d="M140.6 69.1L139.1 68.0L141.1 67.7L142.6 68.7Z" fill="#069ece"/>
<path d="M63.9 56.3L62.4 55.5L64.4 54.8L65.9 55.6Z" fill="#5dbe89"/>
<path d="M100.5 60.6L99.0 59.6L101.0 59.2L102.5 60.2Z" fill="#3dba9b"/>
<path d="M137.1 68.3L135.6 67.2L137.6 66.9L139.1 68.0Z" fill="#06a3cb"/>
<path d="M97.0 60.1L95.5 59.1L97.5 58.7L99.0 59.6Z" fill="#45bb96"/>
<path d="M133.6 67.6L132.1 66.5L134.1 66.2L135.6 67.2Z" fill="#06a6c7"/>
<path d="M93.5 59.6L92.0 58.6L94.0 58.2L95.5 59.1Z" fill="#4dbc92"/>
<path d="M130.1 66.8L128.6 65.8L130.6 65.4L132.1 66.5Z" fill="#07aac2"/>
<path d="M90.0 59.1L88.5 58.2L90.5 57.7L92.0 58.6Z" fill="#54bd8e"/>
<path d="M126.5 66.1L125.0 65.1L127.1 64.7L128.6 65.8Z" fill="#0bacbd"/>
<path d="M86.5 58.7L85.0 57.8L87.0 57.3L88.5 58.2Z" fill="#5abd8b"/>
<path d="M123.0 65.4L121.5 64.4L123.6 64.0L125.0 65.1Z" fill="#11afb7"/>
<path d="M82.9 58.3L81.4 57.4L83.5 56.9L85.0 57.8Z" fill="#60be88"/>
<path d="M119.5 64.7L118.0 63.7L120.0 63.3L121.5 64.4Z" fill="#19b2b2"/>
<path d="M79.4 58.0L77.9 57.1L79.9 56.5L81.4 57.4Z" fill="#64be86"/>
<path d="M116.0 64.1L114.5 63.0L116.5 62.7L118.0 63.7Z" fill="#21b4ac"/>
<path d="M75.9 57.7L74.4 56.8L76.4 56.2L77.9 57.1Z" fill="#67be85"/>
<path d="M112.5 63.4L111.0 62.4L113.0 62.0L114.5 63.0Z" fill="#29b6a7"/>
<path d="M149.1 71.7L147.6 70.6L149.6 70.2L151.1 71.3Z" fill="#0a96d1"/>
<path d="M72.4 57.5L70.9 56.6L72.9 56.0L74.4 56.8Z" fill="#6abe84"/>
<path d="M109.0 62.8L107.5 61.8L109.5 61.4L111.0 62.4Z" fill="#32b8a1"/>
<path d="M145.6 70.9L144.1 69.8L146.1 69.5L147.6 70.6Z" fill="#079bd0"/>
<path d="M68.9 57.3L67.4 56.4L69.4 55.8L70.9 56.6Z" fill="#6abe83"/>
<path d="M105.5 62.2L104.0 61.2L106.0 60.8L107.5 61.8Z" fill="#3bb99c"/>
<path d="M142.1 70.2L140.6 69.1L142.6 68.7L144.1 69.8Z" fill="#06a0cd"/>
<path d="M65.4 57.1L63.9 56.3L65.9 55.6L67.4 56.4Z" fill="#6abe83"/>
<path d="M102.0 61.6L100.5 60.6L102.5 60.2L104.0 61.2Z" fill="#44bb97"/>
<path d="M138.6 69.4L137.1 68.3L139.1 68.0L140.6 69.1Z" fill="#06a4c9"/>
<path d="M61.9 57.0L60.4 56.2L62.4 55.5L63.9 56.3Z" fill="#68be84"/>
<path d="M98.5 61.1L97.0 60.1L99.0 59.6L100.5 60.6Z" fill="#4dbc92"/>
<path d="M135.1 68.7L133.6 67.6L135.6 67.2L137.1 68.3Z" fill="#06a8c4"/>
<path d="M95.0 60.6L93.5 59.6L95.5 59.1L97.0 60.1Z" fill="#55bd8d"/>
<path d="M131.5 67.9L130.1 66.8L132.1 66.5L133.6 67.6Z" fill="#09abbf"/>
<path d="M91.5 60.1L90.0 59.1L92.0 58.6L93.5 59.6Z" fill="#5dbe89"/>
<path d="M128.0 67.2L126.5 66.1L128.6 65.8L130.1 66.8Z" fill="#0eaeba"/>
<path d="M87.9 59.7L86.5 58.7L88.5 58.2L90.0 59.1Z" fill="#64be86"/>
<path d="M124.5 66.5L123.0 65.4L125.0 65.1L126.5 66.1Z" fill="#15b0b5"/>
<path d="M84.4 59.3L82.9 58.3L85.0 57.8L86.5 58.7Z" fill="#6abe83"/>
<path d="M121.0 65.8L119.5 64.7L121.5 64.4L123.0 65.4Z" fill="#1db3af"/>
<path d="M80.9 58.9L79.4 58.0L81.4 57.4L82.9 58.3Z" fill="#6fbf81"/>
<path d="M117.5 65.1L116.0 64.1L118.0 63.7L119.5 64.7Z" fill="#26b5a9"/>
<path d="M77.4 58.6L75.9 57.7L77.9 57.1L79.4 58.0Z" fill="#72bf80"/>
<path d="M114.0 64.5L112.5 63.4L114.5 63.0L116.0 64.1Z" fill="#2fb7a3"/>
<path d="M150.6 72.8L149.1 71.7L151.1 71.3L152.6 72.4Z" fill="#0998d1"/>
<path d="M73.9 58.3L72.4 57.5L74.4 56.8L75.9 57.7Z" fill="#75bf7f"/>
<path d="M110.5 63.8L109.0 62.8L111.0 62.4L112.5 63.4Z" fill="#38b99e"/>
<path d="M147.1 72.0L145.6 70.9L147.6 70.6L149.1 71.7Z" fill="#079dcf"/>
<path d="M70.4 58.1L68.9 57.3L70.9 56.6L72.4 57.5Z" fill="#76bf7e"/>
<path d="M107.0 63.2L105.5 62.2L107.5 61.8L109.0 62.8Z" fill="#42bb98"/>
<path d="M143.6 71.3L142.1 70.2L144.1 69.8L145.6 70.9Z" fill="#06a2cc"/>
<path d="M66.9 58.0L65.4 57.1L67.4 56.4L68.9 57.3Z" fill="#76bf7e"/>
<path d="M103.5 62.6L102.0 61.6L104.0 61.2L105.5 62.2Z" fill="#4cbc92"/>
<path d="M140.1 70.5L138.6 69.4L140.6 69.1L142.1 70.2Z" fill="#06a6c7"/>
<path d="M63.4 57.8L61.9 57.0L63.9 56.3L65.4 57.1Z" fill="#75bf7f"/>
<path d="M100.0 62.1L98.5 61.1L100.5 60.6L102.0 61.6Z" fill="#55bd8e"/>
<path d="M136.6 69.8L135.1 68.7L137.1 68.3L138.6 69.4Z" fill="#07a9c2"/>
<path d="M59.9 57.8L58.4 57.0L60.4 56.2L61.9 57.0Z" fill="#72bf80"/>
<path d="M96.5 61.6L95.0 60.6L97.0 60.1L98.5 61.1Z" fill="#5ebe89"/>
<path d="M133.0 69.0L131.5 67.9L133.6 67.6L135.1 68.7Z" fill="#0aacbd"/>
<path d="M93.0 61.1L91.5 60.1L93.5 59.6L95.0 60.6Z" fill="#66be85"/>
<path d="M129.5 68.3L128.0 67.2L130.1 66.8L131.5 67.9Z" fill="#11afb8"/>
<path d="M89.4 60.6L87.9 59.7L90.0 59.1L91.5 60.1Z" fill="#6dbf82"/>
<path d="M126.0 67.6L124.5 66.5L126.5 66.1L128.0 67.2Z" fill="#18b2b2"/>
<path d="M85.9 60.2L84.4 59.3L86.5 58.7L87.9 59.7Z" fill="#73bf7f"/>
<path d="M122.5 66.9L121.0 65.8L123.0 65.4L124.5 66.5Z" fill="#21b4ac"/>
<path d="M82.4 59.8L80.9 58.9L82.9 58.3L84.4 59.3Z" fill="#78bf7d"/>
<path d="M119.0 66.2L117.5 65.1L119.5 64.7L121.0 65.8Z" fill="#2ab6a6"/>
<path d="M78.9 59.5L77.4 58.6L79.4 58.0L80.9 58.9Z" fill="#7cbf7b"/>
<path d="M115.5 65.5L114.0 64.5L116.0 64.1L117.5 65.1Z" fill="#34b8a0"/>
<path d="M152.1 73.9L150.6 72.8L152.6 72.4L154.1 73.5Z" fill="#089ad0"/>
<path d="M75.4 59.2L73.9 58.3L75.9 57.7L77.4 58.6Z" fill="#7fbf7a"/>
<path d="M112.0 64.9L110.5 63.8L112.5 63.4L114.0 64.5Z" fill="#3eba9a"/>
<path d="M148.6 73.1L147.1 72.0L149.1 71.7L150.6 72.8Z" fill="#069fce"/>
<path d="M71.9 59.0L70.4 58.1L72.4 57.5L73.9 58.3Z" fill="#81bf7a"/>
<path d="M108.5 64.2L107.0 63.2L109.0 62.8L110.5 63.8Z" fill="#49bb94"/>
<path d="M145.1 72.4L143.6 71.3L145.6 70.9L147.1 72.0Z" fill="#06a3ca"/>
<path d="M68.4 58.8L66.9 58.0L68.9 57.3L70.4 58.1Z" fill="#81bf79"/>
<path d="M105.0 63.7L103.5 62.6L105.5 62.2L107.0 63.2Z" fill="#53bd8f"/>
<path d="M141.6 71.6L140.1 70.5L142.1 70.2L143.6 71.3Z" fill="#06a7c6"/>
<path d="M64.9 58.7L63.4 57.8L65.4 57.1L66.9 58.0Z" fill="#81bf7a"/>
<path d="M101.5 63.1L100.0 62.1L102.0 61.6L103.5 62.6Z" fill="#5dbe8a"/>
<path d="M138.0 70.9L136.6 69.8L138.6 69.4L140.1 70.5Z" fill="#08aac0"/>
<path d="M61.4 58.6L59.9 57.8L61.9 57.0L63.4 57.8Z" fill="#7fbf7a"/>
<path d="M98.0 62.6L96.5 61.6L98.5 61.1L100.0 62.1Z" fill="#66be85"/>
<path d="M134.5 70.1L133.0 69.0L135.1 68.7L136.6 69.8Z" fill="#0dadbb"/>
<path d="M57.9 58.6L56.4 57.8L58.4 57.0L59.9 57.8Z" fill="#7bbf7c"/>
<path d="M94.4 62.0L93.0 61.1L95.0 60.6L96.5 61.6Z" fill="#6fbf81"/>
<path d="M131.0 69.4L129.5 68.3L131.5 67.9L133.0 69.0Z" fill="#14b0b5"/>
<path d="M90.9 61.6L89.4 60.6L91.5 60.1L93.0 61.1Z" fill="#76bf7e"/>
<path d="M127.5 68.7L126.0 67.6L128.0 67.2L129.5 68.3Z" fill="#1cb3af"/>
<path d="M87.4 61.2L85.9 60.2L87.9 59.7L89.4 60.6Z" fill="#7cbf7b"/>
<path d="M124.0 68.0L122.5 66.9L124.5 66.5L126.0 67.6Z" fill="#25b5a9"/>
<path d="M83.9 60.8L82.4 59.8L84.4 59.3L85.9 60.2Z" fill="#81bf79"/>
<path d="M120.5 67.3L119.0 66.2L121.0 65.8L122.5 66.9Z" fill="#2fb7a3"/>
<path d="M80.4 60.4L78.9 59.5L80.9 58.9L82.4 59.8Z" fill="#86bf78"/>
<path d="M117.0 66.6L115.5 65.5L117.5 65.1L119.0 66.2Z" fill="#3ab99d"/>
<path d="M153.6 75.0L152.1 73.9L154.1 73.5L155.6 74.6Z" fill="#079cd0"/>
<path d="M76.9 60.1L75.4 59.2L77.4 58.6L78.9 59.5Z" fill="#89bf76"/>
<path d="M113.5 65.9L112.0 64.9L114.0 64.5L115.5 65.5Z" fill="#44bb97"/>
<path d="M150.1 74.3L148.6 73.1L150.6 72.8L152.1 73.9Z" fill="#06a1cd"/>
<path d="M73.4 59.9L71.9 59.0L73.9 58.3L75.4 59.2Z" fill="#8bbf75"/>
<path d="M110.0 65.3L108.5 64.2L110.5 63.8L112.0 64.9Z" fill="#4fbc91"/>
<path d="M146.6 73.5L145.1 72.4L147.1 72.0L148.6 73.1Z" fill="#06a5c9"/>
<path d="M69.9 59.7L68.4 58.8L70.4 58.1L71.9 59.0Z" fill="#8cbf75"/>
<path d="M106.5 64.7L105.0 63.7L107.0 63.2L108.5 64.2Z" fill="#5abd8b"/>
<path d="M143.1 72.7L141.6 71.6L143.6 71.3L145.1 72.4Z" fill="#06a8c4"/>
<path d="M66.4 59.5L64.9 58.7L66.9 58.0L68.4 58.8Z" fill="#8bbf75"/>
<path d="M103.0 64.1L101.5 63.1L103.5 62.6L105.0 63.7Z" fill="#64be86"/>
<path d="M139.5 72.0L138.0 70.9L140.1 70.5L141.6 71.6Z" fill="#09abbf"/>
<path d="M62.9 59.4L61.4 58.6L63.4 57.8L64.9 58.7Z" fill="#8abf76"/>
<path d="M99.5 63.6L98.0 62.6L100.0 62.1L101.5 63.1Z" fill="#6ebf82"/>
<path d="M136.0 71.2L134.5 70.1L136.6 69.8L138.0 70.9Z" fill="#0faeb9"/>
<path d="M59.4 59.4L57.9 58.6L59.9 57.8L61.4 58.6Z" fill="#87bf77"/>
<path d="M95.9 63.0L94.4 62.0L96.5 61.6L98.0 62.6Z" fill="#77bf7e"/>
<path d="M132.5 70.5L131.0 69.4L133.0 69.0L134.5 70.1Z" fill="#17b1b3"/>
<path d="M55.9 59.4L54.4 58.6L56.4 57.8L57.9 58.6Z" fill="#83bf78"/>
<path d="M92.4 62.6L90.9 61.6L93.0 61.1L94.4 62.0Z" fill="#7ebf7b"/>
<path d="M129.0 69.8L127.5 68.7L129.5 68.3L131.0 69.4Z" fill="#20b4ad"/>
<path d="M88.9 62.1L87.4 61.2L89.4 60.6L90.9 61.6Z" fill="#84bf78"/>
<path d="M125.5 69.1L124.0 68.0L126.0 67.6L127.5 68.7Z" fill="#2ab6a7"/>
<path d="M85.4 61.7L83.9 60.8L85.9 60.2L87.4 61.2Z" fill="#8abf76"/>
<path d="M122.0 68.3L120.5 67.3L122.5 66.9L124.0 68.0Z" fill="#34b8a0"/>
<path d="M81.9 61.4L80.4 60.4L82.4 59.8L83.9 60.8Z" fill="#8ebf74"/>
<path d="M118.5 67.7L117.0 66.6L119.0 66.2L120.5 67.3Z" fill="#3fba9a"/>
<path d="M155.1 76.2L153.6 75.0L155.6 74.6L157.1 75.8Z" fill="#079dcf"/>
<path d="M78.4 61.0L76.9 60.1L78.9 59.5L80.4 60.4Z" fill="#92bf73"/>
<path d="M115.0 67.0L113.5 65.9L115.5 65.5L117.0 66.6Z" fill="#4abc93"/>
<path d="M151.6 75.4L150.1 74.3L152.1 73.9L153.6 75.0Z" fill="#06a2cb"/>
<path d="M74.9 60.8L73.4 59.9L75.4 59.2L76.9 60.1Z" fill="#94bf72"/>
<path d="M111.5 66.4L110.0 65.3L112.0 64.9L113.5 65.9Z" fill="#56bd8d"/>
<path d="M148.1 74.6L146.6 73.5L148.6 73.1L150.1 74.3Z" fill="#06a6c7"/>
<path d="M71.4 60.5L69.9 59.7L71.9 59.0L73.4 59.9Z" fill="#95bf71"/>
<path d="M108.0 65.7L106.5 64.7L108.5 64.2L110.0 65.3Z" fill="#61be88"/>
<path d="M144.5 73.9L143.1 72.7L145.1 72.4L146.6 73.5Z" fill="#07a9c2"/>
<path d="M67.9 60.4L66.4 59.5L68.4 58.8L69.9 59.7Z" fill="#95bf71"/>
<path d="M104.5 65.2L103.0 64.1L105.0 63.7L106.5 64.7Z" fill="#6cbf83"/>
<path d="M141.0 73.1L139.5 72.0L141.6 71.6L143.1 72.7Z" fill="#0bacbd"/>
<path d="M64.4 60.2L62.9 59.4L64.9 58.7L66.4 59.5Z" fill="#95bf71"/>
<path d="M100.9 64.6L99.5 63.6L101.5 63.1L103.0 64.1Z" fill="#75bf7e"/>
<path d="M137.5 72.4L136.0 71.2L138.0 70.9L139.5 72.0Z" fill="#12afb7"/>
<path d="M60.9 60.2L59.4 59.4L61.4 58.6L62.9 59.4Z" fill="#93bf72"/>
<path d="M97.4 64.1L95.9 63.0L98.0 62.6L99.5 63.6Z" fill="#7ebf7b"/>
<path d="M134.0 71.6L132.5 70.5L134.5 70.1L136.0 71.2Z" fill="#1ab2b1"/>
<path d="M57.3 60.2L55.9 59.4L57.9 58.6L59.4 59.4Z" fill="#8fbf74"/>
<path d="M93.9 63.6L92.4 62.6L94.4 62.0L95.9 63.0Z" fill="#86bf78"/>
<path d="M130.5 70.9L129.0 69.8L131.0 69.4L132.5 70.5Z" fill="#23b5ab"/>
<path d="M53.8 60.2L52.3 59.5L54.4 58.6L55.9 59.4Z" fill="#8bbf75"/>
<path d="M90.4 63.1L88.9 62.1L90.9 61.6L92.4 62.6Z" fill="#8cbf75"/>
<path d="M127.0 70.2L125.5 69.1L127.5 68.7L129.0 69.8Z" fill="#2eb7a4"/>
<path d="M86.9 62.7L85.4 61.7L87.4 61.2L88.9 62.1Z" fill="#92bf73"/>
<path d="M123.5 69.5L122.0 68.3L124.0 68.0L125.5 69.1Z" fill="#39b99d"/>
<path d="M83.4 62.3L81.9 61.4L83.9 60.8L85.4 61.7Z" fill="#96bf71"/>
<path d="M120.0 68.8L118.5 67.7L120.5 67.3L122.0 68.3Z" fill="#44bb97"/>
<path d="M156.6 77.3L155.1 76.2L157.1 75.8L158.6 76.9Z" fill="#069fce"/>
<path d="M79.9 62.0L78.4 61.0L80.4 60.4L81.9 61.4Z" fill="#9abf6f"/>
<path d="M116.5 68.1L115.0 67.0L117.0 66.6L118.5 67.7Z" fill="#50bc90"/>
<path d="M153.1 76.6L151.6 75.4L153.6 75.0L155.1 76.2Z" fill="#06a3ca"/>
<path d="M76.4 61.7L74.9 60.8L76.9 60.1L78.4 61.0Z" fill="#9cbf6e"/>
<path d="M113.0 67.4L111.5 66.4L113.5 65.9L115.0 67.0Z" fill="#5cbe8a"/>
<path d="M149.6 75.8L148.1 74.6L150.1 74.3L151.6 75.4Z" fill="#06a7c6"/>
<path d="M72.9 61.4L71.4 60.5L73.4 59.9L74.9 60.8Z" fill="#9ebe6e"/>
<path d="M109.5 66.8L108.0 65.7L110.0 65.3L111.5 66.4Z" fill="#68be84"/>
<path d="M146.0 75.0L144.5 73.9L146.6 73.5L148.1 74.6Z" fill="#08aac1"/>
<path d="M69.4 61.2L67.9 60.4L69.9 59.7L71.4 60.5Z" fill="#9fbe6d"/>
<path d="M106.0 66.2L104.5 65.2L106.5 64.7L108.0 65.7Z" fill="#72bf80"/>
<path d="M142.5 74.3L141.0 73.1L143.1 72.7L144.5 73.9Z" fill="#0dadbb"/>
<path d="M65.9 61.1L64.4 60.2L66.4 59.5L67.9 60.4Z" fill="#9ebe6d"/>
<path d="M102.4 65.6L100.9 64.6L103.0 64.1L104.5 65.2Z" fill="#7cbf7b"/>
<path d="M139.0 73.5L137.5 72.4L139.5 72.0L141.0 73.1Z" fill="#14b0b5"/>
<path d="M62.4 61.0L60.9 60.2L62.9 59.4L64.4 60.2Z" fill="#9dbf6e"/>
<path d="M98.9 65.1L97.4 64.1L99.5 63.6L100.9 64.6Z" fill="#85bf78"/>
<path d="M135.5 72.8L134.0 71.6L136.0 71.2L137.5 72.4Z" fill="#1db3af"/>
<path d="M58.8 61.0L57.3 60.2L59.4 59.4L60.9 60.2Z" fill="#9abf6f"/>
<path d="M95.4 64.6L93.9 63.6L95.9 63.0L97.4 64.1Z" fill="#8cbf75"/>
<path d="M132.0 72.0L130.5 70.9L132.5 70.5L134.0 71.6Z" fill="#27b5a8"/>
<path d="M55.3 61.0L53.8 60.2L55.9 59.4L57.3 60.2Z" fill="#96bf71"/>
<path d="M91.9 64.1L90.4 63.1L92.4 62.6L93.9 63.6Z" fill="#93bf72"/>
<path d="M128.5 71.3L127.0 70.2L129.0 69.8L130.5 70.9Z" fill="#32b8a2"/>
<path d="M51.8 61.1L50.3 60.4L52.3 59.5L53.8 60.2Z" fill="#91bf73"/>
<path d="M88.4 63.7L86.9 62.7L88.9 62.1L90.4 63.1Z" fill="#99bf70"/>
<path d="M125.0 70.6L123.5 69.5L125.5 69.1L127.0 70.2Z" fill="#3dba9b"/>
<path d="M84.9 63.3L83.4 62.3L85.4 61.7L86.9 62.7Z" fill="#9ebe6e"/>
<path d="M121.5 69.9L120.0 68.8L122.0 68.3L123.5 69.5Z" fill="#49bc94"/>
<path d="M81.4 62.9L79.9 62.0L81.9 61.4L83.4 62.3Z" fill="#a1be6c"/>
<path d="M118.0 69.2L116.5 68.1L118.5 67.7L120.0 68.8Z" fill="#56bd8d"/>
<path d="M154.6 77.7L153.1 76.6L155.1 76.2L156.6 77.3Z" fill="#06a4c9"/>
<path d="M77.9 62.6L76.4 61.7L78.4 61.0L79.9 62.0Z" fill="#a4be6b"/>
<path d="M114.5 68.5L113.0 67.4L115.0 67.0L116.5 68.1Z" fill="#62be87"/>
<path d="M151.0 77.0L149.6 75.8L151.6 75.4L153.1 76.6Z" fill="#06a8c4"/>
<path d="M74.4 62.3L72.9 61.4L74.9 60.8L76.4 61.7Z" fill="#a6be6a"/>
<path d="M111.0 67.9L109.5 66.8L111.5 66.4L113.0 67.4Z" fill="#6ebf82"/>
<path d="M147.5 76.2L146.0 75.0L148.1 74.6L149.6 75.8Z" fill="#09abbf"/>
<path d="M70.9 62.1L69.4 61.2L71.4 60.5L72.9 61.4Z" fill="#a7be6a"/>
<path d="M107.4 67.3L106.0 66.2L108.0 65.7L109.5 66.8Z" fill="#79bf7d"/>
<path d="M144.0 75.4L142.5 74.3L144.5 73.9L146.0 75.0Z" fill="#0faeb9"/>
<path d="M67.4 62.0L65.9 61.1L67.9 60.4L69.4 61.2Z" fill="#a7be6a"/>
<path d="M103.9 66.7L102.4 65.6L104.5 65.2L106.0 66.2Z" fill="#82bf79"/>
<path d="M140.5 74.7L139.0 73.5L141.0 73.1L142.5 74.3Z" fill="#17b1b3"/>
<path d="M63.8 61.9L62.4 61.0L64.4 60.2L65.9 61.1Z" fill="#a6be6a"/>
<path d="M100.4 66.1L98.9 65.1L100.9 64.6L102.4 65.6Z" fill="#8bbf75"/>
<path d="M137.0 73.9L135.5 72.8L137.5 72.4L139.0 73.5Z" fill="#20b4ad"/>
<path d="M60.3 61.8L58.8 61.0L60.9 60.2L62.4 61.0Z" fill="#a4be6b"/>
<path d="M96.9 65.6L95.4 64.6L97.4 64.1L98.9 65.1Z" fill="#93bf72"/>
<path d="M133.5 73.2L132.0 72.0L134.0 71.6L135.5 72.8Z" fill="#2ab6a6"/>
<path d="M56.8 61.8L55.3 61.0L57.3 60.2L58.8 61.0Z" fill="#a1be6c"/>
<path d="M93.4 65.1L91.9 64.1L93.9 63.6L95.4 64.6Z" fill="#9abf6f"/>
<path d="M130.0 72.4L128.5 71.3L130.5 70.9L132.0 72.0Z" fill="#35b89f"/>
<path d="M53.3 61.9L51.8 61.1L53.8 60.2L55.3 61.0Z" fill="#9cbf6e"/>
<path d="M89.9 64.7L88.4 63.7L90.4 63.1L91.9 64.1Z" fill="#a0be6d"/>
<path d="M126.5 71.7L125.0 70.6L127.0 70.2L128.5 71.3Z" fill="#41ba98"/>
<path d="M49.8 62.0L48.3 61.3L50.3 60.4L51.8 61.1Z" fill="#96bf71"/>
<path d="M86.4 64.2L84.9 63.3L86.9 62.7L88.4 63.7Z" fill="#a5be6b"/>
<path d="M123.0 71.0L121.5 69.9L123.5 69.5L125.0 70.6Z" fill="#4ebc91"/>
<path d="M82.9 63.9L81.4 62.9L83.4 62.3L84.9 63.3Z" fill="#a9be69"/>
<path d="M119.5 70.3L118.0 69.2L120.0 68.8L121.5 69.9Z" fill="#5bbd8b"/>
<path d="M79.4 63.5L77.9 62.6L79.9 62.0L81.4 62.9Z" fill="#acbe68"/>
<path d="M116.0 69.6L114.5 68.5L116.5 68.1L118.0 69.2Z" fill="#68be84"/>
<path d="M152.5 78.1L151.0 77.0L153.1 76.6L154.6 77.7Z" fill="#07a9c3"/>
<path d="M75.9 63.3L74.4 62.3L76.4 61.7L77.9 62.6Z" fill="#aebe67"/>
<path d="M112.5 69.0L111.0 67.9L113.0 67.4L114.5 68.5Z" fill="#74bf7f"/>
<path d="M149.0 77.4L147.5 76.2L149.6 75.8L151.0 77.0Z" fill="#0aacbe"/>
<path d="M72.4 63.0L70.9 62.1L72.9 61.4L74.4 62.3Z" fill="#b0be67"/>
<path d="M108.9 68.4L107.4 67.3L109.5 66.8L111.0 67.9Z" fill="#7ebf7a"/>
<path d="M145.5 76.6L144.0 75.4L146.0 75.0L147.5 76.2Z" fill="#11afb8"/>
<path d="M68.9 62.8L67.4 62.0L69.4 61.2L70.9 62.1Z" fill="#b0bd66"/>
<path d="M105.4 67.8L103.9 66.7L106.0 66.2L107.4 67.3Z" fill="#88bf76"/>
<path d="M142.0 75.8L140.5 74.7L142.5 74.3L144.0 75.4Z" fill="#19b2b1"/>
<path d="M65.3 62.7L63.8 61.9L65.9 61.1L67.4 62.0Z" fill="#afbe67"/>
<path d="M101.9 67.2L100.4 66.1L102.4 65.6L103.9 66.7Z" fill="#91bf73"/>
<path d="M138.5 75.1L137.0 73.9L139.0 73.5L140.5 74.7Z" fill="#23b4ab"/>
<path d="M61.8 62.6L60.3 61.8L62.4 61.0L63.8 61.9Z" fill="#aebe67"/>
<path d="M98.4 66.6L96.9 65.6L98.9 65.1L100.4 66.1Z" fill="#99bf70"/>
<path d="M135.0 74.3L133.5 73.2L135.5 72.8L137.0 73.9Z" fill="#2eb7a4"/>
<path d="M58.3 62.6L56.8 61.8L58.8 61.0L60.3 61.8Z" fill="#abbe68"/>
<path d="M94.9 66.1L93.4 65.1L95.4 64.6L96.9 65.6Z" fill="#a0be6d"/>
<path d="M131.5 73.6L130.0 72.4L132.0 72.0L133.5 73.2Z" fill="#39b99d"/>
<path d="M54.8 62.7L53.3 61.9L55.3 61.0L56.8 61.8Z" fill="#a7be6a"/>
<path d="M91.4 65.7L89.9 64.7L91.9 64.1L93.4 65.1Z" fill="#a6be6a"/>
<path d="M128.0 72.8L126.5 71.7L128.5 71.3L130.0 72.4Z" fill="#46bb96"/>
<path d="M51.3 62.8L49.8 62.0L51.8 61.1L53.3 61.9Z" fill="#a2be6c"/>
<path d="M87.9 65.2L86.4 64.2L88.4 63.7L89.9 64.7Z" fill="#abbe68"/>
<path d="M124.5 72.1L123.0 71.0L125.0 70.6L126.5 71.7Z" fill="#53bd8f"/>
<path d="M47.8 62.9L46.3 62.2L48.3 61.3L49.8 62.0Z" fill="#9bbf6f"/>
<path d="M84.4 64.8L82.9 63.9L84.9 63.3L86.4 64.2Z" fill="#afbe67"/>
<path d="M121.0 71.4L119.5 70.3L121.5 69.9L123.0 71.0Z" fill="#60be88"/>
<path d="M80.9 64.5L79.4 63.5L81.4 62.9L82.9 63.9Z" fill="#b3bd65"/>
<path d="M117.5 70.7L116.0 69.6L118.0 69.2L119.5 70.3Z" fill="#6dbf82"/>
<path d="M77.4 64.2L75.9 63.3L77.9 62.6L79.4 63.5Z" fill="#b5bd64"/>
<path d="M113.9 70.1L112.5 69.0L114.5 68.5L116.0 69.6Z" fill="#79bf7d"/>
<path d="M150.5 78.6L149.0 77.4L151.0 77.0L152.5 78.1Z" fill="#0badbc"/>
<path d="M73.9 63.9L72.4 63.0L74.4 62.3L75.9 63.3Z" fill="#b7bd64"/>
<path d="M110.4 69.4L108.9 68.4L111.0 67.9L112.5 69.0Z" fill="#84bf78"/>
<path d="M147.0 77.8L145.5 76.6L147.5 76.2L149.0 77.4Z" fill="#13b0b6"/>
<path d="M70.3 63.7L68.9 62.8L70.9 62.1L72.4 63.0Z" fill="#b8bd63"/>
<path d="M106.9 68.8L105.4 67.8L107.4 67.3L108.9 68.4Z" fill="#8ebf74"/>
<path d="M143.5 77.0L142.0 75.8L144.0 75.4L145.5 76.6Z" fill="#1bb2b0"/>
<path d="M66.8 63.6L65.3 62.7L67.4 62.0L68.9 62.8Z" fill="#b8bd63"/>
<path d="M103.4 68.2L101.9 67.2L103.9 66.7L105.4 67.8Z" fill="#97bf71"/>
<path d="M140.0 76.3L138.5 75.1L140.5 74.7L142.0 75.8Z" fill="#26b5a9"/>
<path d="M63.3 63.5L61.8 62.6L63.8 61.9L65.3 62.7Z" fill="#b7bd64"/>
<path d="M99.9 67.7L98.4 66.6L100.4 66.1L101.9 67.2Z" fill="#9fbe6d"/>
<path d="M136.5 75.5L135.0 74.3L137.0 73.9L138.5 75.1Z" fill="#31b8a2"/>
<path d="M59.8 63.4L58.3 62.6L60.3 61.8L61.8 62.6Z" fill="#b4bd65"/>
<path d="M96.4 67.2L94.9 66.1L96.9 65.6L98.4 66.6Z" fill="#a6be6b"/>
<path d="M133.0 74.7L131.5 73.6L133.5 73.2L135.0 74.3Z" fill="#3dba9b"/>
<path d="M56.3 63.4L54.8 62.7L56.8 61.8L58.3 62.6Z" fill="#b1bd66"/>
<path d="M92.9 66.7L91.4 65.7L93.4 65.1L94.9 66.1Z" fill="#acbe68"/>
<path d="M129.5 74.0L128.0 72.8L130.0 72.4L131.5 73.6Z" fill="#4abc94"/>
<path d="M52.8 63.5L51.3 62.8L53.3 61.9L54.8 62.7Z" fill="#adbe68"/>
<path d="M89.4 66.2L87.9 65.2L89.9 64.7L91.4 65.7Z" fill="#b1bd66"/>
<path d="M126.0 73.3L124.5 72.1L126.5 71.7L128.0 72.8Z" fill="#57bd8c"/>
<path d="M49.3 63.7L47.8 62.9L49.8 62.0L51.3 62.8Z" fill="#a7be6a"/>
<path d="M85.9 65.8L84.4 64.8L86.4 64.2L87.9 65.2Z" fill="#b6bd64"/>
<path d="M122.5 72.6L121.0 71.4L123.0 71.0L124.5 72.1Z" fill="#65be86"/>
<path d="M82.4 65.5L80.9 64.5L82.9 63.9L84.4 64.8Z" fill="#b9bd63"/>
<path d="M119.0 71.9L117.5 70.7L119.5 70.3L121.0 71.4Z" fill="#72bf80"/>
<path d="M78.9 65.1L77.4 64.2L79.4 63.5L80.9 64.5Z" fill="#bcbd62"/>
<path d="M115.4 71.2L113.9 70.1L116.0 69.6L117.5 70.7Z" fill="#7ebf7b"/>
<path d="M75.4 64.9L73.9 63.9L75.9 63.3L77.4 64.2Z" fill="#bebc61"/>
<path d="M111.9 70.6L110.4 69.4L112.5 69.0L113.9 70.1Z" fill="#89bf76"/>
<path d="M148.5 79.0L147.0 77.8L149.0 77.4L150.5 78.6Z" fill="#14b0b5"/>
<path d="M71.8 64.6L70.3 63.7L72.4 63.0L73.9 63.9Z" fill="#c0bc60"/>
<path d="M108.4 69.9L106.9 68.8L108.9 68.4L110.4 69.4Z" fill="#93bf72"/>
<path d="M145.0 78.2L143.5 77.0L145.5 76.6L147.0 77.8Z" fill="#1eb3ae"/>
<path d="M68.3 64.5L66.8 63.6L68.9 62.8L70.3 63.7Z" fill="#c0bc60"/>
<path d="M104.9 69.3L103.4 68.2L105.4 67.8L106.9 68.8Z" fill="#9cbf6f"/>
<path d="M141.5 77.4L140.0 76.3L142.0 75.8L143.5 77.0Z" fill="#28b6a8"/>
<path d="M64.8 64.3L63.3 63.5L65.3 62.7L66.8 63.6Z" fill="#bfbc60"/>
<path d="M101.4 68.8L99.9 67.7L101.9 67.2L103.4 68.2Z" fill="#a4be6b"/>
<path d="M138.0 76.7L136.5 75.5L138.5 75.1L140.0 76.3Z" fill="#34b8a0"/>
<path d="M61.3 64.3L59.8 63.4L61.8 62.6L63.3 63.5Z" fill="#bdbc61"/>
<path d="M97.9 68.2L96.4 67.2L98.4 66.6L99.9 67.7Z" fill="#abbe68"/>
<path d="M134.5 75.9L133.0 74.7L135.0 74.3L136.5 75.5Z" fill="#40ba99"/>
<path d="M57.8 64.3L56.3 63.4L58.3 62.6L59.8 63.4Z" fill="#bbbd62"/>
<path d="M94.4 67.7L92.9 66.7L94.9 66.1L96.4 67.2Z" fill="#b1bd66"/>
<path d="M131.0 75.2L129.5 74.0L131.5 73.6L133.0 74.7Z" fill="#4dbc92"/>
<path d="M54.3 64.3L52.8 63.5L54.8 62.7L56.3 63.4Z" fill="#b7bd64"/>
<path d="M90.9 67.3L89.4 66.2L91.4 65.7L92.9 66.7Z" fill="#b7bd64"/>
<path d="M127.5 74.4L126.0 73.3L128.0 72.8L129.5 74.0Z" fill="#5bbd8a"/>
<path d="M50.8 64.4L49.3 63.7L51.3 62.8L52.8 63.5Z" fill="#b2bd66"/>
<path d="M87.4 66.8L85.9 65.8L87.9 65.2L89.4 66.2Z" fill="#bcbd62"/>
<path d="M124.0 73.7L122.5 72.6L124.5 72.1L126.0 73.3Z" fill="#69be84"/>
<path d="M83.9 66.4L82.4 65.5L84.4 64.8L85.9 65.8Z" fill="#c0bc60"/>
<path d="M120.5 73.0L119.0 71.9L121.0 71.4L122.5 72.6Z" fill="#76bf7e"/>
<path d="M80.4 66.1L78.9 65.1L80.9 64.5L82.4 65.5Z" fill="#c3bc5f"/>
<path d="M116.9 72.3L115.4 71.2L117.5 70.7L119.0 71.9Z" fill="#82bf79"/>
<path d="M76.8 65.8L75.4 64.9L77.4 64.2L78.9 65.1Z" fill="#c5bc5e"/>
<path d="M113.4 71.7L111.9 70.6L113.9 70.1L115.4 71.2Z" fill="#8dbf74"/>
<path d="M73.3 65.6L71.8 64.6L73.9 63.9L75.4 64.9Z" fill="#c7bc5d"/>
<path d="M109.9 71.0L108.4 69.9L110.4 69.4L111.9 70.6Z" fill="#97bf70"/>
<path d="M146.5 79.4L145.0 78.2L147.0 77.8L148.5 79.0Z" fill="#20b4ad"/>
<path d="M69.8 65.4L68.3 64.5L70.3 63.7L71.8 64.6Z" fill="#c7bc5d"/>
<path d="M106.4 70.4L104.9 69.3L106.9 68.8L108.4 69.9Z" fill="#a0be6d"/>
<path d="M143.0 78.6L141.5 77.4L143.5 77.0L145.0 78.2Z" fill="#2ab6a6"/>
<path d="M66.3 65.2L64.8 64.3L66.8 63.6L68.3 64.5Z" fill="#c7bc5d"/>
<path d="M102.9 69.8L101.4 68.8L103.4 68.2L104.9 69.3Z" fill="#a8be69"/>
<path d="M139.5 77.9L138.0 76.7L140.0 76.3L141.5 77.4Z" fill="#36b99f"/>
<path d="M62.8 65.1L61.3 64.3L63.3 63.5L64.8 64.3Z" fill="#c6bc5e"/>
<path d="M99.4 69.3L97.9 68.2L99.9 67.7L101.4 68.8Z" fill="#b0bd67"/>
<path d="M136.0 77.1L134.5 75.9L136.5 75.5L138.0 76.7Z" fill="#43bb97"/>
<path d="M59.3 65.1L57.8 64.3L59.8 63.4L61.3 64.3Z" fill="#c3bc5f"/>
<path d="M95.9 68.8L94.4 67.7L96.4 67.2L97.9 68.2Z" fill="#b6bd64"/>
<path d="M132.5 76.4L131.0 75.2L133.0 74.7L134.5 75.9Z" fill="#51bc90"/>
<path d="M55.8 65.1L54.3 64.3L56.3 63.4L57.8 64.3Z" fill="#c0bc60"/>
<path d="M92.4 68.3L90.9 67.3L92.9 66.7L94.4 67.7Z" fill="#bcbd62"/>
<path d="M129.0 75.6L127.5 74.4L129.5 74.0L131.0 75.2Z" fill="#5fbe88"/>
<path d="M52.3 65.2L50.8 64.4L52.8 63.5L54.3 64.3Z" fill="#bcbd62"/>
<path d="M88.9 67.8L87.4 66.8L89.4 66.2L90.9 67.3Z" fill="#c1bc60"/>
<path d="M125.5 74.9L124.0 73.7L126.0 73.3L127.5 74.4Z" fill="#6dbf82"/>
<path d="M85.4 67.4L83.9 66.4L85.9 65.8L87.4 66.8Z" fill="#c5bc5e"/>
<path d="M121.9 74.2L120.5 73.0L122.5 72.6L124.0 73.7Z" fill="#7abf7c"/>
<path d="M81.9 67.1L80.4 66.1L82.4 65.5L83.9 66.4Z" fill="#c9bc5c"/>
<path d="M118.4 73.5L116.9 72.3L119.0 71.9L120.5 73.0Z" fill="#86bf77"/>
<path d="M78.3 66.8L76.8 65.8L78.9 65.1L80.4 66.1Z" fill="#ccbb5b"/>
<path d="M114.9 72.8L113.4 71.7L115.4 71.2L116.9 72.3Z" fill="#91bf73"/>
<path d="M74.8 66.5L73.3 65.6L75.4 64.9L76.8 65.8Z" fill="#cebb5b"/>
<path d="M111.4 72.2L109.9 71.0L111.9 70.6L113.4 71.7Z" fill="#9bbf6f"/>
<path d="M71.3 66.3L69.8 65.4L71.8 64.6L73.3 65.6Z" fill="#cfbb5a"/>
<path d="M107.9 71.5L106.4 70.4L108.4 69.9L109.9 71.0Z" fill="#a5be6b"/>
<path d="M144.5 79.9L143.0 78.6L145.0 78.2L146.5 79.4Z" fill="#2db7a5"/>
<path d="M67.8 66.1L66.3 65.2L68.3 64.5L69.8 65.4Z" fill="#cfbb5a"/>
<path d="M104.4 70.9L102.9 69.8L104.9 69.3L106.4 70.4Z" fill="#adbe68"/>
<path d="M141.0 79.1L139.5 77.9L141.5 77.4L143.0 78.6Z" fill="#39b99d"/>
<path d="M64.3 66.0L62.8 65.1L64.8 64.3L66.3 65.2Z" fill="#cebb5a"/>
<path d="M100.9 70.4L99.4 69.3L101.4 68.8L102.9 69.8Z" fill="#b4bd65"/>
<path d="M137.5 78.3L136.0 77.1L138.0 76.7L139.5 77.9Z" fill="#46bb96"/>
<path d="M60.8 65.9L59.3 65.1L61.3 64.3L62.8 65.1Z" fill="#ccbb5b"/>
<path d="M97.4 69.8L95.9 68.8L97.9 68.2L99.4 69.3Z" fill="#bbbd62"/>
<path d="M134.0 77.6L132.5 76.4L134.5 75.9L136.0 77.1Z" fill="#54bd8e"/>
<path d="M57.3 65.9L55.8 65.1L57.8 64.3L59.3 65.1Z" fill="#c9bc5c"/>
<path d="M93.9 69.3L92.4 68.3L94.4 67.7L95.9 68.8Z" fill="#c1bc60"/>
<path d="M130.5 76.8L129.0 75.6L131.0 75.2L132.5 76.4Z" fill="#63be87"/>
<path d="M53.8 66.0L52.3 65.2L54.3 64.3L55.8 65.1Z" fill="#c5bc5e"/>
<path d="M90.4 68.9L88.9 67.8L90.9 67.3L92.4 68.3Z" fill="#c6bc5d"/>
<path d="M127.0 76.1L125.5 74.9L127.5 74.4L129.0 75.6Z" fill="#71bf80"/>
<path d="M86.9 68.4L85.4 67.4L87.4 66.8L88.9 67.8Z" fill="#cbbb5c"/>
<path d="M123.4 75.3L121.9 74.2L124.0 73.7L125.5 74.9Z" fill="#7ebf7b"/>
<path d="M83.4 68.1L81.9 67.1L83.9 66.4L85.4 67.4Z" fill="#cfbb5a"/>
<path d="M119.9 74.6L118.4 73.5L120.5 73.0L121.9 74.2Z" fill="#8abf76"/>
<path d="M79.8 67.7L78.3 66.8L80.4 66.1L81.9 67.1Z" fill="#d2bb59"/>
<path d="M116.4 74.0L114.9 72.8L116.9 72.3L118.4 73.5Z" fill="#95bf71"/>
<path d="M76.3 67.4L74.8 66.5L76.8 65.8L78.3 66.8Z" fill="#d4bb58"/>
<path d="M112.9 73.3L111.4 72.2L113.4 71.7L114.9 72.8Z" fill="#9fbe6d"/>
<path d="M72.8 67.2L71.3 66.3L73.3 65.6L74.8 66.5Z" fill="#d5ba57"/>
<path d="M109.4 72.7L107.9 71.5L109.9 71.0L111.4 72.2Z" fill="#a9be69"/>
<path d="M69.3 67.0L67.8 66.1L69.8 65.4L71.3 66.3Z" fill="#d6ba57"/>
<path d="M105.9 72.0L104.4 70.9L106.4 70.4L107.9 71.5Z" fill="#b1bd66"/>
<path d="M142.5 80.3L141.0 79.1L143.0 78.6L144.5 79.9Z" fill="#3bb99c"/>
<path d="M65.8 66.9L64.3 66.0L66.3 65.2L67.8 66.1Z" fill="#d5ba57"/>
<path d="M102.4 71.5L100.9 70.4L102.9 69.8L104.4 70.9Z" fill="#b9bd63"/>
<path d="M139.0 79.5L137.5 78.3L139.5 77.9L141.0 79.1Z" fill="#49bb94"/>
<path d="M62.3 66.8L60.8 65.9L62.8 65.1L64.3 66.0Z" fill="#d4bb58"/>
<path d="M98.9 70.9L97.4 69.8L99.4 69.3L100.9 70.4Z" fill="#c0bc60"/>
<path d="M135.5 78.8L134.0 77.6L136.0 77.1L137.5 78.3Z" fill="#57bd8c"/>
<path d="M58.8 66.8L57.3 65.9L59.3 65.1L60.8 65.9Z" fill="#d2bb59"/>
<path d="M95.4 70.4L93.9 69.3L95.9 68.8L97.4 69.8Z" fill="#c6bc5e"/>
<path d="M132.0 78.0L130.5 76.8L132.5 76.4L134.0 77.6Z" fill="#66be85"/>
<path d="M55.3 66.8L53.8 66.0L55.8 65.1L57.3 65.9Z" fill="#cebb5a"/>
<path d="M91.9 69.9L90.4 68.9L92.4 68.3L93.9 69.3Z" fill="#cbbb5b"/>
<path d="M128.4 77.3L127.0 76.1L129.0 75.6L130.5 76.8Z" fill="#74bf7f"/>
<path d="M88.4 69.5L86.9 68.4L88.9 67.8L90.4 68.9Z" fill="#d0bb59"/>
<path d="M124.9 76.5L123.4 75.3L125.5 74.9L127.0 76.1Z" fill="#81bf79"/>
<path d="M84.8 69.1L83.4 68.1L85.4 67.4L86.9 68.4Z" fill="#d4bb58"/>
<path d="M121.4 75.8L119.9 74.6L121.9 74.2L123.4 75.3Z" fill="#8dbf74"/>
<path d="M81.3 68.7L79.8 67.7L81.9 67.1L83.4 68.1Z" fill="#d8ba56"/>
<path d="M117.9 75.1L116.4 74.0L118.4 73.5L119.9 74.6Z" fill="#99bf70"/>
<path d="M77.8 68.4L76.3 67.4L78.3 66.8L79.8 67.7Z" fill="#daba55"/>
<path d="M114.4 74.4L112.9 73.3L114.9 72.8L116.4 74.0Z" fill="#a3be6c"/>
<path d="M74.3 68.1L72.8 67.2L74.8 66.5L76.3 67.4Z" fill="#dcba54"/>
<path d="M110.9 73.8L109.4 72.7L111.4 72.2L112.9 73.3Z" fill="#acbe68"/>
<path d="M70.8 67.9L69.3 67.0L71.3 66.3L72.8 67.2Z" fill="#ddba54"/>
<path d="M107.4 73.2L105.9 72.0L107.9 71.5L109.4 72.7Z" fill="#b5bd65"/>
<path d="M67.3 67.8L65.8 66.9L67.8 66.1L69.3 67.0Z" fill="#ddba54"/>
<path d="M103.9 72.6L102.4 71.5L104.4 70.9L105.9 72.0Z" fill="#bdbd61"/>
<path d="M140.5 80.8L139.0 79.5L141.0 79.1L142.5 80.3Z" fill="#4bbc93"/>
<path d="M63.8 67.7L62.3 66.8L64.3 66.0L65.8 66.9Z" fill="#dcba54"/>
<path d="M100.4 72.0L98.9 70.9L100.9 70.4L102.4 71.5Z" fill="#c4bc5e"/>
<path d="M137.0 80.0L135.5 78.8L137.5 78.3L139.0 79.5Z" fill="#5abd8b"/>
<path d="M60.3 67.6L58.8 66.8L60.8 65.9L62.3 66.8Z" fill="#daba55"/>
<path d="M96.9 71.5L95.4 70.4L97.4 69.8L98.9 70.9Z" fill="#cabb5c"/>
<path d="M133.5 79.2L132.0 78.0L134.0 77.6L135.5 78.8Z" fill="#69be84"/>
<path d="M56.8 67.6L55.3 66.8L57.3 65.9L58.8 66.8Z" fill="#d7ba57"/>
<path d="M93.4 71.0L91.9 69.9L93.9 69.3L95.4 70.4Z" fill="#d0bb59"/>
<path d="M129.9 78.5L128.4 77.3L130.5 76.8L132.0 78.0Z" fill="#77bf7e"/>
<path d="M89.9 70.5L88.4 69.5L90.4 68.9L91.9 69.9Z" fill="#d5ba57"/>
<path d="M126.4 77.7L124.9 76.5L127.0 76.1L128.4 77.3Z" fill="#84bf78"/>
<path d="M86.3 70.1L84.8 69.1L86.9 68.4L88.4 69.5Z" fill="#daba55"/>
<path d="M122.9 77.0L121.4 75.8L123.4 75.3L124.9 76.5Z" fill="#91bf73"/>
<path d="M82.8 69.7L81.3 68.7L83.4 68.1L84.8 69.1Z" fill="#ddba54"/>
<path d="M119.4 76.3L117.9 75.1L119.9 74.6L121.4 75.8Z" fill="#9cbf6e"/>
<path d="M79.3 69.4L77.8 68.4L79.8 67.7L81.3 68.7Z" fill="#e0ba53"/>
<path d="M115.9 75.6L114.4 74.4L116.4 74.0L117.9 75.1Z" fill="#a6be6a"/>
<path d="M75.8 69.1L74.3 68.1L76.3 67.4L77.8 68.4Z" fill="#e2b952"/>
<path d="M112.4 74.9L110.9 73.8L112.9 73.3L114.4 74.4Z" fill="#b0be67"/>
<path d="M72.3 68.9L70.8 67.9L72.8 67.2L74.3 68.1Z" fill="#e3b951"/>
<path d="M108.9 74.3L107.4 73.2L109.4 72.7L110.9 73.8Z" fill="#b8bd63"/>
<path d="M68.8 68.7L67.3 67.8L69.3 67.0L70.8 67.9Z" fill="#e4b951"/>
<path d="M105.4 73.7L103.9 72.6L105.9 72.0L107.4 73.2Z" fill="#c0bc60"/>
<path d="M65.3 68.5L63.8 67.7L65.8 66.9L67.3 67.8Z" fill="#e3b951"/>
<path d="M101.9 73.1L100.4 72.0L102.4 71.5L103.9 72.6Z" fill="#c8bc5d"/>
<path d="M138.5 81.2L137.0 80.0L139.0 79.5L140.5 80.8Z" fill="#5cbe8a"/>
<path d="M61.8 68.5L60.3 67.6L62.3 66.8L63.8 67.7Z" fill="#e2b952"/>
<path d="M98.4 72.6L96.9 71.5L98.9 70.9L100.4 72.0Z" fill="#cebb5a"/>
<path d="M134.9 80.5L133.5 79.2L135.5 78.8L137.0 80.0Z" fill="#6bbf83"/>
<path d="M58.3 68.5L56.8 67.6L58.8 66.8L60.3 67.6Z" fill="#dfba53"/>
<path d="M94.9 72.0L93.4 71.0L95.4 70.4L96.9 71.5Z" fill="#d4bb58"/>
<path d="M131.4 79.7L129.9 78.5L132.0 78.0L133.5 79.2Z" fill="#7abf7d"/>
<path d="M91.3 71.6L89.9 70.5L91.9 69.9L93.4 71.0Z" fill="#daba55"/>
<path d="M127.9 78.9L126.4 77.7L128.4 77.3L129.9 78.5Z" fill="#87bf77"/>
<path d="M87.8 71.1L86.3 70.1L88.4 69.5L89.9 70.5Z" fill="#deba53"/>
<path d="M124.4 78.2L122.9 77.0L124.9 76.5L126.4 77.7Z" fill="#93bf72"/>
<path d="M84.3 70.7L82.8 69.7L84.8 69.1L86.3 70.1Z" fill="#e2b951"/>
<path d="M120.9 77.5L119.4 76.3L121.4 75.8L122.9 77.0Z" fill="#9fbe6d"/>
<path d="M80.8 70.4L79.3 69.4L81.3 68.7L82.8 69.7Z" fill="#e5b950"/>
<path d="M117.4 76.8L115.9 75.6L117.9 75.1L119.4 76.3Z" fill="#a9be69"/>
<path d="M77.3 70.1L75.8 69.1L77.8 68.4L79.3 69.4Z" fill="#e8b94f"/>
<path d="M113.9 76.1L112.4 74.9L114.4 74.4L115.9 75.6Z" fill="#b3bd65"/>
<path d="M73.8 69.8L72.3 68.9L74.3 68.1L75.8 69.1Z" fill="#e9b94e"/>
<path d="M110.4 75.5L108.9 74.3L110.9 73.8L112.4 74.9Z" fill="#bcbd62"/>
<path d="M70.3 69.6L68.8 68.7L70.8 67.9L72.3 68.9Z" fill="#eab94d"/>
<path d="M106.9 74.8L105.4 73.7L107.4 73.2L108.9 74.3Z" fill="#c4bc5f"/>
<path d="M66.8 69.4L65.3 68.5L67.3 67.8L68.8 68.7Z" fill="#eab94e"/>
<path d="M103.4 74.2L101.9 73.1L103.9 72.6L105.4 73.7Z" fill="#cbbb5b"/>
<path d="M63.3 69.3L61.8 68.5L63.8 67.7L65.3 68.5Z" fill="#e9b94e"/>
<path d="M99.9 73.7L98.4 72.6L100.4 72.0L101.9 73.1Z" fill="#d2bb59"/>
<path d="M136.4 81.7L134.9 80.5L137.0 80.0L138.5 81.2Z" fill="#6dbf82"/>
<path d="M59.8 69.3L58.3 68.5L60.3 67.6L61.8 68.5Z" fill="#e7b94f"/>
<path d="M96.4 73.1L94.9 72.0L96.9 71.5L98.4 72.6Z" fill="#d9ba56"/>
<path d="M132.9 80.9L131.4 79.7L133.5 79.2L134.9 80.5Z" fill="#7cbf7c"/>
<path d="M92.8 72.6L91.3 71.6L93.4 71.0L94.9 72.0Z" fill="#deba53"/>
<path d="M129.4 80.2L127.9 78.9L129.9 78.5L131.4 79.7Z" fill="#89bf76"/>
<path d="M89.3 72.2L87.8 71.1L89.9 70.5L91.3 71.6Z" fill="#e3b951"/>
<path d="M125.9 79.4L124.4 78.2L126.4 77.7L127.9 78.9Z" fill="#96bf71"/>
<path d="M85.8 71.8L84.3 70.7L86.3 70.1L87.8 71.1Z" fill="#e7b94f"/>
<path d="M122.4 78.7L120.9 77.5L122.9 77.0L124.4 78.2Z" fill="#a1be6c"/>
<path d="M82.3 71.4L80.8 70.4L82.8 69.7L84.3 70.7Z" fill="#ebb94d"/>
<path d="M118.9 78.0L117.4 76.8L119.4 76.3L120.9 77.5Z" fill="#acbe68"/>
<path d="M78.8 71.1L77.3 70.1L79.3 69.4L80.8 70.4Z" fill="#edb94c"/>
<path d="M115.4 77.3L113.9 76.1L115.9 75.6L117.4 76.8Z" fill="#b5bd64"/>
<path d="M75.3 70.8L73.8 69.8L75.8 69.1L77.3 70.1Z" fill="#efb94a"/>
<path d="M111.9 76.6L110.4 75.5L112.4 74.9L113.9 76.1Z" fill="#bfbc61"/>
<path d="M71.8 70.5L70.3 69.6L72.3 68.9L73.8 69.8Z" fill="#f1b94a"/>
<path d="M108.4 76.0L106.9 74.8L108.9 74.3L110.4 75.5Z" fill="#c7bc5d"/>
<path d="M68.3 70.4L66.8 69.4L68.8 68.7L70.3 69.6Z" fill="#f1b94a"/>
<path d="M104.9 75.4L103.4 74.2L105.4 73.7L106.9 74.8Z" fill="#cfbb5a"/>
<path d="M64.8 70.2L63.3 69.3L65.3 68.5L66.8 69.4Z" fill="#f0b94a"/>
<path d="M101.4 74.8L99.9 73.7L101.9 73.1L103.4 74.2Z" fill="#d6ba57"/>
<path d="M61.3 70.2L59.8 69.3L61.8 68.5L63.3 69.3Z" fill="#efb94b"/>
<path d="M97.8 74.2L96.4 73.1L98.4 72.6L99.9 73.7Z" fill="#dcba54"/>
<path d="M134.4 82.2L132.9 80.9L134.9 80.5L136.4 81.7Z" fill="#7ebf7b"/>
<path d="M94.3 73.7L92.8 72.6L94.9 72.0L96.4 73.1Z" fill="#e2b951"/>
<path d="M130.9 81.4L129.4 80.2L131.4 79.7L132.9 80.9Z" fill="#8bbf75"/>
<path d="M90.8 73.2L89.3 72.2L91.3 71.6L92.8 72.6Z" fill="#e7b94f"/>
<path d="M127.4 80.6L125.9 79.4L127.9 78.9L129.4 80.2Z" fill="#98bf70"/>
<path d="M87.3 72.8L85.8 71.8L87.8 71.1L89.3 72.2Z" fill="#ecb94c"/>
<path d="M123.9 79.9L122.4 78.7L124.4 78.2L125.9 79.4Z" fill="#a3be6c"/>
<path d="M83.8 72.4L82.3 71.4L84.3 70.7L85.8 71.8Z" fill="#f0b94a"/>
<path d="M120.4 79.2L118.9 78.0L120.9 77.5L122.4 78.7Z" fill="#aebe67"/>
<path d="M80.3 72.1L78.8 71.1L80.8 70.4L82.3 71.4Z" fill="#f3b948"/>
<path d="M116.9 78.5L115.4 77.3L117.4 76.8L118.9 78.0Z" fill="#b8bd63"/>
<path d="M76.8 71.7L75.3 70.8L77.3 70.1L78.8 71.1Z" fill="#f5ba47"/>
<path d="M113.4 77.8L111.9 76.6L113.9 76.1L115.4 77.3Z" fill="#c1bc60"/>
<path d="M73.3 71.5L71.8 70.5L73.8 69.8L75.3 70.8Z" fill="#f6ba46"/>
<path d="M109.9 77.1L108.4 76.0L110.4 75.5L111.9 76.6Z" fill="#cabb5c"/>
<path d="M69.8 71.3L68.3 70.4L70.3 69.6L71.8 70.5Z" fill="#f7ba45"/>
<path d="M106.4 76.5L104.9 75.4L106.9 74.8L108.4 76.0Z" fill="#d2bb59"/>
<path d="M66.3 71.1L64.8 70.2L66.8 69.4L68.3 70.4Z" fill="#f7ba45"/>
<path d="M102.9 75.9L101.4 74.8L103.4 74.2L104.9 75.4Z" fill="#d9ba56"/>
<path d="M62.8 71.0L61.3 70.2L63.3 69.3L64.8 70.2Z" fill="#f6ba46"/>
<path d="M99.3 75.3L97.8 74.2L99.9 73.7L101.4 74.8Z" fill="#e0ba53"/>
<path d="M95.8 74.8L94.3 73.7L96.4 73.1L97.8 74.2Z" fill="#e6b950"/>
<path d="M132.4 82.7L130.9 81.4L132.9 80.9L134.4 82.2Z" fill="#8dbf74"/>
<path d="M92.3 74.3L90.8 73.2L92.8 72.6L94.3 73.7Z" fill="#ecb94d"/>
<path d="M128.9 81.9L127.4 80.6L129.4 80.2L130.9 81.4Z" fill="#9abf6f"/>
<path d="M88.8 73.9L87.3 72.8L89.3 72.2L90.8 73.2Z" fill="#f0b94a"/>
<path d="M125.4 81.1L123.9 79.9L125.9 79.4L127.4 80.6Z" fill="#a5be6b"/>
<path d="M85.3 73.4L83.8 72.4L85.8 71.8L87.3 72.8Z" fill="#f4ba47"/>
<path d="M121.9 80.4L120.4 79.2L122.4 78.7L123.9 79.9Z" fill="#b0bd66"/>
<path d="M81.8 73.1L80.3 72.1L82.3 71.4L83.8 72.4Z" fill="#f7ba45"/>
<path d="M118.4 79.7L116.9 78.5L118.9 78.0L120.4 79.2Z" fill="#babd62"/>
<path d="M78.3 72.7L76.8 71.7L78.8 71.1L80.3 72.1Z" fill="#f9bb43"/>
<path d="M114.9 79.0L113.4 77.8L115.4 77.3L116.9 78.5Z" fill="#c4bc5f"/>
<path d="M74.8 72.5L73.3 71.5L75.3 70.8L76.8 71.7Z" fill="#fbbc41"/>
<path d="M111.4 78.3L109.9 77.1L111.9 76.6L113.4 77.8Z" fill="#ccbb5b"/>
<path d="M71.3 72.2L69.8 71.3L71.8 70.5L73.3 71.5Z" fill="#fbbd40"/>
<path d="M107.9 77.7L106.4 76.5L108.4 76.0L109.9 77.1Z" fill="#d5bb58"/>
<path d="M67.8 72.1L66.3 71.1L68.3 70.4L69.8 71.3Z" fill="#fbbd40"/>
<path d="M104.3 77.1L102.9 75.9L104.9 75.4L106.4 76.5Z" fill="#dcba54"/>
<path d="M64.3 71.9L62.8 71.0L64.8 70.2L66.3 71.1Z" fill="#fbbc41"/>
<path d="M100.8 76.5L99.3 75.3L101.4 74.8L102.9 75.9Z" fill="#e3b951"/>
<path d="M97.3 75.9L95.8 74.8L97.8 74.2L99.3 75.3Z" fill="#eab94e"/>
<path d="M93.8 75.4L92.3 74.3L94.3 73.7L95.8 74.8Z" fill="#efb94a"/>
<path d="M130.4 83.1L128.9 81.9L130.9 81.4L132.4 82.7Z" fill="#9bbf6f"/>
<path d="M90.3 74.9L88.8 73.9L90.8 73.2L92.3 74.3Z" fill="#f4ba47"/>
<path d="M126.9 82.4L125.4 81.1L127.4 80.6L128.9 81.9Z" fill="#a7be6a"/>
<path d="M86.8 74.5L85.3 73.4L87.3 72.8L88.8 73.9Z" fill="#f8bb44"/>
<path d="M123.4 81.6L121.9 80.4L123.9 79.9L125.4 81.1Z" fill="#b2bd66"/>
<path d="M83.3 74.1L81.8 73.1L83.8 72.4L85.3 73.4Z" fill="#fbbc41"/>
<path d="M119.9 80.9L118.4 79.7L120.4 79.2L121.9 80.4Z" fill="#bcbd62"/>
<path d="M79.8 73.8L78.3 72.7L80.3 72.1L81.8 73.1Z" fill="#fdbe3e"/>
<path d="M116.4 80.2L114.9 79.0L116.9 78.5L118.4 79.7Z" fill="#c6bc5e"/>
<path d="M76.3 73.4L74.8 72.5L76.8 71.7L78.3 72.7Z" fill="#febf3c"/>
<path d="M112.9 79.5L111.4 78.3L113.4 77.8L114.9 79.0Z" fill="#cfbb5a"/>
<path d="M72.8 73.2L71.3 72.2L73.3 71.5L74.8 72.5Z" fill="#fec03b"/>
<path d="M109.4 78.8L107.9 77.7L109.9 77.1L111.4 78.3Z" fill="#d7ba56"/>
<path d="M69.3 73.0L67.8 72.1L69.8 71.3L71.3 72.2Z" fill="#fec03b"/>
<path d="M105.8 78.2L104.3 77.1L106.4 76.5L107.9 77.7Z" fill="#dfba53"/>
<path d="M65.8 72.9L64.3 71.9L66.3 71.1L67.8 72.1Z" fill="#fec03b"/>
<path d="M102.3 77.6L100.8 76.5L102.9 75.9L104.3 77.1Z" fill="#e6b94f"/>
<path d="M98.8 77.0L97.3 75.9L99.3 75.3L100.8 76.5Z" fill="#edb94c"/>
<path d="M95.3 76.5L93.8 75.4L95.8 74.8L97.3 75.9Z" fill="#f3ba48"/>
<path d="M91.8 76.0L90.3 74.9L92.3 74.3L93.8 75.4Z" fill="#f8ba44"/>
<path d="M128.4 83.6L126.9 82.4L128.9 81.9L130.4 83.1Z" fill="#a8be6a"/>
<path d="M88.3 75.6L86.8 74.5L88.8 73.9L90.3 74.9Z" fill="#fbbc40"/>
<path d="M124.9 82.9L123.4 81.6L125.4 81.1L126.9 82.4Z" fill="#b3bd65"/>
<path d="M84.8 75.1L83.3 74.1L85.3 73.4L86.8 74.5Z" fill="#febe3d"/>
<path d="M121.4 82.1L119.9 80.9L121.9 80.4L123.4 81.6Z" fill="#bebc61"/>
<path d="M81.3 74.8L79.8 73.8L81.8 73.1L83.3 74.1Z" fill="#fec13a"/>
<path d="M117.9 81.4L116.4 80.2L118.4 79.7L119.9 80.9Z" fill="#c8bc5d"/>
<path d="M77.8 74.4L76.3 73.4L78.3 72.7L79.8 73.8Z" fill="#ffc238"/>
<path d="M114.4 80.7L112.9 79.5L114.9 79.0L116.4 80.2Z" fill="#d1bb59"/>
<path d="M74.3 74.2L72.8 73.2L74.8 72.5L76.3 73.4Z" fill="#ffc337"/>
<path d="M110.8 80.0L109.4 78.8L111.4 78.3L112.9 79.5Z" fill="#daba55"/>
<path d="M70.8 73.9L69.3 73.0L71.3 72.2L72.8 73.2Z" fill="#ffc436"/>
<path d="M107.3 79.4L105.8 78.2L107.9 77.7L109.4 78.8Z" fill="#e2b952"/>
<path d="M67.2 73.8L65.8 72.9L67.8 72.1L69.3 73.0Z" fill="#ffc436"/>
<path d="M103.8 78.8L102.3 77.6L104.3 77.1L105.8 78.2Z" fill="#e9b94e"/>
<path d="M100.3 78.2L98.8 77.0L100.8 76.5L102.3 77.6Z" fill="#f0b94a"/>
<path d="M96.8 77.6L95.3 76.5L97.3 75.9L98.8 77.0Z" fill="#f6ba46"/>
<path d="M93.3 77.1L91.8 76.0L93.8 75.4L95.3 76.5Z" fill="#fabc41"/>
<path d="M89.8 76.6L88.3 75.6L90.3 74.9L91.8 76.0Z" fill="#fdbe3d"/>
<path d="M126.4 84.1L124.9 82.9L126.9 82.4L128.4 83.6Z" fill="#b5bd65"/>
<path d="M86.3 76.2L84.8 75.1L86.8 74.5L88.3 75.6Z" fill="#fec13a"/>
<path d="M122.9 83.4L121.4 82.1L123.4 81.6L124.9 82.9Z" fill="#bfbc60"/>
<path d="M82.8 75.8L81.3 74.8L83.3 74.1L84.8 75.1Z" fill="#ffc437"/>
<path d="M119.4 82.6L117.9 81.4L119.9 80.9L121.4 82.1Z" fill="#c9bb5c"/>
<path d="M79.3 75.5L77.8 74.4L79.8 73.8L81.3 74.8Z" fill="#fec635"/>
<path d="M115.9 81.9L114.4 80.7L116.4 80.2L117.9 81.4Z" fill="#d3bb58"/>
<path d="M75.8 75.2L74.3 74.2L76.3 73.4L77.8 74.4Z" fill="#fec733"/>
<path d="M112.3 81.2L110.8 80.0L112.9 79.5L114.4 80.7Z" fill="#dcba54"/>
<path d="M72.3 74.9L70.8 73.9L72.8 73.2L74.3 74.2Z" fill="#fec833"/>
<path d="M108.8 80.6L107.3 79.4L109.4 78.8L110.8 80.0Z" fill="#e4b951"/>
<path d="M68.7 74.7L67.2 73.8L69.3 73.0L70.8 73.9Z" fill="#fec832"/>
<path d="M105.3 79.9L103.8 78.8L105.8 78.2L107.3 79.4Z" fill="#ecb94d"/>
<path d="M101.8 79.3L100.3 78.2L102.3 77.6L103.8 78.8Z" fill="#f3b948"/>
<path d="M98.3 78.8L96.8 77.6L98.8 77.0L100.3 78.2Z" fill="#f9bb43"/>
<path d="M94.8 78.2L93.3 77.1L95.3 76.5L96.8 77.6Z" fill="#fdbe3e"/>
<path d="M91.3 77.7L89.8 76.6L91.8 76.0L93.3 77.1Z" fill="#fec13a"/>
<path d="M87.8 77.3L86.3 76.2L88.3 75.6L89.8 76.6Z" fill="#ffc436"/>
<path d="M124.4 84.6L122.9 83.4L124.9 82.9L126.4 84.1Z" fill="#c0bc60"/>
<path d="M84.3 76.9L82.8 75.8L84.8 75.1L86.3 76.2Z" fill="#fec734"/>
<path d="M120.9 83.9L119.4 82.6L121.4 82.1L122.9 83.4Z" fill="#cbbb5c"/>
<path d="M80.8 76.5L79.3 75.5L81.3 74.8L82.8 75.8Z" fill="#fec932"/>
<path d="M117.3 83.2L115.9 81.9L117.9 81.4L119.4 82.6Z" fill="#d4bb58"/>
<path d="M77.3 76.2L75.8 75.2L77.8 74.4L79.3 75.5Z" fill="#fdcb30"/>
<path d="M113.8 82.5L112.3 81.2L114.4 80.7L115.9 81.9Z" fill="#ddba54"/>
<path d="M73.7 75.9L72.3 74.9L74.3 74.2L75.8 75.2Z" fill="#fdcc2f"/>
<path d="M110.3 81.8L108.8 80.6L110.8 80.0L112.3 81.2Z" fill="#e6b950"/>
<path d="M70.2 75.7L68.7 74.7L70.8 73.9L72.3 74.9Z" fill="#fccc2f"/>
<path d="M106.8 81.1L105.3 79.9L107.3 79.4L108.8 80.6Z" fill="#eeb94b"/>
<path d="M103.3 80.5L101.8 79.3L103.8 78.8L105.3 79.9Z" fill="#f5ba46"/>
<path d="M99.8 79.9L98.3 78.8L100.3 78.2L101.8 79.3Z" fill="#fbbc41"/>
<path d="M96.3 79.4L94.8 78.2L96.8 77.6L98.3 78.8Z" fill="#febf3c"/>
<path d="M92.8 78.8L91.3 77.7L93.3 77.1L94.8 78.2Z" fill="#ffc337"/>
<path d="M89.3 78.4L87.8 77.3L89.8 76.6L91.3 77.7Z" fill="#fec634"/>
<path d="M85.8 77.9L84.3 76.9L86.3 76.2L87.8 77.3Z" fill="#fdc931"/>
<path d="M122.4 85.2L120.9 83.9L122.9 83.4L124.4 84.6Z" fill="#ccbb5b"/>
<path d="M82.3 77.5L80.8 76.5L82.8 75.8L84.3 76.9Z" fill="#fdcc2f"/>
<path d="M118.8 84.4L117.3 83.2L119.4 82.6L120.9 83.9Z" fill="#d6ba57"/>
<path d="M78.8 77.2L77.3 76.2L79.3 75.5L80.8 76.5Z" fill="#fcce2e"/>
<path d="M115.3 83.7L113.8 82.5L115.9 81.9L117.3 83.2Z" fill="#dfba53"/>
<path d="M75.2 76.9L73.7 75.9L75.8 75.2L77.3 76.2Z" fill="#fbcf2c"/>
<path d="M111.8 83.0L110.3 81.8L112.3 81.2L113.8 82.5Z" fill="#e8b94f"/>
<path d="M71.7 76.6L70.2 75.7L72.3 74.9L73.7 75.9Z" fill="#fbd02c"/>
<path d="M108.3 82.3L106.8 81.1L108.8 80.6L110.3 81.8Z" fill="#f0b94a"/>
<path d="M104.8 81.7L103.3 80.5L105.3 79.9L106.8 81.1Z" fill="#f7ba45"/>
<path d="M101.3 81.1L99.8 79.9L101.8 79.3L103.3 80.5Z" fill="#fcbd3f"/>
<path d="M97.8 80.5L96.3 79.4L98.3 78.8L99.8 79.9Z" fill="#fec139"/>
<path d="M94.3 80.0L92.8 78.8L94.8 78.2L96.3 79.4Z" fill="#fec535"/>
<path d="M90.8 79.5L89.3 78.4L91.3 77.7L92.8 78.8Z" fill="#fec932"/>
<path d="M87.3 79.0L85.8 77.9L87.8 77.3L89.3 78.4Z" fill="#fdcc2f"/>
<path d="M83.8 78.6L82.3 77.5L84.3 76.9L85.8 77.9Z" fill="#fbcf2d"/>
<path d="M120.3 85.7L118.8 84.4L120.9 83.9L122.4 85.2Z" fill="#d7ba57"/>
<path d="M80.2 78.2L78.8 77.2L80.8 76.5L82.3 77.5Z" fill="#fad12b"/>
<path d="M116.8 84.9L115.3 83.7L117.3 83.2L118.8 84.4Z" fill="#e0ba52"/>
<path d="M76.7 77.9L75.2 76.9L77.3 76.2L78.8 77.2Z" fill="#fad32a"/>
<path d="M113.3 84.2L111.8 83.0L113.8 82.5L115.3 83.7Z" fill="#e9b94e"/>
<path d="M73.2 77.6L71.7 76.6L73.7 75.9L75.2 76.9Z" fill="#f9d429"/>
<path d="M109.8 83.5L108.3 82.3L110.3 81.8L111.8 83.0Z" fill="#f2b949"/>
<path d="M106.3 82.9L104.8 81.7L106.8 81.1L108.3 82.3Z" fill="#f9bb43"/>
<path d="M102.8 82.3L101.3 81.1L103.3 80.5L104.8 81.7Z" fill="#febf3d"/>
<path d="M99.3 81.7L97.8 80.5L99.8 79.9L101.3 81.1Z" fill="#ffc337"/>
<path d="M95.8 81.1L94.3 80.0L96.3 79.4L97.8 80.5Z" fill="#fec733"/>
<path d="M92.3 80.6L90.8 79.5L92.8 78.8L94.3 80.0Z" fill="#fdcb30"/>
<path d="M88.8 80.1L87.3 79.0L89.3 78.4L90.8 79.5Z" fill="#fccf2d"/>
<path d="M85.3 79.7L83.8 78.6L85.8 77.9L87.3 79.0Z" fill="#fad22b"/>
<path d="M81.7 79.3L80.2 78.2L82.3 77.5L83.8 78.6Z" fill="#f9d429"/>
<path d="M118.3 86.2L116.8 84.9L118.8 84.4L120.3 85.7Z" fill="#e1b952"/>
<path d="M78.2 78.9L76.7 77.9L78.8 77.2L80.2 78.2Z" fill="#f8d627"/>
<path d="M114.8 85.5L113.3 84.2L115.3 83.7L116.8 84.9Z" fill="#ebb94d"/>
<path d="M74.7 78.6L73.2 77.6L75.2 76.9L76.7 77.9Z" fill="#f8d726"/>
<path d="M111.3 84.8L109.8 83.5L111.8 83.0L113.3 84.2Z" fill="#f3ba48"/>
<path d="M107.8 84.1L106.3 82.9L108.3 82.3L109.8 83.5Z" fill="#fabc41"/>
<path d="M104.3 83.5L102.8 82.3L104.8 81.7L106.3 82.9Z" fill="#fec03b"/>
<path d="M100.8 82.8L99.3 81.7L101.3 81.1L102.8 82.3Z" fill="#fec536"/>
<path d="M97.3 82.3L95.8 81.1L97.8 80.5L99.3 81.7Z" fill="#fec932"/>
<path d="M93.8 81.7L92.3 80.6L94.3 80.0L95.8 81.1Z" fill="#fccd2e"/>
<path d="M90.3 81.2L88.8 80.1L90.8 79.5L92.3 80.6Z" fill="#fbd12b"/>
<path d="M86.8 80.8L85.3 79.7L87.3 79.0L88.8 80.1Z" fill="#f9d429"/>
<path d="M83.2 80.3L81.7 79.3L83.8 78.6L85.3 79.7Z" fill="#f8d727"/>
<path d="M79.7 80.0L78.2 78.9L80.2 78.2L81.7 79.3Z" fill="#f7d925"/>
<path d="M116.3 86.7L114.8 85.5L116.8 84.9L118.3 86.2Z" fill="#ecb94d"/>
<path d="M76.2 79.7L74.7 78.6L76.7 77.9L78.2 78.9Z" fill="#f6db24"/>
<path d="M112.8 86.0L111.3 84.8L113.3 84.2L114.8 85.5Z" fill="#f5ba47"/>
<path d="M109.3 85.3L107.8 84.1L109.8 83.5L111.3 84.8Z" fill="#fbbd40"/>
<path d="M105.8 84.7L104.3 83.5L106.3 82.9L107.8 84.1Z" fill="#fec13a"/>
<path d="M102.3 84.0L100.8 82.8L102.8 82.3L104.3 83.5Z" fill="#fec634"/>
<path d="M98.8 83.4L97.3 82.3L99.3 81.7L100.8 82.8Z" fill="#fdcb30"/>
<path d="M95.3 82.9L93.8 81.7L95.8 81.1L97.3 82.3Z" fill="#fbcf2d"/>
<path d="M91.8 82.4L90.3 81.2L92.3 80.6L93.8 81.7Z" fill="#fad32a"/>
<path d="M88.2 81.9L86.8 80.8L88.8 80.1L90.3 81.2Z" fill="#f8d727"/>
<path d="M84.7 81.4L83.2 80.3L85.3 79.7L86.8 80.8Z" fill="#f7da25"/>
<path d="M81.2 81.0L79.7 80.0L81.7 79.3L83.2 80.3Z" fill="#f6dc23"/>
<path d="M77.7 80.7L76.2 79.7L78.2 78.9L79.7 80.0Z" fill="#f5df21"/>
<path d="M114.3 87.3L112.8 86.0L114.8 85.5L116.3 86.7Z" fill="#f6ba46"/>
<path d="M110.8 86.6L109.3 85.3L111.3 84.8L112.8 86.0Z" fill="#fcbd3f"/>
<path d="M107.3 85.9L105.8 84.7L107.8 84.1L109.3 85.3Z" fill="#ffc238"/>
<path d="M103.8 85.2L102.3 84.0L104.3 83.5L105.8 84.7Z" fill="#fec833"/>
<path d="M100.3 84.6L98.8 83.4L100.8 82.8L102.3 84.0Z" fill="#fccc2f"/>
<path d="M96.8 84.0L95.3 82.9L97.3 82.3L98.8 83.4Z" fill="#fbd12b"/>
<path d="M93.3 83.5L91.8 82.4L93.8 81.7L95.3 82.9Z" fill="#f9d528"/>
<path d="M89.7 83.0L88.2 81.9L90.3 81.2L91.8 82.4Z" fill="#f7d925"/>
<path d="M86.2 82.5L84.7 81.4L86.8 80.8L88.2 81.9Z" fill="#f6dc23"/>
<path d="M82.7 82.1L81.2 81.0L83.2 80.3L84.7 81.4Z" fill="#f5e020"/>
<path d="M79.2 81.7L77.7 80.7L79.7 80.0L81.2 81.0Z" fill="#f5e21e"/>
<path d="M112.3 87.8L110.8 86.6L112.8 86.0L114.3 87.3Z" fill="#fdbe3e"/>
<path d="M108.8 87.1L107.3 85.9L109.3 85.3L110.8 86.6Z" fill="#ffc337"/>
<path d="M105.3 86.5L103.8 85.2L105.8 84.7L107.3 85.9Z" fill="#fec932"/>
<path d="M101.8 85.8L100.3 84.6L102.3 84.0L103.8 85.2Z" fill="#fcce2e"/>
<path d="M98.3 85.2L96.8 84.0L98.8 83.4L100.3 84.6Z" fill="#fad32a"/>
<path d="M94.7 84.6L93.3 83.5L95.3 82.9L96.8 84.0Z" fill="#f8d727"/>
<path d="M91.2 84.1L89.7 83.0L91.8 82.4L93.3 83.5Z" fill="#f6db23"/>
<path d="M87.7 83.6L86.2 82.5L88.2 81.9L89.7 83.0Z" fill="#f5df21"/>
<path d="M84.2 83.2L82.7 82.1L84.7 81.4L86.2 82.5Z" fill="#f5e31e"/>
<path d="M80.7 82.8L79.2 81.7L81.2 81.0L82.7 82.1Z" fill="#f5e61c"/>
<path d="M110.3 88.4L108.8 87.1L110.8 86.6L112.3 87.8Z" fill="#ffc436"/>
<path d="M106.8 87.7L105.3 86.5L107.3 85.9L108.8 87.1Z" fill="#fdca31"/>
<path d="M103.3 87.0L101.8 85.8L103.8 85.2L105.3 86.5Z" fill="#fbcf2d"/>
<path d="M99.8 86.4L98.3 85.2L100.3 84.6L101.8 85.8Z" fill="#f9d429"/>
<path d="M96.2 85.8L94.7 84.6L96.8 84.0L98.3 85.2Z" fill="#f7d925"/>
<path d="M92.7 85.3L91.2 84.1L93.3 83.5L94.7 84.6Z" fill="#f6dd22"/>
<path d="M89.2 84.8L87.7 83.6L89.7 83.0L91.2 84.1Z" fill="#f5e21f"/>
<path d="M85.7 84.3L84.2 83.2L86.2 82.5L87.7 83.6Z" fill="#f5e61c"/>
<path d="M82.2 83.9L80.7 82.8L82.7 82.1L84.2 83.2Z" fill="#f5e919"/>
<path d="M108.3 88.9L106.8 87.7L108.8 87.1L110.3 88.4Z" fill="#fdcb30"/>
<path d="M104.8 88.3L103.3 87.0L105.3 86.5L106.8 87.7Z" fill="#fbd02c"/>
<path d="M101.2 87.6L99.8 86.4L101.8 85.8L103.3 87.0Z" fill="#f9d528"/>
<path d="M97.7 87.0L96.2 85.8L98.3 85.2L99.8 86.4Z" fill="#f7da24"/>
<path d="M94.2 86.4L92.7 85.3L94.7 84.6L96.2 85.8Z" fill="#f5df20"/>
<path d="M90.7 85.9L89.2 84.8L91.2 84.1L92.7 85.3Z" fill="#f5e41d"/>
<path d="M87.2 85.4L85.7 84.3L87.7 83.6L89.2 84.8Z" fill="#f5e81a"/>
<path d="M83.7 85.0L82.2 83.9L84.2 83.2L85.7 84.3Z" fill="#f5ed17"/>
<path d="M106.3 89.5L104.8 88.3L106.8 87.7L108.3 88.9Z" fill="#fad12b"/>
<path d="M102.7 88.8L101.2 87.6L103.3 87.0L104.8 88.3Z" fill="#f8d627"/>
<path d="M99.2 88.2L97.7 87.0L99.8 86.4L101.2 87.6Z" fill="#f6dc23"/>
<path d="M95.7 87.6L94.2 86.4L96.2 85.8L97.7 87.0Z" fill="#f5e11f"/>
<path d="M92.2 87.1L90.7 85.9L92.7 85.3L94.2 86.4Z" fill="#f5e61b"/>
<path d="M88.7 86.5L87.2 85.4L89.2 84.8L90.7 85.9Z" fill="#f5eb18"/>
<path d="M85.2 86.1L83.7 85.0L85.7 84.3L87.2 85.4Z" fill="#f6f015"/>
<path d="M104.2 90.1L102.7 88.8L104.8 88.3L106.3 89.5Z" fill="#f8d726"/>
<path d="M100.7 89.4L99.2 88.2L101.2 87.6L102.7 88.8Z" fill="#f6dd22"/>
<path d="M97.2 88.8L95.7 87.6L97.7 87.0L99.2 88.2Z" fill="#f5e31e"/>
<path d="M93.7 88.2L92.2 87.1L94.2 86.4L95.7 87.6Z" fill="#f5e81a"/>
<path d="M90.2 87.7L88.7 86.5L90.7 85.9L92.2 87.1Z" fill="#f5ee16"/>
<path d="M86.7 87.2L85.2 86.1L87.2 85.4L88.7 86.5Z" fill="#f7f313"/>
<path d="M102.2 90.7L100.7 89.4L102.7 88.8L104.2 90.1Z" fill="#f5de21"/>
<path d="M98.7 90.0L97.2 88.8L99.2 88.2L100.7 89.4Z" fill="#f5e41d"/>
<path d="M95.2 89.4L93.7 88.2L95.7 87.6L97.2 88.8Z" fill="#f5ea19"/>
<path d="M91.7 88.9L90.2 87.7L92.2 87.1L93.7 88.2Z" fill="#f6f115"/>
<path d="M88.2 88.3L86.7 87.2L88.7 86.5L90.2 87.7Z" fill="#f8f611"/>
<path d="M100.2 91.2L98.7 90.0L100.7 89.4L102.2 90.7Z" fill="#f5e61c"/>
<path d="M96.7 90.6L95.2 89.4L97.2 88.8L98.7 90.0Z" fill="#f5ec17"/>
<path d="M93.2 90.0L91.7 88.9L93.7 88.2L95.2 89.4Z" fill="#f6f313"/>
<path d="M89.7 89.5L88.2 88.3L90.2 87.7L91.7 88.9Z" fill="#f8f90f"/>
<path d="M98.2 91.8L96.7 90.6L98.7 90.0L100.2 91.2Z" fill="#f5ee16"/>
<path d="M94.7 91.2L93.2 90.0L95.2 89.4L96.7 90.6Z" fill="#f7f512"/>
<path d="M91.2 90.7L89.7 89.5L91.7 88.9L93.2 90.0Z" fill="#f9fb0e"/>
<path d="M96.2 92.4L94.7 91.2L96.7 90.6L98.2 91.8Z" fill="#f8f710"/>
<path d="M92.7 91.8L91.2 90.7L93.2 90.0L94.7 91.2Z" fill="#f9fb0e"/>
<path d="M94.2 93.0L92.7 91.8L94.7 91.2L96.2 92.4Z" fill="#f9fb0e"/>
</g></g>
<text x="33.10" y="45.70" font-size="9.18" textLength="8.20" lengthAdjust="spacingAndGlyphs" stroke="#2e2e2e" stroke-width="0.16">60</text>
<text x="33.10" y="79.20" font-size="9.18" textLength="8.20" lengthAdjust="spacingAndGlyphs" stroke="#2e2e2e" stroke-width="0.16">40</text>
<text x="33.45" y="107.40" font-size="9.18" textLength="12.30" lengthAdjust="spacingAndGlyphs" stroke="#2e2e2e" stroke-width="0.16">150</text>
<text x="46.55" y="119.30" font-size="9.18" textLength="12.30" lengthAdjust="spacingAndGlyphs" stroke="#2e2e2e" stroke-width="0.16">100</text>
<text x="62.10" y="129.00" font-size="9.18" textLength="8.20" lengthAdjust="spacingAndGlyphs" stroke="#2e2e2e" stroke-width="0.16">50</text>
<text x="77.85" y="139.50" font-size="9.18" textLength="4.10" lengthAdjust="spacingAndGlyphs" stroke="#2e2e2e" stroke-width="0.16">0</text>
<text x="83.71" y="154.10" font-size="9.18" textLength="14.58" lengthAdjust="spacingAndGlyphs" stroke="#2e2e2e" stroke-width="0.16">−50</text>
<text x="96.66" y="154.10" font-size="9.18" textLength="18.68" lengthAdjust="spacingAndGlyphs" stroke="#2e2e2e" stroke-width="0.16">−150</text>
<text x="117.66" y="142.50" font-size="9.18" textLength="18.68" lengthAdjust="spacingAndGlyphs" stroke="#2e2e2e" stroke-width="0.16">−100</text>
<text x="140.81" y="128.60" font-size="9.18" textLength="14.58" lengthAdjust="spacingAndGlyphs" stroke="#2e2e2e" stroke-width="0.16">−50</text>
<text x="165.95" y="113.50" font-size="9.18" textLength="4.10" lengthAdjust="spacingAndGlyphs" stroke="#2e2e2e" stroke-width="0.16">0</text>
<defs><linearGradient id="ga" x1="0" y1="1" x2="0" y2="0"><stop offset="0.000" stop-color="#352a87"/><stop offset="0.048" stop-color="#353dad"/><stop offset="0.095" stop-color="#2053d4"/><stop offset="0.143" stop-color="#0268e1"/><stop offset="0.190" stop-color="#0d75dc"/><stop offset="0.238" stop-color="#1481d6"/><stop offset="0.286" stop-color="#108ed2"/><stop offset="0.333" stop-color="#079ccf"/><stop offset="0.381" stop-color="#06a7c6"/><stop offset="0.429" stop-color="#0faeb9"/><stop offset="0.476" stop-color="#25b5a9"/><stop offset="0.524" stop-color="#42bb98"/><stop offset="0.571" stop-color="#65be86"/><stop offset="0.619" stop-color="#87bf77"/><stop offset="0.667" stop-color="#a5be6b"/><stop offset="0.714" stop-color="#c0bc60"/><stop offset="0.762" stop-color="#d9ba56"/><stop offset="0.810" stop-color="#f1b94a"/><stop offset="0.857" stop-color="#ffc337"/><stop offset="0.905" stop-color="#fad32a"/><stop offset="0.952" stop-color="#f5e41d"/><stop offset="1.000" stop-color="#f9fb0e"/><stop offset="1" stop-color="#f9fb0e"/></linearGradient></defs>
<rect x="176.8" y="5.8" width="8.70" height="134.70" fill="url(#ga)" stroke="#999" stroke-width="0.5"/>
<line x1="184.2" y1="139.96" x2="185.5" y2="139.96" stroke="#999" stroke-width="0.4"/>
<text x="188.00" y="142.80" font-size="8.40" textLength="7.50" lengthAdjust="spacingAndGlyphs" stroke="#2e2e2e" stroke-width="0.13">36</text>
<line x1="184.2" y1="124.44" x2="185.5" y2="124.44" stroke="#999" stroke-width="0.4"/>
<text x="188.00" y="127.27" font-size="8.40" textLength="7.50" lengthAdjust="spacingAndGlyphs" stroke="#2e2e2e" stroke-width="0.13">38</text>
<line x1="184.2" y1="108.92" x2="185.5" y2="108.92" stroke="#999" stroke-width="0.4"/>
<text x="188.00" y="111.75" font-size="8.40" textLength="7.50" lengthAdjust="spacingAndGlyphs" stroke="#2e2e2e" stroke-width="0.13">40</text>
<line x1="184.2" y1="93.40" x2="185.5" y2="93.40" stroke="#999" stroke-width="0.4"/>
<text x="188.00" y="96.23" font-size="8.40" textLength="7.50" lengthAdjust="spacingAndGlyphs" stroke="#2e2e2e" stroke-width="0.13">42</text>
<line x1="184.2" y1="77.88" x2="185.5" y2="77.88" stroke="#999" stroke-width="0.4"/>
<text x="188.00" y="80.71" font-size="8.40" textLength="7.50" lengthAdjust="spacingAndGlyphs" stroke="#2e2e2e" stroke-width="0.13">44</text>
<line x1="184.2" y1="62.36" x2="185.5" y2="62.36" stroke="#999" stroke-width="0.4"/>
<text x="188.00" y="65.19" font-size="8.40" textLength="7.50" lengthAdjust="spacingAndGlyphs" stroke="#2e2e2e" stroke-width="0.13">46</text>
<line x1="184.2" y1="46.84" x2="185.5" y2="46.84" stroke="#999" stroke-width="0.4"/>
<text x="188.00" y="49.68" font-size="8.40" textLength="7.50" lengthAdjust="spacingAndGlyphs" stroke="#2e2e2e" stroke-width="0.13">48</text>
<line x1="184.2" y1="31.32" x2="185.5" y2="31.32" stroke="#999" stroke-width="0.4"/>
<text x="188.00" y="34.16" font-size="8.40" textLength="7.50" lengthAdjust="spacingAndGlyphs" stroke="#2e2e2e" stroke-width="0.13">50</text>
<line x1="184.2" y1="15.80" x2="185.5" y2="15.80" stroke="#999" stroke-width="0.4"/>
<text x="188.00" y="18.64" font-size="8.40" textLength="7.50" lengthAdjust="spacingAndGlyphs" stroke="#2e2e2e" stroke-width="0.13">52</text>
<path d="M35.31 151.27 C34.30 153.17 34.59 156.49 37.54 156.49 C40.49 156.49 41.50 153.96 40.92 152.22 C40.35 150.64 38.33 150.80 37.90 152.70 L36.46 158.70" fill="none" stroke="#2e2e2e" stroke-width="0.9" stroke-linecap="round"/>
<text x="41.70" y="157.12" font-size="7.50" font-style="italic" textLength="12.70" lengthAdjust="spacingAndGlyphs">hip</text>
<path d="M60.34 147.90H59.07V159.40H60.34" fill="none" stroke="#404040" stroke-width="0.7475"/>
<path d="M65.66 147.90H66.93V159.40H65.66" fill="none" stroke="#404040" stroke-width="0.7475"/>
<circle cx="63.00" cy="150.43" r="1.26" fill="none" stroke="#2e2e2e" stroke-width="0.64"/>
<path d="M129.01 156.97 C127.90 158.87 128.22 162.19 131.46 162.19 C134.69 162.19 135.80 159.66 135.17 157.92 C134.54 156.34 132.32 156.50 131.85 158.40 L130.27 164.40" fill="none" stroke="#2e2e2e" stroke-width="0.9" stroke-linecap="round"/>
<text x="136.00" y="162.82" font-size="7.51" font-style="italic" textLength="17.30" lengthAdjust="spacingAndGlyphs">knee</text>
<path d="M159.24 153.60H157.97V165.10H159.24" fill="none" stroke="#404040" stroke-width="0.7475"/>
<path d="M164.96 153.60H166.23V165.10H164.96" fill="none" stroke="#404040" stroke-width="0.7475"/>
<circle cx="162.10" cy="156.13" r="1.26" fill="none" stroke="#2e2e2e" stroke-width="0.64"/>
<g transform="translate(25.50,95.50) rotate(-90)"><path d="M5.60 -9.30L1.60 -1.60Q1.10 0.40 3.80 -0.50" fill="none" stroke="#2e2e2e" stroke-width="1.20" stroke-linecap="round"/><text x="7.00" y="2.40" font-size="11" font-style="italic" textLength="25.80" lengthAdjust="spacingAndGlyphs">MT,RF</text><text x="40.98" y="-0.46" font-size="11.69" textLength="12.45" lengthAdjust="spacingAndGlyphs">cm</text></g>
<path d="M15.20 55.85V57.20H27.50V55.85" fill="none" stroke="#404040" stroke-width="0.7995000000000001"/>
<path d="M15.20 40.75V39.40H27.50V40.75" fill="none" stroke="#404040" stroke-width="0.7995000000000001"/>
<line x1="104.30" y1="346.10" x2="163.00" y2="307.10" stroke="#e0e0e0" stroke-width="0.6"/>
<line x1="89.60" y1="336.35" x2="148.29" y2="297.35" stroke="#e0e0e0" stroke-width="0.6"/>
<line x1="74.90" y1="326.60" x2="133.59" y2="287.60" stroke="#e0e0e0" stroke-width="0.6"/>
<line x1="60.20" y1="316.85" x2="118.90" y2="277.85" stroke="#e0e0e0" stroke-width="0.6"/>
<line x1="45.50" y1="307.10" x2="104.19" y2="268.10" stroke="#e0e0e0" stroke-width="0.6"/>
<line x1="104.30" y1="346.10" x2="45.50" y2="307.10" stroke="#e0e0e0" stroke-width="0.6"/>
<line x1="123.86" y1="333.10" x2="65.06" y2="294.10" stroke="#e0e0e0" stroke-width="0.6"/>
<line x1="143.43" y1="320.10" x2="84.63" y2="281.10" stroke="#e0e0e0" stroke-width="0.6"/>
<line x1="163.00" y1="307.10" x2="104.19" y2="268.10" stroke="#e0e0e0" stroke-width="0.6"/>
<line x1="45.50" y1="307.10" x2="45.50" y2="249.89" stroke="#e0e0e0" stroke-width="0.6"/>
<line x1="65.06" y1="294.10" x2="65.06" y2="236.89" stroke="#e0e0e0" stroke-width="0.6"/>
<line x1="84.63" y1="281.10" x2="84.63" y2="223.89" stroke="#e0e0e0" stroke-width="0.6"/>
<line x1="104.19" y1="268.10" x2="104.19" y2="210.89" stroke="#e0e0e0" stroke-width="0.6"/>
<line x1="45.50" y1="288.03" x2="104.19" y2="249.03" stroke="#e0e0e0" stroke-width="0.6"/>
<line x1="45.50" y1="249.89" x2="104.19" y2="210.89" stroke="#e0e0e0" stroke-width="0.6"/>
<line x1="163.00" y1="307.10" x2="163.00" y2="249.89" stroke="#e0e0e0" stroke-width="0.6"/>
<line x1="148.29" y1="297.35" x2="148.29" y2="240.14" stroke="#e0e0e0" stroke-width="0.6"/>
<line x1="133.59" y1="287.60" x2="133.59" y2="230.39" stroke="#e0e0e0" stroke-width="0.6"/>
<line x1="118.90" y1="277.85" x2="118.90" y2="220.64" stroke="#e0e0e0" stroke-width="0.6"/>
<line x1="104.19" y1="268.10" x2="104.19" y2="210.89" stroke="#e0e0e0" stroke-width="0.6"/>
<line x1="163.00" y1="288.03" x2="104.19" y2="249.03" stroke="#e0e0e0" stroke-width="0.6"/>
<line x1="163.00" y1="249.89" x2="104.19" y2="210.89" stroke="#e0e0e0" stroke-width="0.6"/>
<line x1="45.50" y1="307.10" x2="104.30" y2="346.10" stroke="#7a7a7a" stroke-width="0.7"/>
<line x1="104.30" y1="346.10" x2="163.00" y2="307.10" stroke="#7a7a7a" stroke-width="0.7"/>
<defs><clipPath id="cgb"><path d="M99.39 329.93L97.22 328.84L95.05 327.68L92.87 326.46L90.70 325.17L88.53 323.82L86.35 322.40L84.18 320.92L82.01 319.36L79.84 317.75L77.66 316.06L75.49 314.32L73.32 312.50L71.14 310.62L68.97 308.67L66.80 306.66L64.62 304.59L62.45 302.44L60.28 300.23L58.11 297.96L55.93 295.62L53.76 293.21L51.59 290.74L49.41 288.20L49.41 288.20L51.79 285.02L54.18 281.90L56.56 278.83L58.94 275.81L61.32 272.84L63.70 269.92L66.09 267.05L68.47 264.23L70.85 261.47L73.23 258.75L75.61 256.09L77.99 253.47L80.38 250.91L82.76 248.40L85.14 245.94L87.52 243.53L89.90 241.17L92.29 238.86L94.67 236.60L97.05 234.39L99.43 232.24L101.81 230.13L104.19 228.08L104.19 228.08L106.37 230.28L108.54 232.45L110.71 234.59L112.89 236.69L115.06 238.76L117.23 240.80L119.41 242.81L121.58 244.78L123.75 246.73L125.93 248.64L128.10 250.51L130.27 252.36L132.44 254.17L134.62 255.95L136.79 257.70L138.96 259.42L141.14 261.10L143.31 262.75L145.48 264.37L147.66 265.96L149.83 267.51L152.00 269.03L154.17 270.52L154.17 270.52L151.79 272.27L149.41 274.10L147.03 276.00L144.65 277.97L142.27 280.03L139.88 282.15L137.50 284.36L135.12 286.64L132.74 288.99L130.36 291.42L127.97 293.93L125.59 296.51L123.21 299.17L120.83 301.91L118.45 304.72L116.07 307.60L113.68 310.57L111.30 313.60L108.92 316.72L106.54 319.91L104.16 323.17L101.77 326.51L99.39 329.93Z"/></clipPath><filter id="fgb" x="-10%" y="-10%" width="120%" height="120%"><feGaussianBlur stdDeviation="0.9"/></filter></defs>
<g clip-path="url(#cgb)"><g filter="url(#fgb)" shape-rendering="crispEdges">
<path d="M104.2 228.1L102.5 226.4L104.4 224.8L106.0 226.5Z" fill="#f9fb0e"/>
<path d="M105.9 229.8L104.2 228.1L106.0 226.5L107.7 228.2Z" fill="#f8f90f"/>
<path d="M102.4 229.6L100.7 227.9L102.5 226.4L104.2 228.1Z" fill="#f9fb0e"/>
<path d="M107.5 231.4L105.9 229.8L107.7 228.2L109.4 229.9Z" fill="#f6f015"/>
<path d="M104.0 231.3L102.4 229.6L104.2 228.1L105.9 229.8Z" fill="#f7f313"/>
<path d="M100.5 231.2L98.9 229.5L100.7 227.9L102.4 229.6Z" fill="#f8f710"/>
<path d="M109.2 233.1L107.5 231.4L109.4 229.9L111.0 231.5Z" fill="#f5e91a"/>
<path d="M105.7 233.0L104.0 231.3L105.9 229.8L107.5 231.4Z" fill="#f5eb18"/>
<path d="M102.2 233.0L100.5 231.2L102.4 229.6L104.0 231.3Z" fill="#f5ee16"/>
<path d="M98.7 232.9L97.1 231.1L98.9 229.5L100.5 231.2Z" fill="#f6f114"/>
<path d="M110.9 234.7L109.2 233.1L111.0 231.5L112.7 233.1Z" fill="#f5e21f"/>
<path d="M107.4 234.7L105.7 233.0L107.5 231.4L109.2 233.1Z" fill="#f5e41d"/>
<path d="M103.9 234.7L102.2 233.0L104.0 231.3L105.7 233.0Z" fill="#f5e61c"/>
<path d="M100.4 234.6L98.7 232.9L100.5 231.2L102.2 233.0Z" fill="#f5e81a"/>
<path d="M96.9 234.5L95.2 232.8L97.1 231.1L98.7 232.9Z" fill="#f5eb18"/>
<path d="M112.5 236.3L110.9 234.7L112.7 233.1L114.4 234.8Z" fill="#f6dc23"/>
<path d="M109.0 236.3L107.4 234.7L109.2 233.1L110.9 234.7Z" fill="#f6de22"/>
<path d="M105.5 236.3L103.9 234.7L105.7 233.0L107.4 234.7Z" fill="#f5df20"/>
<path d="M102.0 236.3L100.4 234.6L102.2 233.0L103.9 234.7Z" fill="#f5e11f"/>
<path d="M98.6 236.3L96.9 234.5L98.7 232.9L100.4 234.6Z" fill="#f5e31e"/>
<path d="M95.1 236.2L93.4 234.5L95.2 232.8L96.9 234.5Z" fill="#f5e51c"/>
<path d="M114.2 237.9L112.5 236.3L114.4 234.8L116.0 236.3Z" fill="#f8d727"/>
<path d="M110.7 238.0L109.0 236.3L110.9 234.7L112.5 236.3Z" fill="#f7d826"/>
<path d="M107.2 238.0L105.5 236.3L107.4 234.7L109.0 236.3Z" fill="#f7d925"/>
<path d="M103.7 238.0L102.0 236.3L103.9 234.7L105.5 236.3Z" fill="#f7db24"/>
<path d="M100.2 238.0L98.6 236.3L100.4 234.6L102.0 236.3Z" fill="#f6dc23"/>
<path d="M96.7 238.0L95.1 236.2L96.9 234.5L98.6 236.3Z" fill="#f6de22"/>
<path d="M93.2 237.9L91.6 236.2L93.4 234.5L95.1 236.2Z" fill="#f5df20"/>
<path d="M115.9 239.5L114.2 237.9L116.0 236.3L117.7 237.9Z" fill="#fad22a"/>
<path d="M112.4 239.6L110.7 238.0L112.5 236.3L114.2 237.9Z" fill="#fad32a"/>
<path d="M108.9 239.6L107.2 238.0L109.0 236.3L110.7 238.0Z" fill="#f9d429"/>
<path d="M105.4 239.6L103.7 238.0L105.5 236.3L107.2 238.0Z" fill="#f9d528"/>
<path d="M101.9 239.7L100.2 238.0L102.0 236.3L103.7 238.0Z" fill="#f8d627"/>
<path d="M98.4 239.7L96.7 238.0L98.6 236.3L100.2 238.0Z" fill="#f8d727"/>
<path d="M94.9 239.7L93.2 237.9L95.1 236.2L96.7 238.0Z" fill="#f7d826"/>
<path d="M91.4 239.7L89.7 237.9L91.6 236.2L93.2 237.9Z" fill="#f7da25"/>
<path d="M117.5 241.1L115.9 239.5L117.7 237.9L119.3 239.5Z" fill="#fccd2e"/>
<path d="M114.0 241.1L112.4 239.6L114.2 237.9L115.9 239.5Z" fill="#fcce2d"/>
<path d="M110.5 241.2L108.9 239.6L110.7 238.0L112.4 239.6Z" fill="#fbcf2d"/>
<path d="M107.0 241.3L105.4 239.6L107.2 238.0L108.9 239.6Z" fill="#fbcf2c"/>
<path d="M103.6 241.3L101.9 239.7L103.7 238.0L105.4 239.6Z" fill="#fbd02c"/>
<path d="M100.1 241.4L98.4 239.7L100.2 238.0L101.9 239.7Z" fill="#fad12b"/>
<path d="M96.6 241.4L94.9 239.7L96.7 238.0L98.4 239.7Z" fill="#fad22a"/>
<path d="M93.1 241.5L91.4 239.7L93.2 237.9L94.9 239.7Z" fill="#fad32a"/>
<path d="M89.6 241.5L87.9 239.7L89.7 237.9L91.4 239.7Z" fill="#f9d429"/>
<path d="M119.2 242.6L117.5 241.1L119.3 239.5L121.0 241.0Z" fill="#fec932"/>
<path d="M115.7 242.7L114.0 241.1L115.9 239.5L117.5 241.1Z" fill="#fdca31"/>
<path d="M112.2 242.8L110.5 241.2L112.4 239.6L114.0 241.1Z" fill="#fdca31"/>
<path d="M108.7 242.9L107.0 241.3L108.9 239.6L110.5 241.2Z" fill="#fdca31"/>
<path d="M105.2 243.0L103.6 241.3L105.4 239.6L107.0 241.3Z" fill="#fdcb30"/>
<path d="M101.7 243.1L100.1 241.4L101.9 239.7L103.6 241.3Z" fill="#fdcb30"/>
<path d="M98.2 243.1L96.6 241.4L98.4 239.7L100.1 241.4Z" fill="#fdcc2f"/>
<path d="M94.7 243.2L93.1 241.5L94.9 239.7L96.6 241.4Z" fill="#fccd2f"/>
<path d="M91.3 243.3L89.6 241.5L91.4 239.7L93.1 241.5Z" fill="#fccd2e"/>
<path d="M87.8 243.3L86.1 241.5L87.9 239.7L89.6 241.5Z" fill="#fcce2d"/>
<path d="M120.9 244.1L119.2 242.6L121.0 241.0L122.7 242.5Z" fill="#fec536"/>
<path d="M117.4 244.2L115.7 242.7L117.5 241.1L119.2 242.6Z" fill="#fec535"/>
<path d="M113.9 244.3L112.2 242.8L114.0 241.1L115.7 242.7Z" fill="#fec535"/>
<path d="M110.4 244.5L108.7 242.9L110.5 241.2L112.2 242.8Z" fill="#fec535"/>
<path d="M106.9 244.6L105.2 243.0L107.0 241.3L108.7 242.9Z" fill="#fec635"/>
<path d="M103.4 244.7L101.7 243.1L103.6 241.3L105.2 243.0Z" fill="#fec635"/>
<path d="M99.9 244.8L98.2 243.1L100.1 241.4L101.7 243.1Z" fill="#fec634"/>
<path d="M96.4 244.9L94.7 243.2L96.6 241.4L98.2 243.1Z" fill="#fec634"/>
<path d="M92.9 245.0L91.3 243.3L93.1 241.5L94.7 243.2Z" fill="#fec734"/>
<path d="M89.4 245.1L87.8 243.3L89.6 241.5L91.3 243.3Z" fill="#fec833"/>
<path d="M85.9 245.1L84.3 243.3L86.1 241.5L87.8 243.3Z" fill="#fec832"/>
<path d="M122.5 245.6L120.9 244.1L122.7 242.5L124.3 244.0Z" fill="#fec13a"/>
<path d="M119.0 245.8L117.4 244.2L119.2 242.6L120.9 244.1Z" fill="#fec13a"/>
<path d="M115.5 245.9L113.9 244.3L115.7 242.7L117.4 244.2Z" fill="#fec13a"/>
<path d="M112.0 246.0L110.4 244.5L112.2 242.8L113.9 244.3Z" fill="#fec13a"/>
<path d="M108.6 246.2L106.9 244.6L108.7 242.9L110.4 244.5Z" fill="#fec13a"/>
<path d="M105.1 246.3L103.4 244.7L105.2 243.0L106.9 244.6Z" fill="#fec13a"/>
<path d="M101.6 246.5L99.9 244.8L101.7 243.1L103.4 244.7Z" fill="#fec13a"/>
<path d="M98.1 246.6L96.4 244.9L98.2 243.1L99.9 244.8Z" fill="#fec13a"/>
<path d="M94.6 246.7L92.9 245.0L94.7 243.2L96.4 244.9Z" fill="#fec13a"/>
<path d="M91.1 246.8L89.4 245.1L91.3 243.3L92.9 245.0Z" fill="#fec13a"/>
<path d="M87.6 246.9L85.9 245.1L87.8 243.3L89.4 245.1Z" fill="#fec239"/>
<path d="M124.2 247.1L122.5 245.6L124.3 244.0L126.0 245.5Z" fill="#fdbd3e"/>
<path d="M84.1 247.0L82.4 245.2L84.3 243.3L85.9 245.1Z" fill="#fec238"/>
<path d="M120.7 247.3L119.0 245.8L120.9 244.1L122.5 245.6Z" fill="#fcbd3f"/>
<path d="M117.2 247.4L115.5 245.9L117.4 244.2L119.0 245.8Z" fill="#fcbd3f"/>
<path d="M113.7 247.6L112.0 246.0L113.9 244.3L115.5 245.9Z" fill="#fcbd3f"/>
<path d="M110.2 247.7L108.6 246.2L110.4 244.5L112.0 246.0Z" fill="#fcbd40"/>
<path d="M106.7 247.9L105.1 246.3L106.9 244.6L108.6 246.2Z" fill="#fbbd40"/>
<path d="M103.2 248.1L101.6 246.5L103.4 244.7L105.1 246.3Z" fill="#fbbc41"/>
<path d="M99.7 248.3L98.1 246.6L99.9 244.8L101.6 246.5Z" fill="#fbbc41"/>
<path d="M96.3 248.4L94.6 246.7L96.4 244.9L98.1 246.6Z" fill="#fabc41"/>
<path d="M92.8 248.6L91.1 246.8L92.9 245.0L94.6 246.7Z" fill="#fabc41"/>
<path d="M89.3 248.7L87.6 246.9L89.4 245.1L91.1 246.8Z" fill="#fabc41"/>
<path d="M125.9 248.6L124.2 247.1L126.0 245.5L127.7 247.0Z" fill="#f9bb43"/>
<path d="M85.8 248.8L84.1 247.0L85.9 245.1L87.6 246.9Z" fill="#fbbc41"/>
<path d="M122.4 248.7L120.7 247.3L122.5 245.6L124.2 247.1Z" fill="#f9bb43"/>
<path d="M82.3 248.9L80.6 247.1L82.4 245.2L84.1 247.0Z" fill="#fbbc40"/>
<path d="M118.9 248.9L117.2 247.4L119.0 245.8L120.7 247.3Z" fill="#f8bb44"/>
<path d="M115.4 249.1L113.7 247.6L115.5 245.9L117.2 247.4Z" fill="#f8ba44"/>
<path d="M111.9 249.3L110.2 247.7L112.0 246.0L113.7 247.6Z" fill="#f7ba45"/>
<path d="M108.4 249.5L106.7 247.9L108.6 246.2L110.2 247.7Z" fill="#f6ba46"/>
<path d="M104.9 249.7L103.2 248.1L105.1 246.3L106.7 247.9Z" fill="#f5ba46"/>
<path d="M101.4 249.9L99.7 248.3L101.6 246.5L103.2 248.1Z" fill="#f4ba47"/>
<path d="M97.9 250.1L96.3 248.4L98.1 246.6L99.7 248.3Z" fill="#f4ba48"/>
<path d="M94.4 250.3L92.8 248.6L94.6 246.7L96.3 248.4Z" fill="#f3ba48"/>
<path d="M90.9 250.4L89.3 248.7L91.1 246.8L92.8 248.6Z" fill="#f2b948"/>
<path d="M127.5 250.0L125.9 248.6L127.7 247.0L129.3 248.4Z" fill="#f4ba47"/>
<path d="M87.4 250.6L85.8 248.8L87.6 246.9L89.3 248.7Z" fill="#f2b949"/>
<path d="M124.0 250.2L122.4 248.7L124.2 247.1L125.9 248.6Z" fill="#f4ba47"/>
<path d="M83.9 250.7L82.3 248.9L84.1 247.0L85.8 248.8Z" fill="#f2b949"/>
<path d="M120.5 250.4L118.9 248.9L120.7 247.3L122.4 248.7Z" fill="#f3ba48"/>
<path d="M80.5 250.8L78.8 249.0L80.6 247.1L82.3 248.9Z" fill="#f3b948"/>
<path d="M117.0 250.6L115.4 249.1L117.2 247.4L118.9 248.9Z" fill="#f2b949"/>
<path d="M113.6 250.8L111.9 249.3L113.7 247.6L115.4 249.1Z" fill="#f1b94a"/>
<path d="M110.1 251.0L108.4 249.5L110.2 247.7L111.9 249.3Z" fill="#f0b94a"/>
<path d="M106.6 251.3L104.9 249.7L106.7 247.9L108.4 249.5Z" fill="#eeb94b"/>
<path d="M103.1 251.5L101.4 249.9L103.2 248.1L104.9 249.7Z" fill="#edb94c"/>
<path d="M99.6 251.7L97.9 250.1L99.7 248.3L101.4 249.9Z" fill="#ecb94d"/>
<path d="M96.1 251.9L94.4 250.3L96.3 248.4L97.9 250.1Z" fill="#eab94d"/>
<path d="M92.6 252.1L90.9 250.4L92.8 248.6L94.4 250.3Z" fill="#e9b94e"/>
<path d="M129.2 251.4L127.5 250.0L129.3 248.4L131.0 249.9Z" fill="#f0b94a"/>
<path d="M89.1 252.3L87.4 250.6L89.3 248.7L90.9 250.4Z" fill="#e9b94e"/>
<path d="M125.7 251.6L124.0 250.2L125.9 248.6L127.5 250.0Z" fill="#efb94b"/>
<path d="M85.6 252.5L83.9 250.7L85.8 248.8L87.4 250.6Z" fill="#e8b94f"/>
<path d="M122.2 251.8L120.5 250.4L122.4 248.7L124.0 250.2Z" fill="#eeb94b"/>
<path d="M82.1 252.6L80.5 250.8L82.3 248.9L83.9 250.7Z" fill="#e8b94f"/>
<path d="M118.7 252.1L117.0 250.6L118.9 248.9L120.5 250.4Z" fill="#edb94c"/>
<path d="M78.6 252.8L77.0 250.9L78.8 249.0L80.5 250.8Z" fill="#e8b94f"/>
<path d="M115.2 252.3L113.6 250.8L115.4 249.1L117.0 250.6Z" fill="#ebb94d"/>
<path d="M111.7 252.5L110.1 251.0L111.9 249.3L113.6 250.8Z" fill="#e9b94e"/>
<path d="M108.2 252.8L106.6 251.3L108.4 249.5L110.1 251.0Z" fill="#e7b94f"/>
<path d="M104.7 253.1L103.1 251.5L104.9 249.7L106.6 251.3Z" fill="#e6b950"/>
<path d="M101.2 253.3L99.6 251.7L101.4 249.9L103.1 251.5Z" fill="#e4b951"/>
<path d="M97.8 253.6L96.1 251.9L97.9 250.1L99.6 251.7Z" fill="#e2b951"/>
<path d="M94.3 253.8L92.6 252.1L94.4 250.3L96.1 251.9Z" fill="#e1ba52"/>
<path d="M130.9 252.8L129.2 251.4L131.0 249.9L132.7 251.3Z" fill="#ebb94d"/>
<path d="M90.8 254.0L89.1 252.3L90.9 250.4L92.6 252.1Z" fill="#dfba53"/>
<path d="M127.4 253.0L125.7 251.6L127.5 250.0L129.2 251.4Z" fill="#eab94d"/>
<path d="M87.3 254.2L85.6 252.5L87.4 250.6L89.1 252.3Z" fill="#deba53"/>
<path d="M123.9 253.3L122.2 251.8L124.0 250.2L125.7 251.6Z" fill="#e9b94e"/>
<path d="M83.8 254.4L82.1 252.6L83.9 250.7L85.6 252.5Z" fill="#ddba54"/>
<path d="M120.4 253.5L118.7 252.1L120.5 250.4L122.2 251.8Z" fill="#e7b94f"/>
<path d="M80.3 254.6L78.6 252.8L80.5 250.8L82.1 252.6Z" fill="#ddba54"/>
<path d="M116.9 253.8L115.2 252.3L117.0 250.6L118.7 252.1Z" fill="#e5b950"/>
<path d="M76.8 254.8L75.1 252.9L77.0 250.9L78.6 252.8Z" fill="#dcba54"/>
<path d="M113.4 254.0L111.7 252.5L113.6 250.8L115.2 252.3Z" fill="#e3b951"/>
<path d="M109.9 254.3L108.2 252.8L110.1 251.0L111.7 252.5Z" fill="#e1b952"/>
<path d="M106.4 254.6L104.7 253.1L106.6 251.3L108.2 252.8Z" fill="#dfba53"/>
<path d="M102.9 254.9L101.2 253.3L103.1 251.5L104.7 253.1Z" fill="#ddba54"/>
<path d="M99.4 255.2L97.8 253.6L99.6 251.7L101.2 253.3Z" fill="#daba55"/>
<path d="M95.9 255.4L94.3 253.8L96.1 251.9L97.8 253.6Z" fill="#d8ba56"/>
<path d="M132.5 254.2L130.9 252.8L132.7 251.3L134.3 252.7Z" fill="#e7b94f"/>
<path d="M92.4 255.7L90.8 254.0L92.6 252.1L94.3 253.8Z" fill="#d6ba57"/>
<path d="M129.0 254.4L127.4 253.0L129.2 251.4L130.9 252.8Z" fill="#e6b950"/>
<path d="M88.9 256.0L87.3 254.2L89.1 252.3L90.8 254.0Z" fill="#d5bb58"/>
<path d="M125.5 254.7L123.9 253.3L125.7 251.6L127.4 253.0Z" fill="#e4b951"/>
<path d="M85.5 256.2L83.8 254.4L85.6 252.5L87.3 254.2Z" fill="#d3bb58"/>
<path d="M122.0 254.9L120.4 253.5L122.2 251.8L123.9 253.3Z" fill="#e2b952"/>
<path d="M82.0 256.4L80.3 254.6L82.1 252.6L83.8 254.4Z" fill="#d2bb59"/>
<path d="M118.5 255.2L116.9 253.8L118.7 252.1L120.4 253.5Z" fill="#e0ba53"/>
<path d="M78.5 256.6L76.8 254.8L78.6 252.8L80.3 254.6Z" fill="#d1bb59"/>
<path d="M115.1 255.5L113.4 254.0L115.2 252.3L116.9 253.8Z" fill="#ddba54"/>
<path d="M75.0 256.8L73.3 254.9L75.1 252.9L76.8 254.8Z" fill="#d0bb59"/>
<path d="M111.6 255.8L109.9 254.3L111.7 252.5L113.4 254.0Z" fill="#dbba55"/>
<path d="M108.1 256.1L106.4 254.6L108.2 252.8L109.9 254.3Z" fill="#d8ba56"/>
<path d="M104.6 256.4L102.9 254.9L104.7 253.1L106.4 254.6Z" fill="#d6ba57"/>
<path d="M101.1 256.8L99.4 255.2L101.2 253.3L102.9 254.9Z" fill="#d3bb58"/>
<path d="M97.6 257.1L95.9 255.4L97.8 253.6L99.4 255.2Z" fill="#d0bb59"/>
<path d="M134.2 255.6L132.5 254.2L134.3 252.7L136.0 254.1Z" fill="#e2b951"/>
<path d="M94.1 257.4L92.4 255.7L94.3 253.8L95.9 255.4Z" fill="#cebb5a"/>
<path d="M130.7 255.8L129.0 254.4L130.9 252.8L132.5 254.2Z" fill="#e1b952"/>
<path d="M90.6 257.6L88.9 256.0L90.8 254.0L92.4 255.7Z" fill="#cbbb5b"/>
<path d="M127.2 256.1L125.5 254.7L127.4 253.0L129.0 254.4Z" fill="#dfba53"/>
<path d="M87.1 257.9L85.5 256.2L87.3 254.2L88.9 256.0Z" fill="#c9bc5c"/>
<path d="M123.7 256.3L122.0 254.9L123.9 253.3L125.5 254.7Z" fill="#ddba54"/>
<path d="M83.6 258.2L82.0 256.4L83.8 254.4L85.5 256.2Z" fill="#c7bc5d"/>
<path d="M120.2 256.6L118.5 255.2L120.4 253.5L122.0 254.9Z" fill="#dbba55"/>
<path d="M80.1 258.4L78.5 256.6L80.3 254.6L82.0 256.4Z" fill="#c6bc5e"/>
<path d="M116.7 257.0L115.1 255.5L116.9 253.8L118.5 255.2Z" fill="#d8ba56"/>
<path d="M76.6 258.6L75.0 256.8L76.8 254.8L78.5 256.6Z" fill="#c4bc5e"/>
<path d="M113.2 257.3L111.6 255.8L113.4 254.0L115.1 255.5Z" fill="#d5ba57"/>
<path d="M73.2 258.8L71.5 256.9L73.3 254.9L75.0 256.8Z" fill="#c3bc5f"/>
<path d="M109.7 257.6L108.1 256.1L109.9 254.3L111.6 255.8Z" fill="#d2bb59"/>
<path d="M106.2 258.0L104.6 256.4L106.4 254.6L108.1 256.1Z" fill="#cfbb5a"/>
<path d="M102.8 258.3L101.1 256.8L102.9 254.9L104.6 256.4Z" fill="#ccbb5b"/>
<path d="M99.3 258.6L97.6 257.1L99.4 255.2L101.1 256.8Z" fill="#c8bc5d"/>
<path d="M135.8 256.9L134.2 255.6L136.0 254.1L137.7 255.4Z" fill="#deba53"/>
<path d="M95.8 259.0L94.1 257.4L95.9 255.4L97.6 257.1Z" fill="#c5bc5e"/>
<path d="M132.4 257.2L130.7 255.8L132.5 254.2L134.2 255.6Z" fill="#ddba54"/>
<path d="M92.3 259.3L90.6 257.6L92.4 255.7L94.1 257.4Z" fill="#c2bc5f"/>
<path d="M128.9 257.4L127.2 256.1L129.0 254.4L130.7 255.8Z" fill="#dbba55"/>
<path d="M88.8 259.6L87.1 257.9L88.9 256.0L90.6 257.6Z" fill="#c0bc60"/>
<path d="M125.4 257.7L123.7 256.3L125.5 254.7L127.2 256.1Z" fill="#d9ba56"/>
<path d="M85.3 259.9L83.6 258.2L85.5 256.2L87.1 257.9Z" fill="#bdbd61"/>
<path d="M121.9 258.0L120.2 256.6L122.0 254.9L123.7 256.3Z" fill="#d6ba57"/>
<path d="M81.8 260.2L80.1 258.4L82.0 256.4L83.6 258.2Z" fill="#bbbd62"/>
<path d="M118.4 258.4L116.7 257.0L118.5 255.2L120.2 256.6Z" fill="#d3bb58"/>
<path d="M78.3 260.5L76.6 258.6L78.5 256.6L80.1 258.4Z" fill="#b9bd63"/>
<path d="M114.9 258.7L113.2 257.3L115.1 255.5L116.7 257.0Z" fill="#d0bb5a"/>
<path d="M74.8 260.7L73.2 258.8L75.0 256.8L76.6 258.6Z" fill="#b7bd64"/>
<path d="M111.4 259.1L109.7 257.6L111.6 255.8L113.2 257.3Z" fill="#ccbb5b"/>
<path d="M71.3 260.9L69.7 259.0L71.5 256.9L73.2 258.8Z" fill="#b6bd64"/>
<path d="M107.9 259.5L106.2 258.0L108.1 256.1L109.7 257.6Z" fill="#c9bc5d"/>
<path d="M104.4 259.8L102.8 258.3L104.6 256.4L106.2 258.0Z" fill="#c5bc5e"/>
<path d="M100.9 260.2L99.3 258.6L101.1 256.8L102.8 258.3Z" fill="#c1bc60"/>
<path d="M137.5 258.3L135.8 256.9L137.7 255.4L139.3 256.8Z" fill="#dbba55"/>
<path d="M97.4 260.6L95.8 259.0L97.6 257.1L99.3 258.6Z" fill="#bdbc61"/>
<path d="M134.0 258.5L132.4 257.2L134.2 255.6L135.8 256.9Z" fill="#d9ba55"/>
<path d="M93.9 260.9L92.3 259.3L94.1 257.4L95.8 259.0Z" fill="#babd63"/>
<path d="M130.5 258.8L128.9 257.4L130.7 255.8L132.4 257.2Z" fill="#d7ba56"/>
<path d="M90.5 261.3L88.8 259.6L90.6 257.6L92.3 259.3Z" fill="#b6bd64"/>
<path d="M127.0 259.1L125.4 257.7L127.2 256.1L128.9 257.4Z" fill="#d5ba57"/>
<path d="M87.0 261.6L85.3 259.9L87.1 257.9L88.8 259.6Z" fill="#b3bd65"/>
<path d="M123.5 259.4L121.9 258.0L123.7 256.3L125.4 257.7Z" fill="#d2bb59"/>
<path d="M83.5 261.9L81.8 260.2L83.6 258.2L85.3 259.9Z" fill="#b0bd66"/>
<path d="M120.1 259.8L118.4 258.4L120.2 256.6L121.9 258.0Z" fill="#cebb5a"/>
<path d="M80.0 262.2L78.3 260.5L80.1 258.4L81.8 260.2Z" fill="#adbe68"/>
<path d="M116.6 260.1L114.9 258.7L116.7 257.0L118.4 258.4Z" fill="#cbbb5c"/>
<path d="M76.5 262.5L74.8 260.7L76.6 258.6L78.3 260.5Z" fill="#abbe69"/>
<path d="M113.1 260.5L111.4 259.1L113.2 257.3L114.9 258.7Z" fill="#c7bc5d"/>
<path d="M73.0 262.8L71.3 260.9L73.2 258.8L74.8 260.7Z" fill="#a8be69"/>
<path d="M109.6 260.9L107.9 259.5L109.7 257.6L111.4 259.1Z" fill="#c3bc5f"/>
<path d="M69.5 263.0L67.8 261.1L69.7 259.0L71.3 260.9Z" fill="#a7be6a"/>
<path d="M106.1 261.3L104.4 259.8L106.2 258.0L107.9 259.5Z" fill="#bebc61"/>
<path d="M102.6 261.7L100.9 260.2L102.8 258.3L104.4 259.8Z" fill="#babd62"/>
<path d="M139.2 259.6L137.5 258.3L139.3 256.8L141.0 258.1Z" fill="#d7ba56"/>
<path d="M99.1 262.1L97.4 260.6L99.3 258.6L100.9 260.2Z" fill="#b6bd64"/>
<path d="M135.7 259.8L134.0 258.5L135.8 256.9L137.5 258.3Z" fill="#d6ba57"/>
<path d="M95.6 262.5L93.9 260.9L95.8 259.0L97.4 260.6Z" fill="#b1bd66"/>
<path d="M132.2 260.1L130.5 258.8L132.4 257.2L134.0 258.5Z" fill="#d4bb58"/>
<path d="M92.1 262.9L90.5 261.3L92.3 259.3L93.9 260.9Z" fill="#adbe68"/>
<path d="M128.7 260.4L127.0 259.1L128.9 257.4L130.5 258.8Z" fill="#d1bb59"/>
<path d="M88.6 263.3L87.0 261.6L88.8 259.6L90.5 261.3Z" fill="#a9be69"/>
<path d="M125.2 260.8L123.5 259.4L125.4 257.7L127.0 259.1Z" fill="#cebb5a"/>
<path d="M85.1 263.6L83.5 261.9L85.3 259.9L87.0 261.6Z" fill="#a5be6b"/>
<path d="M121.7 261.1L120.1 259.8L121.9 258.0L123.5 259.4Z" fill="#cabb5c"/>
<path d="M81.6 264.0L80.0 262.2L81.8 260.2L83.5 261.9Z" fill="#a2be6c"/>
<path d="M118.2 261.5L116.6 260.1L118.4 258.4L120.1 259.8Z" fill="#c6bc5e"/>
<path d="M78.1 264.3L76.5 262.5L78.3 260.5L80.0 262.2Z" fill="#9ebe6e"/>
<path d="M114.7 261.9L113.1 260.5L114.9 258.7L116.6 260.1Z" fill="#c2bc5f"/>
<path d="M74.7 264.6L73.0 262.8L74.8 260.7L76.5 262.5Z" fill="#9bbf6f"/>
<path d="M111.2 262.4L109.6 260.9L111.4 259.1L113.1 260.5Z" fill="#bdbd61"/>
<path d="M71.2 264.9L69.5 263.0L71.3 260.9L73.0 262.8Z" fill="#98bf70"/>
<path d="M107.8 262.8L106.1 261.3L107.9 259.5L109.6 260.9Z" fill="#b8bd63"/>
<path d="M67.7 265.2L66.0 263.2L67.8 261.1L69.5 263.0Z" fill="#96bf71"/>
<path d="M104.3 263.2L102.6 261.7L104.4 259.8L106.1 261.3Z" fill="#b3bd65"/>
<path d="M140.8 260.9L139.2 259.6L141.0 258.1L142.7 259.4Z" fill="#d4bb58"/>
<path d="M100.8 263.6L99.1 262.1L100.9 260.2L102.6 261.7Z" fill="#aebe67"/>
<path d="M137.4 261.1L135.7 259.8L137.5 258.3L139.2 259.6Z" fill="#d3bb58"/>
<path d="M97.3 264.1L95.6 262.5L97.4 260.6L99.1 262.1Z" fill="#a9be69"/>
<path d="M133.9 261.4L132.2 260.1L134.0 258.5L135.7 259.8Z" fill="#d0bb59"/>
<path d="M93.8 264.5L92.1 262.9L93.9 260.9L95.6 262.5Z" fill="#a4be6b"/>
<path d="M130.4 261.7L128.7 260.4L130.5 258.8L132.2 260.1Z" fill="#cdbb5b"/>
<path d="M90.3 264.9L88.6 263.3L90.5 261.3L92.1 262.9Z" fill="#9fbe6d"/>
<path d="M126.9 262.1L125.2 260.8L127.0 259.1L128.7 260.4Z" fill="#cabb5c"/>
<path d="M86.8 265.3L85.1 263.6L87.0 261.6L88.6 263.3Z" fill="#9bbf6f"/>
<path d="M123.4 262.5L121.7 261.1L123.5 259.4L125.2 260.8Z" fill="#c6bc5e"/>
<path d="M83.3 265.7L81.6 264.0L83.5 261.9L85.1 263.6Z" fill="#96bf71"/>
<path d="M119.9 262.9L118.2 261.5L120.1 259.8L121.7 261.1Z" fill="#c2bc5f"/>
<path d="M79.8 266.1L78.1 264.3L80.0 262.2L81.6 264.0Z" fill="#92bf72"/>
<path d="M116.4 263.3L114.7 261.9L116.6 260.1L118.2 261.5Z" fill="#bdbd61"/>
<path d="M76.3 266.4L74.7 264.6L76.5 262.5L78.1 264.3Z" fill="#8ebf74"/>
<path d="M112.9 263.8L111.2 262.4L113.1 260.5L114.7 261.9Z" fill="#b8bd63"/>
<path d="M72.8 266.7L71.2 264.9L73.0 262.8L74.7 264.6Z" fill="#8abf76"/>
<path d="M109.4 264.2L107.8 262.8L109.6 260.9L111.2 262.4Z" fill="#b2bd65"/>
<path d="M69.3 267.0L67.7 265.2L69.5 263.0L71.2 264.9Z" fill="#87bf77"/>
<path d="M105.9 264.7L104.3 263.2L106.1 261.3L107.8 262.8Z" fill="#adbe68"/>
<path d="M142.5 262.2L140.8 260.9L142.7 259.4L144.3 260.7Z" fill="#d1bb59"/>
<path d="M65.8 267.3L64.2 265.4L66.0 263.2L67.7 265.2Z" fill="#84bf78"/>
<path d="M102.4 265.1L100.8 263.6L102.6 261.7L104.3 263.2Z" fill="#a7be6a"/>
<path d="M139.0 262.4L137.4 261.1L139.2 259.6L140.8 260.9Z" fill="#d0bb5a"/>
<path d="M98.9 265.6L97.3 264.1L99.1 262.1L100.8 263.6Z" fill="#a2be6c"/>
<path d="M135.5 262.7L133.9 261.4L135.7 259.8L137.4 261.1Z" fill="#cdbb5b"/>
<path d="M95.5 266.1L93.8 264.5L95.6 262.5L97.3 264.1Z" fill="#9cbf6e"/>
<path d="M132.0 263.0L130.4 261.7L132.2 260.1L133.9 261.4Z" fill="#cabb5c"/>
<path d="M92.0 266.5L90.3 264.9L92.1 262.9L93.8 264.5Z" fill="#96bf71"/>
<path d="M128.5 263.4L126.9 262.1L128.7 260.4L130.4 261.7Z" fill="#c6bc5d"/>
<path d="M88.5 266.9L86.8 265.3L88.6 263.3L90.3 264.9Z" fill="#91bf73"/>
<path d="M125.1 263.8L123.4 262.5L125.2 260.8L126.9 262.1Z" fill="#c2bc5f"/>
<path d="M85.0 267.4L83.3 265.7L85.1 263.6L86.8 265.3Z" fill="#8bbf75"/>
<path d="M121.6 264.2L119.9 262.9L121.7 261.1L123.4 262.5Z" fill="#bebc61"/>
<path d="M81.5 267.8L79.8 266.1L81.6 264.0L83.3 265.7Z" fill="#86bf78"/>
<path d="M118.1 264.7L116.4 263.3L118.2 261.5L119.9 262.9Z" fill="#b8bd63"/>
<path d="M78.0 268.2L76.3 266.4L78.1 264.3L79.8 266.1Z" fill="#80bf7a"/>
<path d="M114.6 265.1L112.9 263.8L114.7 261.9L116.4 263.3Z" fill="#b3bd65"/>
<path d="M74.5 268.5L72.8 266.7L74.7 264.6L76.3 266.4Z" fill="#7cbf7c"/>
<path d="M111.1 265.6L109.4 264.2L111.2 262.4L112.9 263.8Z" fill="#adbe68"/>
<path d="M71.0 268.9L69.3 267.0L71.2 264.9L72.8 266.7Z" fill="#77bf7e"/>
<path d="M107.6 266.1L105.9 264.7L107.8 262.8L109.4 264.2Z" fill="#a7be6a"/>
<path d="M144.2 263.4L142.5 262.2L144.3 260.7L146.0 262.0Z" fill="#cfbb5a"/>
<path d="M67.5 269.2L65.8 267.3L67.7 265.2L69.3 267.0Z" fill="#73bf7f"/>
<path d="M104.1 266.6L102.4 265.1L104.3 263.2L105.9 264.7Z" fill="#a1be6d"/>
<path d="M140.7 263.6L139.0 262.4L140.8 260.9L142.5 262.2Z" fill="#cdbb5b"/>
<path d="M64.0 269.5L62.4 267.6L64.2 265.4L65.8 267.3Z" fill="#6fbf81"/>
<path d="M100.6 267.1L98.9 265.6L100.8 263.6L102.4 265.1Z" fill="#9abf6f"/>
<path d="M137.2 263.9L135.5 262.7L137.4 261.1L139.0 262.4Z" fill="#cbbb5c"/>
<path d="M97.1 267.6L95.5 266.1L97.3 264.1L98.9 265.6Z" fill="#94bf72"/>
<path d="M133.7 264.3L132.0 263.0L133.9 261.4L135.5 262.7Z" fill="#c7bc5d"/>
<path d="M93.6 268.1L92.0 266.5L93.8 264.5L95.5 266.1Z" fill="#8dbf74"/>
<path d="M130.2 264.7L128.5 263.4L130.4 261.7L132.0 263.0Z" fill="#c3bc5f"/>
<path d="M90.1 268.5L88.5 266.9L90.3 264.9L92.0 266.5Z" fill="#86bf77"/>
<path d="M126.7 265.1L125.1 263.8L126.9 262.1L128.5 263.4Z" fill="#bfbc60"/>
<path d="M86.6 269.0L85.0 267.4L86.8 265.3L88.5 266.9Z" fill="#80bf7a"/>
<path d="M123.2 265.5L121.6 264.2L123.4 262.5L125.1 263.8Z" fill="#babd62"/>
<path d="M83.1 269.5L81.5 267.8L83.3 265.7L85.0 267.4Z" fill="#79bf7d"/>
<path d="M119.7 266.0L118.1 264.7L119.9 262.9L121.6 264.2Z" fill="#b4bd65"/>
<path d="M79.7 269.9L78.0 268.2L79.8 266.1L81.5 267.8Z" fill="#73bf7f"/>
<path d="M116.2 266.5L114.6 265.1L116.4 263.3L118.1 264.7Z" fill="#aebe67"/>
<path d="M76.2 270.3L74.5 268.5L76.3 266.4L78.0 268.2Z" fill="#6dbf82"/>
<path d="M112.8 267.0L111.1 265.6L112.9 263.8L114.6 265.1Z" fill="#a8be6a"/>
<path d="M72.7 270.7L71.0 268.9L72.8 266.7L74.5 268.5Z" fill="#67be85"/>
<path d="M109.3 267.5L107.6 266.1L109.4 264.2L111.1 265.6Z" fill="#a1be6c"/>
<path d="M145.8 264.6L144.2 263.4L146.0 262.0L147.7 263.2Z" fill="#ccbb5b"/>
<path d="M69.2 271.1L67.5 269.2L69.3 267.0L71.0 268.9Z" fill="#62be87"/>
<path d="M105.8 268.0L104.1 266.6L105.9 264.7L107.6 266.1Z" fill="#9abf6f"/>
<path d="M142.4 264.9L140.7 263.6L142.5 262.2L144.2 263.4Z" fill="#cbbb5c"/>
<path d="M65.7 271.4L64.0 269.5L65.8 267.3L67.5 269.2Z" fill="#5dbe8a"/>
<path d="M102.3 268.6L100.6 267.1L102.4 265.1L104.1 266.6Z" fill="#93bf72"/>
<path d="M138.9 265.2L137.2 263.9L139.0 262.4L140.7 263.6Z" fill="#c8bc5d"/>
<path d="M62.2 271.8L60.5 269.8L62.4 267.6L64.0 269.5Z" fill="#59bd8c"/>
<path d="M98.8 269.1L97.1 267.6L98.9 265.6L100.6 267.1Z" fill="#8cbf75"/>
<path d="M135.4 265.5L133.7 264.3L135.5 262.7L137.2 263.9Z" fill="#c5bc5e"/>
<path d="M95.3 269.6L93.6 268.1L95.5 266.1L97.1 267.6Z" fill="#84bf78"/>
<path d="M131.9 265.9L130.2 264.7L132.0 263.0L133.7 264.3Z" fill="#c1bc60"/>
<path d="M91.8 270.1L90.1 268.5L92.0 266.5L93.6 268.1Z" fill="#7dbf7b"/>
<path d="M128.4 266.3L126.7 265.1L128.5 263.4L130.2 264.7Z" fill="#bcbd62"/>
<path d="M88.3 270.6L86.6 269.0L88.5 266.9L90.1 268.5Z" fill="#75bf7f"/>
<path d="M124.9 266.8L123.2 265.5L125.1 263.8L126.7 265.1Z" fill="#b7bd64"/>
<path d="M84.8 271.1L83.1 269.5L85.0 267.4L86.6 269.0Z" fill="#6dbf82"/>
<path d="M121.4 267.3L119.7 266.0L121.6 264.2L123.2 265.5Z" fill="#b1bd66"/>
<path d="M81.3 271.6L79.7 269.9L81.5 267.8L83.1 269.5Z" fill="#66be85"/>
<path d="M117.9 267.8L116.2 266.5L118.1 264.7L119.7 266.0Z" fill="#aabe69"/>
<path d="M77.8 272.0L76.2 270.3L78.0 268.2L79.7 269.9Z" fill="#5ebe89"/>
<path d="M114.4 268.3L112.8 267.0L114.6 265.1L116.2 266.5Z" fill="#a4be6b"/>
<path d="M74.3 272.5L72.7 270.7L74.5 268.5L76.2 270.3Z" fill="#58bd8c"/>
<path d="M110.9 268.9L109.3 267.5L111.1 265.6L112.8 267.0Z" fill="#9cbf6e"/>
<path d="M147.5 265.9L145.8 264.6L147.7 263.2L149.3 264.5Z" fill="#cabb5c"/>
<path d="M70.8 272.9L69.2 271.1L71.0 268.9L72.7 270.7Z" fill="#52bd8f"/>
<path d="M107.4 269.4L105.8 268.0L107.6 266.1L109.3 267.5Z" fill="#95bf71"/>
<path d="M144.0 266.1L142.4 264.9L144.2 263.4L145.8 264.6Z" fill="#c9bc5d"/>
<path d="M67.4 273.3L65.7 271.4L67.5 269.2L69.2 271.1Z" fill="#4cbc92"/>
<path d="M103.9 270.0L102.3 268.6L104.1 266.6L105.8 268.0Z" fill="#8dbf75"/>
<path d="M140.5 266.4L138.9 265.2L140.7 263.6L142.4 264.9Z" fill="#c6bc5e"/>
<path d="M63.9 273.7L62.2 271.8L64.0 269.5L65.7 271.4Z" fill="#47bb95"/>
<path d="M100.4 270.5L98.8 269.1L100.6 267.1L102.3 268.6Z" fill="#84bf78"/>
<path d="M137.0 266.7L135.4 265.5L137.2 263.9L138.9 265.2Z" fill="#c3bc5f"/>
<path d="M60.4 274.0L58.7 272.1L60.5 269.8L62.2 271.8Z" fill="#43bb97"/>
<path d="M97.0 271.1L95.3 269.6L97.1 267.6L98.8 269.1Z" fill="#7cbf7c"/>
<path d="M133.5 267.1L131.9 265.9L133.7 264.3L135.4 265.5Z" fill="#bebc61"/>
<path d="M93.5 271.6L91.8 270.1L93.6 268.1L95.3 269.6Z" fill="#73bf7f"/>
<path d="M130.1 267.6L128.4 266.3L130.2 264.7L131.9 265.9Z" fill="#b9bd63"/>
<path d="M90.0 272.2L88.3 270.6L90.1 268.5L91.8 270.1Z" fill="#6abe83"/>
<path d="M126.6 268.1L124.9 266.8L126.7 265.1L128.4 266.3Z" fill="#b4bd65"/>
<path d="M86.5 272.7L84.8 271.1L86.6 269.0L88.3 270.6Z" fill="#61be87"/>
<path d="M123.1 268.6L121.4 267.3L123.2 265.5L124.9 266.8Z" fill="#aebe67"/>
<path d="M83.0 273.2L81.3 271.6L83.1 269.5L84.8 271.1Z" fill="#59bd8c"/>
<path d="M119.6 269.1L117.9 267.8L119.7 266.0L121.4 267.3Z" fill="#a7be6a"/>
<path d="M79.5 273.7L77.8 272.0L79.7 269.9L81.3 271.6Z" fill="#51bc90"/>
<path d="M116.1 269.7L114.4 268.3L116.2 266.5L117.9 267.8Z" fill="#9fbe6d"/>
<path d="M76.0 274.2L74.3 272.5L76.2 270.3L77.8 272.0Z" fill="#4abc94"/>
<path d="M112.6 270.2L110.9 268.9L112.8 267.0L114.4 268.3Z" fill="#98bf70"/>
<path d="M149.2 267.0L147.5 265.9L149.3 264.5L151.0 265.7Z" fill="#c9bc5d"/>
<path d="M72.5 274.7L70.8 272.9L72.7 270.7L74.3 272.5Z" fill="#43bb97"/>
<path d="M109.1 270.8L107.4 269.4L109.3 267.5L110.9 268.9Z" fill="#8fbf74"/>
<path d="M145.7 267.3L144.0 266.1L145.8 264.6L147.5 265.9Z" fill="#c7bc5d"/>
<path d="M69.0 275.1L67.4 273.3L69.2 271.1L70.8 272.9Z" fill="#3dba9b"/>
<path d="M105.6 271.4L103.9 270.0L105.8 268.0L107.4 269.4Z" fill="#86bf77"/>
<path d="M142.2 267.6L140.5 266.4L142.4 264.9L144.0 266.1Z" fill="#c4bc5e"/>
<path d="M65.5 275.5L63.9 273.7L65.7 271.4L67.4 273.3Z" fill="#37b99e"/>
<path d="M102.1 272.0L100.4 270.5L102.3 268.6L103.9 270.0Z" fill="#7dbf7b"/>
<path d="M138.7 267.9L137.0 266.7L138.9 265.2L140.5 266.4Z" fill="#c1bc60"/>
<path d="M62.0 275.9L60.4 274.0L62.2 271.8L63.9 273.7Z" fill="#33b8a1"/>
<path d="M98.6 272.6L97.0 271.1L98.8 269.1L100.4 270.5Z" fill="#74bf7f"/>
<path d="M135.2 268.4L133.5 267.1L135.4 265.5L137.0 266.7Z" fill="#bcbd61"/>
<path d="M58.5 276.3L56.9 274.4L58.7 272.1L60.4 274.0Z" fill="#2fb7a3"/>
<path d="M95.1 273.2L93.5 271.6L95.3 269.6L97.0 271.1Z" fill="#6abe83"/>
<path d="M131.7 268.8L130.1 267.6L131.9 265.9L133.5 267.1Z" fill="#b7bd64"/>
<path d="M91.6 273.7L90.0 272.2L91.8 270.1L93.5 271.6Z" fill="#60be88"/>
<path d="M128.2 269.3L126.6 268.1L128.4 266.3L130.1 267.6Z" fill="#b1bd66"/>
<path d="M88.1 274.3L86.5 272.7L88.3 270.6L90.0 272.2Z" fill="#56bd8d"/>
<path d="M124.7 269.8L123.1 268.6L124.9 266.8L126.6 268.1Z" fill="#abbe69"/>
<path d="M84.7 274.8L83.0 273.2L84.8 271.1L86.5 272.7Z" fill="#4dbc92"/>
<path d="M121.2 270.4L119.6 269.1L121.4 267.3L123.1 268.6Z" fill="#a4be6b"/>
<path d="M81.2 275.4L79.5 273.7L81.3 271.6L83.0 273.2Z" fill="#45bb96"/>
<path d="M117.7 271.0L116.1 269.7L117.9 267.8L119.6 269.1Z" fill="#9cbf6e"/>
<path d="M77.7 275.9L76.0 274.2L77.8 272.0L79.5 273.7Z" fill="#3dba9b"/>
<path d="M114.3 271.5L112.6 270.2L114.4 268.3L116.1 269.7Z" fill="#93bf72"/>
<path d="M150.8 268.2L149.2 267.0L151.0 265.7L152.7 266.9Z" fill="#c7bc5d"/>
<path d="M74.2 276.4L72.5 274.7L74.3 272.5L76.0 274.2Z" fill="#36b99f"/>
<path d="M110.8 272.1L109.1 270.8L110.9 268.9L112.6 270.2Z" fill="#8abf76"/>
<path d="M147.4 268.5L145.7 267.3L147.5 265.9L149.2 267.0Z" fill="#c6bc5e"/>
<path d="M70.7 276.9L69.0 275.1L70.8 272.9L72.5 274.7Z" fill="#30b7a3"/>
<path d="M107.3 272.8L105.6 271.4L107.4 269.4L109.1 270.8Z" fill="#81bf7a"/>
<path d="M143.9 268.8L142.2 267.6L144.0 266.1L145.7 267.3Z" fill="#c3bc5f"/>
<path d="M67.2 277.4L65.5 275.5L67.4 273.3L69.0 275.1Z" fill="#2ab6a6"/>
<path d="M103.8 273.4L102.1 272.0L103.9 270.0L105.6 271.4Z" fill="#76bf7e"/>
<path d="M140.4 269.1L138.7 267.9L140.5 266.4L142.2 267.6Z" fill="#bfbc60"/>
<path d="M63.7 277.8L62.0 275.9L63.9 273.7L65.5 275.5Z" fill="#25b5a9"/>
<path d="M100.3 274.0L98.6 272.6L100.4 270.5L102.1 272.0Z" fill="#6cbf82"/>
<path d="M136.9 269.5L135.2 268.4L137.0 266.7L138.7 267.9Z" fill="#bbbd62"/>
<path d="M60.2 278.2L58.5 276.3L60.4 274.0L62.0 275.9Z" fill="#21b4ac"/>
<path d="M96.8 274.6L95.1 273.2L97.0 271.1L98.6 272.6Z" fill="#61be87"/>
<path d="M133.4 270.0L131.7 268.8L133.5 267.1L135.2 268.4Z" fill="#b6bd64"/>
<path d="M56.7 278.6L55.1 276.7L56.9 274.4L58.5 276.3Z" fill="#1db3af"/>
<path d="M93.3 275.2L91.6 273.7L93.5 271.6L95.1 273.2Z" fill="#57bd8d"/>
<path d="M129.9 270.5L128.2 269.3L130.1 267.6L131.7 268.8Z" fill="#afbe67"/>
<path d="M89.8 275.8L88.1 274.3L90.0 272.2L91.6 273.7Z" fill="#4cbc92"/>
<path d="M126.4 271.0L124.7 269.8L126.6 268.1L128.2 269.3Z" fill="#a8be69"/>
<path d="M86.3 276.4L84.7 274.8L86.5 272.7L88.1 274.3Z" fill="#43bb97"/>
<path d="M122.9 271.6L121.2 270.4L123.1 268.6L124.7 269.8Z" fill="#a1be6c"/>
<path d="M82.8 277.0L81.2 275.4L83.0 273.2L84.7 274.8Z" fill="#3ab99c"/>
<path d="M119.4 272.2L117.7 271.0L119.6 269.1L121.2 270.4Z" fill="#99bf70"/>
<path d="M79.3 277.6L77.7 275.9L79.5 273.7L81.2 275.4Z" fill="#32b8a1"/>
<path d="M115.9 272.8L114.3 271.5L116.1 269.7L117.7 271.0Z" fill="#90bf73"/>
<path d="M152.5 269.4L150.8 268.2L152.7 266.9L154.3 268.1Z" fill="#c6bc5e"/>
<path d="M75.8 278.1L74.2 276.4L76.0 274.2L77.7 275.9Z" fill="#2bb6a6"/>
<path d="M112.4 273.5L110.8 272.1L112.6 270.2L114.3 271.5Z" fill="#86bf77"/>
<path d="M149.0 269.6L147.4 268.5L149.2 267.0L150.8 268.2Z" fill="#c4bc5e"/>
<path d="M72.4 278.6L70.7 276.9L72.5 274.7L74.2 276.4Z" fill="#25b5aa"/>
<path d="M108.9 274.1L107.3 272.8L109.1 270.8L110.8 272.1Z" fill="#7bbf7c"/>
<path d="M145.5 269.9L143.9 268.8L145.7 267.3L147.4 268.5Z" fill="#c2bc5f"/>
<path d="M68.9 279.2L67.2 277.4L69.0 275.1L70.7 276.9Z" fill="#1fb3ad"/>
<path d="M105.4 274.7L103.8 273.4L105.6 271.4L107.3 272.8Z" fill="#70bf80"/>
<path d="M142.0 270.3L140.4 269.1L142.2 267.6L143.9 268.8Z" fill="#bebc61"/>
<path d="M65.4 279.6L63.7 277.8L65.5 275.5L67.2 277.4Z" fill="#1ab2b1"/>
<path d="M102.0 275.4L100.3 274.0L102.1 272.0L103.8 273.4Z" fill="#65be86"/>
<path d="M138.5 270.7L136.9 269.5L138.7 267.9L140.4 269.1Z" fill="#babd63"/>
<path d="M61.9 280.1L60.2 278.2L62.0 275.9L63.7 277.8Z" fill="#16b1b4"/>
<path d="M98.5 276.1L96.8 274.6L98.6 272.6L100.3 274.0Z" fill="#59bd8b"/>
<path d="M135.0 271.2L133.4 270.0L135.2 268.4L136.9 269.5Z" fill="#b4bd65"/>
<path d="M58.4 280.6L56.7 278.6L58.5 276.3L60.2 278.2Z" fill="#12afb7"/>
<path d="M95.0 276.7L93.3 275.2L95.1 273.2L96.8 274.6Z" fill="#4ebc91"/>
<path d="M131.6 271.7L129.9 270.5L131.7 268.8L133.4 270.0Z" fill="#aebe67"/>
<path d="M54.9 281.0L53.2 279.0L55.1 276.7L56.7 278.6Z" fill="#0faeb9"/>
<path d="M91.5 277.3L89.8 275.8L91.6 273.7L93.3 275.2Z" fill="#44bb97"/>
<path d="M128.1 272.2L126.4 271.0L128.2 269.3L129.9 270.5Z" fill="#a7be6a"/>
<path d="M88.0 278.0L86.3 276.4L88.1 274.3L89.8 275.8Z" fill="#3ab99d"/>
<path d="M124.6 272.8L122.9 271.6L124.7 269.8L126.4 271.0Z" fill="#9fbe6d"/>
<path d="M84.5 278.6L82.8 277.0L84.7 274.8L86.3 276.4Z" fill="#31b8a2"/>
<path d="M121.1 273.4L119.4 272.2L121.2 270.4L122.9 271.6Z" fill="#96bf71"/>
<path d="M81.0 279.2L79.3 277.6L81.2 275.4L82.8 277.0Z" fill="#29b6a7"/>
<path d="M117.6 274.1L115.9 272.8L117.7 271.0L119.4 272.2Z" fill="#8cbf75"/>
<path d="M154.2 270.5L152.5 269.4L154.3 268.1L156.0 269.2Z" fill="#c5bc5e"/>
<path d="M77.5 279.8L75.8 278.1L77.7 275.9L79.3 277.6Z" fill="#22b4ac"/>
<path d="M114.1 274.7L112.4 273.5L114.3 271.5L115.9 272.8Z" fill="#82bf79"/>
<path d="M150.7 270.7L149.0 269.6L150.8 268.2L152.5 269.4Z" fill="#c4bc5f"/>
<path d="M74.0 280.4L72.4 278.6L74.2 276.4L75.8 278.1Z" fill="#1bb2b0"/>
<path d="M110.6 275.4L108.9 274.1L110.8 272.1L112.4 273.5Z" fill="#77bf7e"/>
<path d="M147.2 271.0L145.5 269.9L147.4 268.5L149.0 269.6Z" fill="#c1bc60"/>
<path d="M70.5 280.9L68.9 279.2L70.7 276.9L72.4 278.6Z" fill="#16b1b4"/>
<path d="M107.1 276.1L105.4 274.7L107.3 272.8L108.9 274.1Z" fill="#6bbe83"/>
<path d="M143.7 271.4L142.0 270.3L143.9 268.8L145.5 269.9Z" fill="#bdbc61"/>
<path d="M67.0 281.4L65.4 279.6L67.2 277.4L68.9 279.2Z" fill="#11afb8"/>
<path d="M103.6 276.8L102.0 275.4L103.8 273.4L105.4 274.7Z" fill="#5fbe89"/>
<path d="M140.2 271.8L138.5 270.7L140.4 269.1L142.0 270.3Z" fill="#b9bd63"/>
<path d="M63.5 282.0L61.9 280.1L63.7 277.8L65.4 279.6Z" fill="#0dadbb"/>
<path d="M100.1 277.4L98.5 276.1L100.3 274.0L102.0 275.4Z" fill="#53bd8f"/>
<path d="M136.7 272.3L135.0 271.2L136.9 269.5L138.5 270.7Z" fill="#b3bd65"/>
<path d="M60.0 282.4L58.4 280.6L60.2 278.2L61.9 280.1Z" fill="#0aacbe"/>
<path d="M96.6 278.1L95.0 276.7L96.8 274.6L98.5 276.1Z" fill="#47bb95"/>
<path d="M133.2 272.8L131.6 271.7L133.4 270.0L135.0 271.2Z" fill="#adbe68"/>
<path d="M56.6 282.9L54.9 281.0L56.7 278.6L58.4 280.6Z" fill="#08aac1"/>
<path d="M93.1 278.8L91.5 277.3L93.3 275.2L95.0 276.7Z" fill="#3cba9b"/>
<path d="M129.7 273.4L128.1 272.2L129.9 270.5L131.6 271.7Z" fill="#a5be6b"/>
<path d="M53.1 283.4L51.4 281.4L53.2 279.0L54.9 281.0Z" fill="#07a9c3"/>
<path d="M89.7 279.5L88.0 278.0L89.8 275.8L91.5 277.3Z" fill="#32b8a1"/>
<path d="M126.2 274.0L124.6 272.8L126.4 271.0L128.1 272.2Z" fill="#9dbe6e"/>
<path d="M86.2 280.1L84.5 278.6L86.3 276.4L88.0 278.0Z" fill="#29b6a7"/>
<path d="M122.7 274.6L121.1 273.4L122.9 271.6L124.6 272.8Z" fill="#94bf72"/>
<path d="M82.7 280.8L81.0 279.2L82.8 277.0L84.5 278.6Z" fill="#21b4ac"/>
<path d="M119.3 275.3L117.6 274.1L119.4 272.2L121.1 273.4Z" fill="#8abf76"/>
<path d="M155.8 271.6L154.2 270.5L156.0 269.2L157.7 270.4Z" fill="#c4bc5e"/>
<path d="M79.2 281.4L77.5 279.8L79.3 277.6L81.0 279.2Z" fill="#1ab2b1"/>
<path d="M115.8 276.0L114.1 274.7L115.9 272.8L117.6 274.1Z" fill="#7fbf7a"/>
<path d="M152.3 271.9L150.7 270.7L152.5 269.4L154.2 270.5Z" fill="#c3bc5f"/>
<path d="M75.7 282.0L74.0 280.4L75.8 278.1L77.5 279.8Z" fill="#14b0b6"/>
<path d="M112.3 276.7L110.6 275.4L112.4 273.5L114.1 274.7Z" fill="#73bf7f"/>
<path d="M148.9 272.1L147.2 271.0L149.0 269.6L150.7 270.7Z" fill="#c1bc60"/>
<path d="M72.2 282.6L70.5 280.9L72.4 278.6L74.0 280.4Z" fill="#0eaeba"/>
<path d="M108.8 277.4L107.1 276.1L108.9 274.1L110.6 275.4Z" fill="#66be85"/>
<path d="M145.4 272.5L143.7 271.4L145.5 269.9L147.2 271.0Z" fill="#bdbd61"/>
<path d="M68.7 283.2L67.0 281.4L68.9 279.2L70.5 280.9Z" fill="#0aacbd"/>
<path d="M105.3 278.1L103.6 276.8L105.4 274.7L107.1 276.1Z" fill="#59bd8b"/>
<path d="M141.9 272.9L140.2 271.8L142.0 270.3L143.7 271.4Z" fill="#b8bd63"/>
<path d="M65.2 283.8L63.5 282.0L65.4 279.6L67.0 281.4Z" fill="#08aac1"/>
<path d="M101.8 278.8L100.1 277.4L102.0 275.4L103.6 276.8Z" fill="#4cbc92"/>
<path d="M138.4 273.4L136.7 272.3L138.5 270.7L140.2 271.8Z" fill="#b3bd65"/>
<path d="M61.7 284.3L60.0 282.4L61.9 280.1L63.5 282.0Z" fill="#06a8c4"/>
<path d="M98.3 279.5L96.6 278.1L98.5 276.1L100.1 277.4Z" fill="#40ba99"/>
<path d="M134.9 274.0L133.2 272.8L135.0 271.2L136.7 272.3Z" fill="#acbe68"/>
<path d="M58.2 284.8L56.6 282.9L58.4 280.6L60.0 282.4Z" fill="#06a6c7"/>
<path d="M94.8 280.2L93.1 278.8L95.0 276.7L96.6 278.1Z" fill="#35b89f"/>
<path d="M131.4 274.5L129.7 273.4L131.6 271.7L133.2 272.8Z" fill="#a4be6b"/>
<path d="M54.7 285.3L53.1 283.4L54.9 281.0L56.6 282.9Z" fill="#06a4c9"/>
<path d="M91.3 281.0L89.7 279.5L91.5 277.3L93.1 278.8Z" fill="#2bb6a5"/>
<path d="M127.9 275.2L126.2 274.0L128.1 272.2L129.7 273.4Z" fill="#9cbf6f"/>
<path d="M51.2 285.8L49.6 283.8L51.4 281.4L53.1 283.4Z" fill="#06a2cb"/>
<path d="M87.8 281.7L86.2 280.1L88.0 278.0L89.7 279.5Z" fill="#22b4ab"/>
<path d="M124.4 275.8L122.7 274.6L124.6 272.8L126.2 274.0Z" fill="#92bf72"/>
<path d="M84.3 282.3L82.7 280.8L84.5 278.6L86.2 280.1Z" fill="#1ab2b1"/>
<path d="M120.9 276.5L119.3 275.3L121.1 273.4L122.7 274.6Z" fill="#88bf77"/>
<path d="M80.8 283.0L79.2 281.4L81.0 279.2L82.7 280.8Z" fill="#13b0b6"/>
<path d="M117.4 277.2L115.8 276.0L117.6 274.1L119.3 275.3Z" fill="#7cbf7c"/>
<path d="M154.0 272.9L152.3 271.9L154.2 270.5L155.8 271.6Z" fill="#c3bc5f"/>
<path d="M77.3 283.7L75.7 282.0L77.5 279.8L79.2 281.4Z" fill="#0daebb"/>
<path d="M113.9 277.9L112.3 276.7L114.1 274.7L115.8 276.0Z" fill="#6fbf81"/>
<path d="M150.5 273.2L148.9 272.1L150.7 270.7L152.3 271.9Z" fill="#c1bc60"/>
<path d="M73.9 284.3L72.2 282.6L74.0 280.4L75.7 282.0Z" fill="#09abbf"/>
<path d="M110.4 278.7L108.8 277.4L110.6 275.4L112.3 276.7Z" fill="#62be87"/>
<path d="M147.0 273.6L145.4 272.5L147.2 271.0L148.9 272.1Z" fill="#bdbd61"/>
<path d="M70.4 284.9L68.7 283.2L70.5 280.9L72.2 282.6Z" fill="#07a9c3"/>
<path d="M107.0 279.4L105.3 278.1L107.1 276.1L108.8 277.4Z" fill="#54bd8e"/>
<path d="M143.5 274.0L141.9 272.9L143.7 271.4L145.4 272.5Z" fill="#b8bd63"/>
<path d="M66.9 285.5L65.2 283.8L67.0 281.4L68.7 283.2Z" fill="#06a7c6"/>
<path d="M103.5 280.1L101.8 278.8L103.6 276.8L105.3 278.1Z" fill="#47bb95"/>
<path d="M140.0 274.5L138.4 273.4L140.2 271.8L141.9 272.9Z" fill="#b3bd65"/>
<path d="M63.4 286.1L61.7 284.3L63.5 282.0L65.2 283.8Z" fill="#06a4c9"/>
<path d="M100.0 280.9L98.3 279.5L100.1 277.4L101.8 278.8Z" fill="#3bb99c"/>
<path d="M136.6 275.1L134.9 274.0L136.7 272.3L138.4 273.4Z" fill="#acbe68"/>
<path d="M59.9 286.7L58.2 284.8L60.0 282.4L61.7 284.3Z" fill="#06a2cc"/>
<path d="M96.5 281.6L94.8 280.2L96.6 278.1L98.3 279.5Z" fill="#30b7a3"/>
<path d="M133.1 275.7L131.4 274.5L133.2 272.8L134.9 274.0Z" fill="#a4be6b"/>
<path d="M56.4 287.2L54.7 285.3L56.6 282.9L58.2 284.8Z" fill="#069fce"/>
<path d="M93.0 282.4L91.3 281.0L93.1 278.8L94.8 280.2Z" fill="#26b5a9"/>
<path d="M129.6 276.3L127.9 275.2L129.7 273.4L131.4 274.5Z" fill="#9bbf6f"/>
<path d="M52.9 287.7L51.2 285.8L53.1 283.4L54.7 285.3Z" fill="#079cd0"/>
<path d="M89.5 283.1L87.8 281.7L89.7 279.5L91.3 281.0Z" fill="#1cb3af"/>
<path d="M126.1 277.0L124.4 275.8L126.2 274.0L127.9 275.2Z" fill="#91bf73"/>
<path d="M49.4 288.2L47.7 286.2L49.6 283.8L51.2 285.8Z" fill="#0899d1"/>
<path d="M86.0 283.9L84.3 282.3L86.2 280.1L87.8 281.7Z" fill="#14b0b5"/>
<path d="M122.6 277.7L120.9 276.5L122.7 274.6L124.4 275.8Z" fill="#86bf77"/>
<path d="M82.5 284.6L80.8 283.0L82.7 280.8L84.3 282.3Z" fill="#0eaeba"/>
<path d="M119.1 278.4L117.4 277.2L119.3 275.3L120.9 276.5Z" fill="#7abf7c"/>
<path d="M79.0 285.3L77.3 283.7L79.2 281.4L80.8 283.0Z" fill="#09abbf"/>
<path d="M115.6 279.1L113.9 277.9L115.8 276.0L117.4 277.2Z" fill="#6dbf82"/>
<path d="M152.2 274.3L150.5 273.2L152.3 271.9L154.0 272.9Z" fill="#c1bc60"/>
<path d="M75.5 285.9L73.9 284.3L75.7 282.0L77.3 283.7Z" fill="#07a9c3"/>
<path d="M112.1 279.9L110.4 278.7L112.3 276.7L113.9 277.9Z" fill="#5fbe89"/>
<path d="M148.7 274.7L147.0 273.6L148.9 272.1L150.5 273.2Z" fill="#bdbc61"/>
<path d="M72.0 286.6L70.4 284.9L72.2 282.6L73.9 284.3Z" fill="#06a6c7"/>
<path d="M108.6 280.7L107.0 279.4L108.8 277.4L110.4 278.7Z" fill="#50bc90"/>
<path d="M145.2 275.1L143.5 274.0L145.4 272.5L147.0 273.6Z" fill="#b9bd63"/>
<path d="M68.5 287.2L66.9 285.5L68.7 283.2L70.4 284.9Z" fill="#06a3cb"/>
<path d="M105.1 281.4L103.5 280.1L105.3 278.1L107.0 279.4Z" fill="#43bb97"/>
<path d="M141.7 275.6L140.0 274.5L141.9 272.9L143.5 274.0Z" fill="#b3bd65"/>
<path d="M65.0 287.9L63.4 286.1L65.2 283.8L66.9 285.5Z" fill="#06a0cd"/>
<path d="M101.6 282.2L100.0 280.9L101.8 278.8L103.5 280.1Z" fill="#36b99f"/>
<path d="M138.2 276.1L136.6 275.1L138.4 273.4L140.0 274.5Z" fill="#acbe68"/>
<path d="M61.6 288.5L59.9 286.7L61.7 284.3L63.4 286.1Z" fill="#079ccf"/>
<path d="M98.1 283.0L96.5 281.6L98.3 279.5L100.0 280.9Z" fill="#2bb6a6"/>
<path d="M134.7 276.7L133.1 275.7L134.9 274.0L136.6 275.1Z" fill="#a4be6b"/>
<path d="M58.1 289.1L56.4 287.2L58.2 284.8L59.9 286.7Z" fill="#0899d1"/>
<path d="M94.6 283.8L93.0 282.4L94.8 280.2L96.5 281.6Z" fill="#21b4ac"/>
<path d="M131.2 277.4L129.6 276.3L131.4 274.5L133.1 275.7Z" fill="#9bbf6f"/>
<path d="M54.6 289.6L52.9 287.7L54.7 285.3L56.4 287.2Z" fill="#0b95d2"/>
<path d="M91.2 284.6L89.5 283.1L91.3 281.0L93.0 282.4Z" fill="#18b1b3"/>
<path d="M127.7 278.1L126.1 277.0L127.9 275.2L129.6 276.3Z" fill="#90bf73"/>
<path d="M51.1 290.2L49.4 288.2L51.2 285.8L52.9 287.7Z" fill="#0e91d2"/>
<path d="M87.7 285.3L86.0 283.9L87.8 281.7L89.5 283.1Z" fill="#10afb8"/>
<path d="M124.3 278.8L122.6 277.7L124.4 275.8L126.1 277.0Z" fill="#85bf78"/>
<path d="M47.6 290.7L45.9 288.7L47.7 286.2L49.4 288.2Z" fill="#118ed2"/>
<path d="M84.2 286.1L82.5 284.6L84.3 282.3L86.0 283.9Z" fill="#0aacbe"/>
<path d="M120.8 279.5L119.1 278.4L120.9 276.5L122.6 277.7Z" fill="#78bf7d"/>
<path d="M80.7 286.8L79.0 285.3L80.8 283.0L82.5 284.6Z" fill="#07a9c3"/>
<path d="M117.3 280.3L115.6 279.1L117.4 277.2L119.1 278.4Z" fill="#6abe83"/>
<path d="M77.2 287.5L75.5 285.9L77.3 283.7L79.0 285.3Z" fill="#06a6c7"/>
<path d="M113.8 281.1L112.1 279.9L113.9 277.9L115.6 279.1Z" fill="#5cbe8a"/>
<path d="M150.4 275.7L148.7 274.7L150.5 273.2L152.2 274.3Z" fill="#bebc61"/>
<path d="M73.7 288.3L72.0 286.6L73.9 284.3L75.5 285.9Z" fill="#06a3cb"/>
<path d="M110.3 281.9L108.6 280.7L110.4 278.7L112.1 279.9Z" fill="#4dbc92"/>
<path d="M146.9 276.1L145.2 275.1L147.0 273.6L148.7 274.7Z" fill="#b9bd63"/>
<path d="M70.2 288.9L68.5 287.2L70.4 284.9L72.0 286.6Z" fill="#069fce"/>
<path d="M106.8 282.7L105.1 281.4L107.0 279.4L108.6 280.7Z" fill="#3fba99"/>
<path d="M143.4 276.6L141.7 275.6L143.5 274.0L145.2 275.1Z" fill="#b3bd65"/>
<path d="M66.7 289.6L65.0 287.9L66.9 285.5L68.5 287.2Z" fill="#079bd0"/>
<path d="M103.3 283.5L101.6 282.2L103.5 280.1L105.1 281.4Z" fill="#33b8a1"/>
<path d="M139.9 277.2L138.2 276.1L140.0 274.5L141.7 275.6Z" fill="#acbe68"/>
<path d="M63.2 290.3L61.6 288.5L63.4 286.1L65.0 287.9Z" fill="#0a97d1"/>
<path d="M99.8 284.3L98.1 283.0L100.0 280.9L101.6 282.2Z" fill="#27b5a8"/>
<path d="M136.4 277.8L134.7 276.7L136.6 275.1L138.2 276.1Z" fill="#a4be6b"/>
<path d="M59.7 290.9L58.1 289.1L59.9 286.7L61.6 288.5Z" fill="#0d92d2"/>
<path d="M96.3 285.2L94.6 283.8L96.5 281.6L98.1 283.0Z" fill="#1cb3af"/>
<path d="M132.9 278.5L131.2 277.4L133.1 275.7L134.7 276.7Z" fill="#9bbf6f"/>
<path d="M56.2 291.5L54.6 289.6L56.4 287.2L58.1 289.1Z" fill="#118ed2"/>
<path d="M92.8 286.0L91.2 284.6L93.0 282.4L94.6 283.8Z" fill="#13b0b6"/>
<path d="M129.4 279.2L127.7 278.1L129.6 276.3L131.2 277.4Z" fill="#90bf73"/>
<path d="M52.7 292.1L51.1 290.2L52.9 287.7L54.6 289.6Z" fill="#1389d3"/>
<path d="M89.3 286.8L87.7 285.3L89.5 283.1L91.2 284.6Z" fill="#0cadbc"/>
<path d="M125.9 279.9L124.3 278.8L126.1 277.0L127.7 278.1Z" fill="#85bf78"/>
<path d="M49.3 292.6L47.6 290.7L49.4 288.2L51.1 290.2Z" fill="#1486d4"/>
<path d="M85.8 287.6L84.2 286.1L86.0 283.9L87.7 285.3Z" fill="#07aac1"/>
<path d="M122.4 280.7L120.8 279.5L122.6 277.7L124.3 278.8Z" fill="#78bf7d"/>
<path d="M82.3 288.3L80.7 286.8L82.5 284.6L84.2 286.1Z" fill="#06a7c6"/>
<path d="M118.9 281.5L117.3 280.3L119.1 278.4L120.8 279.5Z" fill="#69be84"/>
<path d="M78.9 289.1L77.2 287.5L79.0 285.3L80.7 286.8Z" fill="#06a3ca"/>
<path d="M115.4 282.3L113.8 281.1L115.6 279.1L117.3 280.3Z" fill="#5abd8b"/>
<path d="M75.4 289.9L73.7 288.3L75.5 285.9L77.2 287.5Z" fill="#069fce"/>
<path d="M112.0 283.1L110.3 281.9L112.1 279.9L113.8 281.1Z" fill="#4bbc93"/>
<path d="M148.5 277.1L146.9 276.1L148.7 274.7L150.4 275.7Z" fill="#babd62"/>
<path d="M71.9 290.6L70.2 288.9L72.0 286.6L73.7 288.3Z" fill="#089bd0"/>
<path d="M108.5 283.9L106.8 282.7L108.6 280.7L110.3 281.9Z" fill="#3dba9b"/>
<path d="M145.0 277.6L143.4 276.6L145.2 275.1L146.9 276.1Z" fill="#b5bd65"/>
<path d="M68.4 291.3L66.7 289.6L68.5 287.2L70.2 288.9Z" fill="#0b96d1"/>
<path d="M105.0 284.8L103.3 283.5L105.1 281.4L106.8 282.7Z" fill="#2fb7a3"/>
<path d="M141.6 278.2L139.9 277.2L141.7 275.6L143.4 276.6Z" fill="#aebe67"/>
<path d="M64.9 292.0L63.2 290.3L65.0 287.9L66.7 289.6Z" fill="#0f90d2"/>
<path d="M101.5 285.6L99.8 284.3L101.6 282.2L103.3 283.5Z" fill="#24b5aa"/>
<path d="M138.1 278.8L136.4 277.8L138.2 276.1L139.9 277.2Z" fill="#a5be6b"/>
<path d="M61.4 292.7L59.7 290.9L61.6 288.5L63.2 290.3Z" fill="#128bd2"/>
<path d="M98.0 286.5L96.3 285.2L98.1 283.0L99.8 284.3Z" fill="#19b2b2"/>
<path d="M134.6 279.5L132.9 278.5L134.7 276.7L136.4 277.8Z" fill="#9cbf6f"/>
<path d="M57.9 293.3L56.2 291.5L58.1 289.1L59.7 290.9Z" fill="#1487d3"/>
<path d="M94.5 287.3L92.8 286.0L94.6 283.8L96.3 285.2Z" fill="#10afb8"/>
<path d="M131.1 280.2L129.4 279.2L131.2 277.4L132.9 278.5Z" fill="#91bf73"/>
<path d="M54.4 293.9L52.7 292.1L54.6 289.6L56.2 291.5Z" fill="#1483d5"/>
<path d="M91.0 288.2L89.3 286.8L91.2 284.6L92.8 286.0Z" fill="#09acbe"/>
<path d="M127.6 281.0L125.9 279.9L127.7 278.1L129.4 279.2Z" fill="#85bf78"/>
<path d="M50.9 294.5L49.3 292.6L51.1 290.2L52.7 292.1Z" fill="#137fd6"/>
<path d="M87.5 289.0L85.8 287.6L87.7 285.3L89.3 286.8Z" fill="#06a8c4"/>
<path d="M124.1 281.7L122.4 280.7L124.3 278.8L125.9 279.9Z" fill="#77bf7d"/>
<path d="M84.0 289.8L82.3 288.3L84.2 286.1L85.8 287.6Z" fill="#06a4c9"/>
<path d="M120.6 282.6L118.9 281.5L120.8 279.5L122.4 280.7Z" fill="#68be84"/>
<path d="M80.5 290.6L78.9 289.1L80.7 286.8L82.3 288.3Z" fill="#06a0cd"/>
<path d="M117.1 283.4L115.4 282.3L117.3 280.3L118.9 281.5Z" fill="#59bd8c"/>
<path d="M77.0 291.4L75.4 289.9L77.2 287.5L78.9 289.1Z" fill="#079cd0"/>
<path d="M113.6 284.3L112.0 283.1L113.8 281.1L115.4 282.3Z" fill="#49bc94"/>
<path d="M73.5 292.2L71.9 290.6L73.7 288.3L75.4 289.9Z" fill="#0a96d1"/>
<path d="M110.1 285.1L108.5 283.9L110.3 281.9L112.0 283.1Z" fill="#3ab99c"/>
<path d="M146.7 278.6L145.0 277.6L146.9 276.1L148.5 277.1Z" fill="#b6bd64"/>
<path d="M70.0 293.0L68.4 291.3L70.2 288.9L71.9 290.6Z" fill="#0f90d2"/>
<path d="M106.6 286.0L105.0 284.8L106.8 282.7L108.5 283.9Z" fill="#2db7a4"/>
<path d="M143.2 279.2L141.6 278.2L143.4 276.6L145.0 277.6Z" fill="#afbe67"/>
<path d="M66.6 293.7L64.9 292.0L66.7 289.6L68.4 291.3Z" fill="#128bd3"/>
<path d="M103.1 286.9L101.5 285.6L103.3 283.5L105.0 284.8Z" fill="#21b4ac"/>
<path d="M139.7 279.8L138.1 278.8L139.9 277.2L141.6 278.2Z" fill="#a7be6a"/>
<path d="M63.1 294.4L61.4 292.7L63.2 290.3L64.9 292.0Z" fill="#1486d4"/>
<path d="M99.6 287.8L98.0 286.5L99.8 284.3L101.5 285.6Z" fill="#16b1b4"/>
<path d="M136.2 280.5L134.6 279.5L136.4 277.8L138.1 278.8Z" fill="#9dbe6e"/>
<path d="M59.6 295.1L57.9 293.3L59.7 290.9L61.4 292.7Z" fill="#1481d5"/>
<path d="M96.2 288.7L94.5 287.3L96.3 285.2L98.0 286.5Z" fill="#0daeba"/>
<path d="M132.7 281.2L131.1 280.2L132.9 278.5L134.6 279.5Z" fill="#92bf72"/>
<path d="M56.1 295.8L54.4 293.9L56.2 291.5L57.9 293.3Z" fill="#137dd7"/>
<path d="M92.7 289.5L91.0 288.2L92.8 286.0L94.5 287.3Z" fill="#08aac1"/>
<path d="M129.3 282.0L127.6 281.0L129.4 279.2L131.1 280.2Z" fill="#86bf77"/>
<path d="M52.6 296.4L50.9 294.5L52.7 292.1L54.4 293.9Z" fill="#117ada"/>
<path d="M89.2 290.4L87.5 289.0L89.3 286.8L91.0 288.2Z" fill="#06a6c6"/>
<path d="M125.8 282.8L124.1 281.7L125.9 279.9L127.6 281.0Z" fill="#78bf7d"/>
<path d="M85.7 291.3L84.0 289.8L85.8 287.6L87.5 289.0Z" fill="#06a2cb"/>
<path d="M122.3 283.6L120.6 282.6L122.4 280.7L124.1 281.7Z" fill="#69be84"/>
<path d="M82.2 292.1L80.5 290.6L82.3 288.3L84.0 289.8Z" fill="#079dcf"/>
<path d="M118.8 284.5L117.1 283.4L118.9 281.5L120.6 282.6Z" fill="#58bd8c"/>
<path d="M78.7 293.0L77.0 291.4L78.9 289.1L80.5 290.6Z" fill="#0998d1"/>
<path d="M115.3 285.4L113.6 284.3L115.4 282.3L117.1 283.4Z" fill="#48bb94"/>
<path d="M75.2 293.8L73.5 292.2L75.4 289.9L77.0 291.4Z" fill="#0e91d2"/>
<path d="M111.8 286.3L110.1 285.1L112.0 283.1L113.6 284.3Z" fill="#39b99d"/>
<path d="M71.7 294.6L70.0 293.0L71.9 290.6L73.5 292.2Z" fill="#128bd2"/>
<path d="M108.3 287.2L106.6 286.0L108.5 283.9L110.1 285.1Z" fill="#2bb6a6"/>
<path d="M144.9 280.2L143.2 279.2L145.0 277.6L146.7 278.6Z" fill="#b1bd66"/>
<path d="M68.2 295.4L66.6 293.7L68.4 291.3L70.0 293.0Z" fill="#1486d4"/>
<path d="M104.8 288.1L103.1 286.9L105.0 284.8L106.6 286.0Z" fill="#1fb3ae"/>
<path d="M141.4 280.8L139.7 279.8L141.6 278.2L143.2 279.2Z" fill="#a8be69"/>
<path d="M64.7 296.1L63.1 294.4L64.9 292.0L66.6 293.7Z" fill="#1481d6"/>
<path d="M101.3 289.0L99.6 287.8L101.5 285.6L103.1 286.9Z" fill="#14b0b5"/>
<path d="M137.9 281.5L136.2 280.5L138.1 278.8L139.7 279.8Z" fill="#9fbe6d"/>
<path d="M61.2 296.9L59.6 295.1L61.4 292.7L63.1 294.4Z" fill="#127cd8"/>
<path d="M97.8 290.0L96.2 288.7L98.0 286.5L99.6 287.8Z" fill="#0badbc"/>
<path d="M134.4 282.2L132.7 281.2L134.6 279.5L136.2 280.5Z" fill="#94bf72"/>
<path d="M57.7 297.6L56.1 295.8L57.9 293.3L59.6 295.1Z" fill="#1078da"/>
<path d="M94.3 290.9L92.7 289.5L94.5 287.3L96.2 288.7Z" fill="#07a9c3"/>
<path d="M130.9 283.0L129.3 282.0L131.1 280.2L132.7 281.2Z" fill="#87bf77"/>
<path d="M54.3 298.3L52.6 296.4L54.4 293.9L56.1 295.8Z" fill="#0c74dd"/>
<path d="M90.8 291.8L89.2 290.4L91.0 288.2L92.7 289.5Z" fill="#06a5c8"/>
<path d="M127.4 283.8L125.8 282.8L127.6 281.0L129.3 282.0Z" fill="#79bf7d"/>
<path d="M87.3 292.7L85.7 291.3L87.5 289.0L89.2 290.4Z" fill="#06a0cd"/>
<path d="M123.9 284.7L122.3 283.6L124.1 281.7L125.8 282.8Z" fill="#69be84"/>
<path d="M83.9 293.6L82.2 292.1L84.0 289.8L85.7 291.3Z" fill="#089bd0"/>
<path d="M120.4 285.6L118.8 284.5L120.6 282.6L122.3 283.6Z" fill="#59bd8c"/>
<path d="M80.4 294.5L78.7 293.0L80.5 290.6L82.2 292.1Z" fill="#0c94d2"/>
<path d="M116.9 286.5L115.3 285.4L117.1 283.4L118.8 284.5Z" fill="#48bb95"/>
<path d="M76.9 295.3L75.2 293.8L77.0 291.4L78.7 293.0Z" fill="#118dd2"/>
<path d="M113.5 287.4L111.8 286.3L113.6 284.3L115.3 285.4Z" fill="#38b99e"/>
<path d="M73.4 296.2L71.7 294.6L73.5 292.2L75.2 293.8Z" fill="#1487d3"/>
<path d="M110.0 288.4L108.3 287.2L110.1 285.1L111.8 286.3Z" fill="#2ab6a6"/>
<path d="M69.9 297.0L68.2 295.4L70.0 293.0L71.7 294.6Z" fill="#1481d5"/>
<path d="M106.5 289.3L104.8 288.1L106.6 286.0L108.3 287.2Z" fill="#1db3af"/>
<path d="M143.1 281.7L141.4 280.8L143.2 279.2L144.9 280.2Z" fill="#abbe68"/>
<path d="M66.4 297.8L64.7 296.1L66.6 293.7L68.2 295.4Z" fill="#127dd8"/>
<path d="M103.0 290.3L101.3 289.0L103.1 286.9L104.8 288.1Z" fill="#12b0b6"/>
<path d="M139.6 282.4L137.9 281.5L139.7 279.8L141.4 280.8Z" fill="#a1be6c"/>
<path d="M62.9 298.6L61.2 296.9L63.1 294.4L64.7 296.1Z" fill="#0f78db"/>
<path d="M99.5 291.2L97.8 290.0L99.6 287.8L101.3 289.0Z" fill="#0aacbe"/>
<path d="M136.1 283.2L134.4 282.2L136.2 280.5L137.9 281.5Z" fill="#96bf71"/>
<path d="M59.4 299.3L57.7 297.6L59.6 295.1L61.2 296.9Z" fill="#0b73dd"/>
<path d="M96.0 292.2L94.3 290.9L96.2 288.7L97.8 290.0Z" fill="#06a8c4"/>
<path d="M132.6 284.0L130.9 283.0L132.7 281.2L134.4 282.2Z" fill="#89bf76"/>
<path d="M55.9 300.1L54.3 298.3L56.1 295.8L57.7 297.6Z" fill="#066fdf"/>
<path d="M92.5 293.1L90.8 291.8L92.7 289.5L94.3 290.9Z" fill="#06a3ca"/>
<path d="M129.1 284.8L127.4 283.8L129.3 282.0L130.9 283.0Z" fill="#7bbf7c"/>
<path d="M89.0 294.1L87.3 292.7L89.2 290.4L90.8 291.8Z" fill="#069ece"/>
<path d="M125.6 285.7L123.9 284.7L125.8 282.8L127.4 283.8Z" fill="#6bbe83"/>
<path d="M85.5 295.0L83.9 293.6L85.7 291.3L87.3 292.7Z" fill="#0998d1"/>
<path d="M122.1 286.6L120.4 285.6L122.3 283.6L123.9 284.7Z" fill="#5abd8b"/>
<path d="M82.0 295.9L80.4 294.5L82.2 292.1L83.9 293.6Z" fill="#0e91d2"/>
<path d="M118.6 287.6L116.9 286.5L118.8 284.5L120.4 285.6Z" fill="#48bb94"/>
<path d="M78.5 296.8L76.9 295.3L78.7 293.0L80.4 294.5Z" fill="#1389d3"/>
<path d="M115.1 288.5L113.5 287.4L115.3 285.4L116.9 286.5Z" fill="#38b99e"/>
<path d="M75.0 297.7L73.4 296.2L75.2 293.8L76.9 295.3Z" fill="#1483d5"/>
<path d="M111.6 289.5L110.0 288.4L111.8 286.3L113.5 287.4Z" fill="#29b6a7"/>
<path d="M71.6 298.6L69.9 297.0L71.7 294.6L73.4 296.2Z" fill="#137ed7"/>
<path d="M108.1 290.5L106.5 289.3L108.3 287.2L110.0 288.4Z" fill="#1cb3af"/>
<path d="M68.1 299.4L66.4 297.8L68.2 295.4L69.9 297.0Z" fill="#1079da"/>
<path d="M104.6 291.4L103.0 290.3L104.8 288.1L106.5 289.3Z" fill="#11afb7"/>
<path d="M141.2 283.4L139.6 282.4L141.4 280.8L143.1 281.7Z" fill="#a4be6b"/>
<path d="M64.6 300.2L62.9 298.6L64.7 296.1L66.4 297.8Z" fill="#0b74dd"/>
<path d="M101.2 292.4L99.5 291.2L101.3 289.0L103.0 290.3Z" fill="#09abbf"/>
<path d="M137.7 284.1L136.1 283.2L137.9 281.5L139.6 282.4Z" fill="#99bf70"/>
<path d="M61.1 301.1L59.4 299.3L61.2 296.9L62.9 298.6Z" fill="#066edf"/>
<path d="M97.7 293.4L96.0 292.2L97.8 290.0L99.5 291.2Z" fill="#06a7c6"/>
<path d="M134.2 284.9L132.6 284.0L134.4 282.2L136.1 283.2Z" fill="#8cbf75"/>
<path d="M57.6 301.8L55.9 300.1L57.7 297.6L59.4 299.3Z" fill="#0269e1"/>
<path d="M94.2 294.4L92.5 293.1L94.3 290.9L96.0 292.2Z" fill="#06a2cb"/>
<path d="M130.8 285.8L129.1 284.8L130.9 283.0L132.6 284.0Z" fill="#7dbf7b"/>
<path d="M90.7 295.4L89.0 294.1L90.8 291.8L92.5 293.1Z" fill="#079cd0"/>
<path d="M127.3 286.7L125.6 285.7L127.4 283.8L129.1 284.8Z" fill="#6dbf82"/>
<path d="M87.2 296.4L85.5 295.0L87.3 292.7L89.0 294.1Z" fill="#0b95d2"/>
<path d="M123.8 287.6L122.1 286.6L123.9 284.7L125.6 285.7Z" fill="#5bbd8a"/>
<path d="M83.7 297.3L82.0 295.9L83.9 293.6L85.5 295.0Z" fill="#118dd2"/>
<path d="M120.3 288.6L118.6 287.6L120.4 285.6L122.1 286.6Z" fill="#49bc94"/>
<path d="M80.2 298.3L78.5 296.8L80.4 294.5L82.0 295.9Z" fill="#1486d4"/>
<path d="M116.8 289.6L115.1 288.5L116.9 286.5L118.6 287.6Z" fill="#39b99d"/>
<path d="M76.7 299.2L75.0 297.7L76.9 295.3L78.5 296.8Z" fill="#1480d6"/>
<path d="M113.3 290.6L111.6 289.5L113.5 287.4L115.1 288.5Z" fill="#29b6a7"/>
<path d="M73.2 300.1L71.6 298.6L73.4 296.2L75.0 297.7Z" fill="#117ad9"/>
<path d="M109.8 291.6L108.1 290.5L110.0 288.4L111.6 289.5Z" fill="#1cb3b0"/>
<path d="M69.7 301.0L68.1 299.4L69.9 297.0L71.6 298.6Z" fill="#0d75dc"/>
<path d="M106.3 292.6L104.6 291.4L106.5 289.3L108.1 290.5Z" fill="#10afb8"/>
<path d="M66.2 301.9L64.6 300.2L66.4 297.8L68.1 299.4Z" fill="#076fdf"/>
<path d="M102.8 293.6L101.2 292.4L103.0 290.3L104.6 291.4Z" fill="#08abc0"/>
<path d="M139.4 285.0L137.7 284.1L139.6 282.4L141.2 283.4Z" fill="#9cbf6e"/>
<path d="M62.7 302.7L61.1 301.1L62.9 298.6L64.6 300.2Z" fill="#026ae1"/>
<path d="M99.3 294.7L97.7 293.4L99.5 291.2L101.2 292.4Z" fill="#06a6c7"/>
<path d="M135.9 285.9L134.2 284.9L136.1 283.2L137.7 284.1Z" fill="#8fbf74"/>
<path d="M59.2 303.6L57.6 301.8L59.4 299.3L61.1 301.1Z" fill="#0363e1"/>
<path d="M95.8 295.7L94.2 294.4L96.0 292.2L97.7 293.4Z" fill="#06a1cc"/>
<path d="M132.4 286.7L130.8 285.8L132.6 284.0L134.2 284.9Z" fill="#80bf7a"/>
<path d="M92.3 296.7L90.7 295.4L92.5 293.1L94.2 294.4Z" fill="#089bd0"/>
<path d="M128.9 287.7L127.3 286.7L129.1 284.8L130.8 285.8Z" fill="#70bf81"/>
<path d="M88.9 297.7L87.2 296.4L89.0 294.1L90.7 295.4Z" fill="#0d93d2"/>
<path d="M125.4 288.6L123.8 287.6L125.6 285.7L127.3 286.7Z" fill="#5ebe89"/>
<path d="M85.4 298.7L83.7 297.3L85.5 295.0L87.2 296.4Z" fill="#128bd3"/>
<path d="M121.9 289.6L120.3 288.6L122.1 286.6L123.8 287.6Z" fill="#4bbc93"/>
<path d="M81.9 299.7L80.2 298.3L82.0 295.9L83.7 297.3Z" fill="#1483d4"/>
<path d="M118.5 290.6L116.8 289.6L118.6 287.6L120.3 288.6Z" fill="#3ab99d"/>
<path d="M78.4 300.7L76.7 299.2L78.5 296.8L80.2 298.3Z" fill="#137dd8"/>
<path d="M115.0 291.6L113.3 290.6L115.1 288.5L116.8 289.6Z" fill="#2ab6a6"/>
<path d="M74.9 301.6L73.2 300.1L75.0 297.7L76.7 299.2Z" fill="#0f77db"/>
<path d="M111.5 292.7L109.8 291.6L111.6 289.5L113.3 290.6Z" fill="#1cb3b0"/>
<path d="M71.4 302.6L69.7 301.0L71.6 298.6L73.2 300.1Z" fill="#0971de"/>
<path d="M108.0 293.7L106.3 292.6L108.1 290.5L109.8 291.6Z" fill="#10afb8"/>
<path d="M67.9 303.5L66.2 301.9L68.1 299.4L69.7 301.0Z" fill="#036be0"/>
<path d="M104.5 294.8L102.8 293.6L104.6 291.4L106.3 292.6Z" fill="#08aac0"/>
<path d="M64.4 304.4L62.7 302.7L64.6 300.2L66.2 301.9Z" fill="#0364e1"/>
<path d="M101.0 295.8L99.3 294.7L101.2 292.4L102.8 293.6Z" fill="#06a6c7"/>
<path d="M137.6 286.8L135.9 285.9L137.7 284.1L139.4 285.0Z" fill="#93bf72"/>
<path d="M60.9 305.2L59.2 303.6L61.1 301.1L62.7 302.7Z" fill="#115bdc"/>
<path d="M97.5 296.9L95.8 295.7L97.7 293.4L99.3 294.7Z" fill="#06a0cd"/>
<path d="M134.1 287.6L132.4 286.7L134.2 284.9L135.9 285.9Z" fill="#84bf78"/>
<path d="M94.0 298.0L92.3 296.7L94.2 294.4L95.8 295.7Z" fill="#0899d1"/>
<path d="M130.6 288.6L128.9 287.7L130.8 285.8L132.4 286.7Z" fill="#73bf7f"/>
<path d="M90.5 299.0L88.9 297.7L90.7 295.4L92.3 296.7Z" fill="#0e91d2"/>
<path d="M127.1 289.6L125.4 288.6L127.3 286.7L128.9 287.7Z" fill="#61be88"/>
<path d="M87.0 300.0L85.4 298.7L87.2 296.4L88.9 297.7Z" fill="#1388d3"/>
<path d="M123.6 290.6L121.9 289.6L123.8 287.6L125.4 288.6Z" fill="#4ebc91"/>
<path d="M83.5 301.1L81.9 299.7L83.7 297.3L85.4 298.7Z" fill="#1481d5"/>
<path d="M120.1 291.6L118.5 290.6L120.3 288.6L121.9 289.6Z" fill="#3bba9c"/>
<path d="M80.0 302.1L78.4 300.7L80.2 298.3L81.9 299.7Z" fill="#117bd9"/>
<path d="M116.6 292.6L115.0 291.6L116.8 289.6L118.5 290.6Z" fill="#2bb6a6"/>
<path d="M76.5 303.1L74.9 301.6L76.7 299.2L78.4 300.7Z" fill="#0c75dd"/>
<path d="M113.1 293.7L111.5 292.7L113.3 290.6L115.0 291.6Z" fill="#1cb3af"/>
<path d="M73.1 304.1L71.4 302.6L73.2 300.1L74.9 301.6Z" fill="#066edf"/>
<path d="M109.6 294.8L108.0 293.7L109.8 291.6L111.5 292.7Z" fill="#10afb8"/>
<path d="M69.6 305.0L67.9 303.5L69.7 301.0L71.4 302.6Z" fill="#0267e1"/>
<path d="M106.2 295.9L104.5 294.8L106.3 292.6L108.0 293.7Z" fill="#08aac0"/>
<path d="M66.1 306.0L64.4 304.4L66.2 301.9L67.9 303.5Z" fill="#0c5ede"/>
<path d="M102.7 297.0L101.0 295.8L102.8 293.6L104.5 294.8Z" fill="#06a5c8"/>
<path d="M62.6 306.9L60.9 305.2L62.7 302.7L64.4 304.4Z" fill="#2251d1"/>
<path d="M99.2 298.1L97.5 296.9L99.3 294.7L101.0 295.8Z" fill="#069fce"/>
<path d="M135.8 288.5L134.1 287.6L135.9 285.9L137.6 286.8Z" fill="#88bf76"/>
<path d="M95.7 299.2L94.0 298.0L95.8 295.7L97.5 296.9Z" fill="#0998d1"/>
<path d="M132.3 289.5L130.6 288.6L132.4 286.7L134.1 287.6Z" fill="#77bf7d"/>
<path d="M92.2 300.3L90.5 299.0L92.3 296.7L94.0 298.0Z" fill="#108fd2"/>
<path d="M128.8 290.5L127.1 289.6L128.9 287.7L130.6 288.6Z" fill="#65be86"/>
<path d="M88.7 301.4L87.0 300.0L88.9 297.7L90.5 299.0Z" fill="#1486d3"/>
<path d="M125.3 291.5L123.6 290.6L125.4 288.6L127.1 289.6Z" fill="#51bc90"/>
<path d="M85.2 302.4L83.5 301.1L85.4 298.7L87.0 300.0Z" fill="#137fd6"/>
<path d="M121.8 292.5L120.1 291.6L121.9 289.6L123.6 290.6Z" fill="#3eba9a"/>
<path d="M81.7 303.5L80.0 302.1L81.9 299.7L83.5 301.1Z" fill="#1079da"/>
<path d="M118.3 293.6L116.6 292.6L118.5 290.6L120.1 291.6Z" fill="#2db7a5"/>
<path d="M78.2 304.5L76.5 303.1L78.4 300.7L80.0 302.1Z" fill="#0a72de"/>
<path d="M114.8 294.7L113.1 293.7L115.0 291.6L116.6 292.6Z" fill="#1db3af"/>
<path d="M74.7 305.6L73.1 304.1L74.9 301.6L76.5 303.1Z" fill="#036be0"/>
<path d="M111.3 295.8L109.6 294.8L111.5 292.7L113.1 293.7Z" fill="#11afb8"/>
<path d="M71.2 306.6L69.6 305.0L71.4 302.6L73.1 304.1Z" fill="#0363e1"/>
<path d="M107.8 297.0L106.2 295.9L108.0 293.7L109.6 294.8Z" fill="#08aac0"/>
<path d="M67.7 307.5L66.1 306.0L67.9 303.5L69.6 305.0Z" fill="#1a56d7"/>
<path d="M104.3 298.1L102.7 297.0L104.5 294.8L106.2 295.9Z" fill="#06a5c8"/>
<path d="M64.2 308.5L62.6 306.9L64.4 304.4L66.1 306.0Z" fill="#2d49c4"/>
<path d="M100.8 299.2L99.2 298.1L101.0 295.8L102.7 297.0Z" fill="#069fce"/>
<path d="M97.3 300.4L95.7 299.2L97.5 296.9L99.2 298.1Z" fill="#0a97d1"/>
<path d="M133.9 290.3L132.3 289.5L134.1 287.6L135.8 288.5Z" fill="#7cbf7b"/>
<path d="M93.8 301.5L92.2 300.3L94.0 298.0L95.7 299.2Z" fill="#118ed2"/>
<path d="M130.4 291.3L128.8 290.5L130.6 288.6L132.3 289.5Z" fill="#69be84"/>
<path d="M90.4 302.6L88.7 301.4L90.5 299.0L92.2 300.3Z" fill="#1485d4"/>
<path d="M126.9 292.4L125.3 291.5L127.1 289.6L128.8 290.5Z" fill="#55bd8e"/>
<path d="M86.9 303.7L85.2 302.4L87.0 300.0L88.7 301.4Z" fill="#137ed7"/>
<path d="M123.5 293.5L121.8 292.5L123.6 290.6L125.3 291.5Z" fill="#41ba98"/>
<path d="M83.4 304.8L81.7 303.5L83.5 301.1L85.2 302.4Z" fill="#0e77db"/>
<path d="M120.0 294.6L118.3 293.6L120.1 291.6L121.8 292.5Z" fill="#2fb7a3"/>
<path d="M79.9 305.9L78.2 304.5L80.0 302.1L81.7 303.5Z" fill="#0770df"/>
<path d="M116.5 295.7L114.8 294.7L116.6 292.6L118.3 293.6Z" fill="#1fb3ae"/>
<path d="M76.4 307.0L74.7 305.6L76.5 303.1L78.2 304.5Z" fill="#0268e1"/>
<path d="M113.0 296.8L111.3 295.8L113.1 293.7L114.8 294.7Z" fill="#11afb7"/>
<path d="M72.9 308.0L71.2 306.6L73.1 304.1L74.7 305.6Z" fill="#0c5dde"/>
<path d="M109.5 298.0L107.8 297.0L109.6 294.8L111.3 295.8Z" fill="#08abc0"/>
<path d="M69.4 309.1L67.7 307.5L69.6 305.0L71.2 306.6Z" fill="#254fce"/>
<path d="M106.0 299.2L104.3 298.1L106.2 295.9L107.8 297.0Z" fill="#06a5c8"/>
<path d="M65.9 310.1L64.2 308.5L66.1 306.0L67.7 307.5Z" fill="#3243b9"/>
<path d="M102.5 300.3L100.8 299.2L102.7 297.0L104.3 298.1Z" fill="#069fce"/>
<path d="M99.0 301.5L97.3 300.4L99.2 298.1L100.8 299.2Z" fill="#0a97d1"/>
<path d="M95.5 302.7L93.8 301.5L95.7 299.2L97.3 300.4Z" fill="#118dd2"/>
<path d="M132.1 292.2L130.4 291.3L132.3 289.5L133.9 290.3Z" fill="#6fbf81"/>
<path d="M92.0 303.8L90.4 302.6L92.2 300.3L93.8 301.5Z" fill="#1484d4"/>
<path d="M128.6 293.3L126.9 292.4L128.8 290.5L130.4 291.3Z" fill="#5abd8b"/>
<path d="M88.5 305.0L86.9 303.7L88.7 301.4L90.4 302.6Z" fill="#127cd8"/>
<path d="M125.1 294.4L123.5 293.5L125.3 291.5L126.9 292.4Z" fill="#45bb96"/>
<path d="M85.0 306.1L83.4 304.8L85.2 302.4L86.9 303.7Z" fill="#0d75dc"/>
<path d="M121.6 295.5L120.0 294.6L121.8 292.5L123.5 293.5Z" fill="#32b8a1"/>
<path d="M81.5 307.3L79.9 305.9L81.7 303.5L83.4 304.8Z" fill="#056ee0"/>
<path d="M118.1 296.6L116.5 295.7L118.3 293.6L120.0 294.6Z" fill="#21b4ac"/>
<path d="M78.1 308.4L76.4 307.0L78.2 304.5L79.9 305.9Z" fill="#0265e1"/>
<path d="M114.6 297.8L113.0 296.8L114.8 294.7L116.5 295.7Z" fill="#13b0b6"/>
<path d="M74.6 309.5L72.9 308.0L74.7 305.6L76.4 307.0Z" fill="#1658d9"/>
<path d="M111.1 299.0L109.5 298.0L111.3 295.8L113.0 296.8Z" fill="#09abbf"/>
<path d="M71.1 310.6L69.4 309.1L71.2 306.6L72.9 308.0Z" fill="#2d49c4"/>
<path d="M107.7 300.2L106.0 299.2L107.8 297.0L109.5 298.0Z" fill="#06a6c7"/>
<path d="M67.6 311.6L65.9 310.1L67.7 307.5L69.4 309.1Z" fill="#353dae"/>
<path d="M104.2 301.4L102.5 300.3L104.3 298.1L106.0 299.2Z" fill="#069fce"/>
<path d="M100.7 302.6L99.0 301.5L100.8 299.2L102.5 300.3Z" fill="#0a96d1"/>
<path d="M97.2 303.8L95.5 302.7L97.3 300.4L99.0 301.5Z" fill="#118cd2"/>
<path d="M93.7 305.0L92.0 303.8L93.8 301.5L95.5 302.7Z" fill="#1483d5"/>
<path d="M130.3 294.1L128.6 293.3L130.4 291.3L132.1 292.2Z" fill="#5fbe88"/>
<path d="M90.2 306.2L88.5 305.0L90.4 302.6L92.0 303.8Z" fill="#127bd9"/>
<path d="M126.8 295.2L125.1 294.4L126.9 292.4L128.6 293.3Z" fill="#4abc93"/>
<path d="M86.7 307.4L85.0 306.1L86.9 303.7L88.5 305.0Z" fill="#0b74dd"/>
<path d="M123.3 296.4L121.6 295.5L123.5 293.5L125.1 294.4Z" fill="#36b99f"/>
<path d="M83.2 308.6L81.5 307.3L83.4 304.8L85.0 306.1Z" fill="#046ce0"/>
<path d="M119.8 297.6L118.1 296.6L120.0 294.6L121.6 295.5Z" fill="#24b5aa"/>
<path d="M79.7 309.7L78.1 308.4L79.9 305.9L81.5 307.3Z" fill="#0562e0"/>
<path d="M116.3 298.8L114.6 297.8L116.5 295.7L118.1 296.6Z" fill="#15b0b5"/>
<path d="M76.2 310.9L74.6 309.5L76.4 307.0L78.1 308.4Z" fill="#2052d3"/>
<path d="M112.8 300.0L111.1 299.0L113.0 296.8L114.6 297.8Z" fill="#09acbe"/>
<path d="M72.7 312.0L71.1 310.6L72.9 308.0L74.6 309.5Z" fill="#3144bb"/>
<path d="M109.3 301.2L107.7 300.2L109.5 298.0L111.1 299.0Z" fill="#06a6c7"/>
<path d="M69.2 313.1L67.6 311.6L69.4 309.1L71.1 310.6Z" fill="#3639a4"/>
<path d="M105.8 302.5L104.2 301.4L106.0 299.2L107.7 300.2Z" fill="#069fce"/>
<path d="M102.3 303.7L100.7 302.6L102.5 300.3L104.2 301.4Z" fill="#0a96d1"/>
<path d="M98.8 304.9L97.2 303.8L99.0 301.5L100.7 302.6Z" fill="#128cd2"/>
<path d="M95.4 306.2L93.7 305.0L95.5 302.7L97.2 303.8Z" fill="#1483d5"/>
<path d="M91.9 307.4L90.2 306.2L92.0 303.8L93.7 305.0Z" fill="#117bd9"/>
<path d="M128.4 296.0L126.8 295.2L128.6 293.3L130.3 294.1Z" fill="#4fbc90"/>
<path d="M88.4 308.7L86.7 307.4L88.5 305.0L90.2 306.2Z" fill="#0a73de"/>
<path d="M125.0 297.2L123.3 296.4L125.1 294.4L126.8 295.2Z" fill="#3ab99c"/>
<path d="M84.9 309.9L83.2 308.6L85.0 306.1L86.7 307.4Z" fill="#036ae1"/>
<path d="M121.5 298.4L119.8 297.6L121.6 295.5L123.3 296.4Z" fill="#27b6a8"/>
<path d="M81.4 311.1L79.7 309.7L81.5 307.3L83.2 308.6Z" fill="#0a5fdf"/>
<path d="M118.0 299.7L116.3 298.8L118.1 296.6L119.8 297.6Z" fill="#17b1b3"/>
<path d="M77.9 312.3L76.2 310.9L78.1 308.4L79.7 309.7Z" fill="#264ecc"/>
<path d="M114.5 300.9L112.8 300.0L114.6 297.8L116.3 298.8Z" fill="#0aacbd"/>
<path d="M74.4 313.4L72.7 312.0L74.6 309.5L76.2 310.9Z" fill="#3340b3"/>
<path d="M111.0 302.2L109.3 301.2L111.1 299.0L112.8 300.0Z" fill="#06a7c6"/>
<path d="M70.9 314.6L69.2 313.1L71.1 310.6L72.7 312.0Z" fill="#36349b"/>
<path d="M107.5 303.5L105.8 302.5L107.7 300.2L109.3 301.2Z" fill="#06a0cd"/>
<path d="M104.0 304.7L102.3 303.7L104.2 301.4L105.8 302.5Z" fill="#0a97d1"/>
<path d="M100.5 306.0L98.8 304.9L100.7 302.6L102.3 303.7Z" fill="#118cd2"/>
<path d="M97.0 307.3L95.4 306.2L97.2 303.8L98.8 304.9Z" fill="#1482d5"/>
<path d="M93.5 308.6L91.9 307.4L93.7 305.0L95.4 306.2Z" fill="#117ad9"/>
<path d="M90.0 309.8L88.4 308.7L90.2 306.2L91.9 307.4Z" fill="#0972de"/>
<path d="M126.6 298.0L125.0 297.2L126.8 295.2L128.4 296.0Z" fill="#40ba99"/>
<path d="M86.5 311.1L84.9 309.9L86.7 307.4L88.4 308.7Z" fill="#0269e1"/>
<path d="M123.1 299.3L121.5 298.4L123.3 296.4L125.0 297.2Z" fill="#2bb6a5"/>
<path d="M83.1 312.3L81.4 311.1L83.2 308.6L84.9 309.9Z" fill="#0f5cde"/>
<path d="M119.6 300.5L118.0 299.7L119.8 297.6L121.5 298.4Z" fill="#1ab2b1"/>
<path d="M79.6 313.6L77.9 312.3L79.7 309.7L81.4 311.1Z" fill="#2c4ac7"/>
<path d="M116.1 301.8L114.5 300.9L116.3 298.8L118.0 299.7Z" fill="#0cadbb"/>
<path d="M76.1 314.8L74.4 313.4L76.2 310.9L77.9 312.3Z" fill="#353dac"/>
<path d="M112.7 303.1L111.0 302.2L112.8 300.0L114.5 300.9Z" fill="#06a7c5"/>
<path d="M72.6 316.0L70.9 314.6L72.7 312.0L74.4 313.4Z" fill="#363093"/>
<path d="M109.2 304.4L107.5 303.5L109.3 301.2L111.0 302.2Z" fill="#06a1cd"/>
<path d="M105.7 305.7L104.0 304.7L105.8 302.5L107.5 303.5Z" fill="#0998d1"/>
<path d="M102.2 307.1L100.5 306.0L102.3 303.7L104.0 304.7Z" fill="#118dd2"/>
<path d="M98.7 308.4L97.0 307.3L98.8 304.9L100.5 306.0Z" fill="#1482d5"/>
<path d="M95.2 309.7L93.5 308.6L95.4 306.2L97.0 307.3Z" fill="#117ada"/>
<path d="M91.7 311.0L90.0 309.8L91.9 307.4L93.5 308.6Z" fill="#0971de"/>
<path d="M88.2 312.3L86.5 311.1L88.4 308.7L90.0 309.8Z" fill="#0268e1"/>
<path d="M124.8 300.1L123.1 299.3L125.0 297.2L126.6 298.0Z" fill="#30b7a2"/>
<path d="M84.7 313.6L83.1 312.3L84.9 309.9L86.5 311.1Z" fill="#1359db"/>
<path d="M121.3 301.4L119.6 300.5L121.5 298.4L123.1 299.3Z" fill="#1eb3ae"/>
<path d="M81.2 314.9L79.6 313.6L81.4 311.1L83.1 312.3Z" fill="#2e48c2"/>
<path d="M117.8 302.7L116.1 301.8L118.0 299.7L119.6 300.5Z" fill="#0faeb9"/>
<path d="M77.7 316.1L76.1 314.8L77.9 312.3L79.6 313.6Z" fill="#363aa7"/>
<path d="M114.3 304.0L112.7 303.1L114.5 300.9L116.1 301.8Z" fill="#06a8c3"/>
<path d="M74.2 317.4L72.6 316.0L74.4 313.4L76.1 314.8Z" fill="#352d8d"/>
<path d="M110.8 305.3L109.2 304.4L111.0 302.2L112.7 303.1Z" fill="#06a2cc"/>
<path d="M107.3 306.7L105.7 305.7L107.5 303.5L109.2 304.4Z" fill="#0899d1"/>
<path d="M103.8 308.1L102.2 307.1L104.0 304.7L105.7 305.7Z" fill="#118dd2"/>
<path d="M100.4 309.4L98.7 308.4L100.5 306.0L102.2 307.1Z" fill="#1483d5"/>
<path d="M96.9 310.8L95.2 309.7L97.0 307.3L98.7 308.4Z" fill="#117ad9"/>
<path d="M93.4 312.1L91.7 311.0L93.5 308.6L95.2 309.7Z" fill="#0871de"/>
<path d="M89.9 313.5L88.2 312.3L90.0 309.8L91.7 311.0Z" fill="#0267e1"/>
<path d="M86.4 314.8L84.7 313.6L86.5 311.1L88.2 312.3Z" fill="#1757d9"/>
<path d="M123.0 302.1L121.3 301.4L123.1 299.3L124.8 300.1Z" fill="#22b4ab"/>
<path d="M82.9 316.1L81.2 314.9L83.1 312.3L84.7 313.6Z" fill="#3046be"/>
<path d="M119.5 303.5L117.8 302.7L119.6 300.5L121.3 301.4Z" fill="#12afb7"/>
<path d="M79.4 317.4L77.7 316.1L79.6 313.6L81.2 314.9Z" fill="#3637a2"/>
<path d="M116.0 304.9L114.3 304.0L116.1 301.8L117.8 302.7Z" fill="#07aac2"/>
<path d="M75.9 318.7L74.2 317.4L76.1 314.8L77.7 316.1Z" fill="#352a87"/>
<path d="M112.5 306.2L110.8 305.3L112.7 303.1L114.3 304.0Z" fill="#06a3ca"/>
<path d="M109.0 307.6L107.3 306.7L109.2 304.4L110.8 305.3Z" fill="#089ad0"/>
<path d="M105.5 309.0L103.8 308.1L105.7 305.7L107.3 306.7Z" fill="#108fd2"/>
<path d="M102.0 310.4L100.4 309.4L102.2 307.1L103.8 308.1Z" fill="#1484d4"/>
<path d="M98.5 311.8L96.9 310.8L98.7 308.4L100.4 309.4Z" fill="#117ad9"/>
<path d="M95.0 313.2L93.4 312.1L95.2 309.7L96.9 310.8Z" fill="#0971de"/>
<path d="M91.5 314.6L89.9 313.5L91.7 311.0L93.4 312.1Z" fill="#0267e1"/>
<path d="M88.1 316.0L86.4 314.8L88.2 312.3L89.9 313.5Z" fill="#1a56d7"/>
<path d="M84.6 317.3L82.9 316.1L84.7 313.6L86.4 314.8Z" fill="#3144bb"/>
<path d="M121.1 304.3L119.5 303.5L121.3 301.4L123.0 302.1Z" fill="#15b1b4"/>
<path d="M81.1 318.7L79.4 317.4L81.2 314.9L82.9 316.1Z" fill="#36359e"/>
<path d="M117.7 305.7L116.0 304.9L117.8 302.7L119.5 303.5Z" fill="#09abbf"/>
<path d="M77.6 320.0L75.9 318.7L77.7 316.1L79.4 317.4Z" fill="#352a87"/>
<path d="M114.2 307.1L112.5 306.2L114.3 304.0L116.0 304.9Z" fill="#06a4c9"/>
<path d="M110.7 308.5L109.0 307.6L110.8 305.3L112.5 306.2Z" fill="#079cd0"/>
<path d="M107.2 309.9L105.5 309.0L107.3 306.7L109.0 307.6Z" fill="#0f90d2"/>
<path d="M103.7 311.4L102.0 310.4L103.8 308.1L105.5 309.0Z" fill="#1484d4"/>
<path d="M100.2 312.8L98.5 311.8L100.4 309.4L102.0 310.4Z" fill="#117bd9"/>
<path d="M96.7 314.2L95.0 313.2L96.9 310.8L98.5 311.8Z" fill="#0971de"/>
<path d="M93.2 315.7L91.5 314.6L93.4 312.1L95.0 313.2Z" fill="#0267e1"/>
<path d="M89.7 317.1L88.1 316.0L89.9 313.5L91.5 314.6Z" fill="#1b55d7"/>
<path d="M86.2 318.5L84.6 317.3L86.4 314.8L88.1 316.0Z" fill="#3243b9"/>
<path d="M82.7 319.9L81.1 318.7L82.9 316.1L84.6 317.3Z" fill="#36349b"/>
<path d="M119.3 306.5L117.7 305.7L119.5 303.5L121.1 304.3Z" fill="#0bacbd"/>
<path d="M79.2 321.3L77.6 320.0L79.4 317.4L81.1 318.7Z" fill="#352a87"/>
<path d="M115.8 307.9L114.2 307.1L116.0 304.9L117.7 305.7Z" fill="#06a6c7"/>
<path d="M112.3 309.4L110.7 308.5L112.5 306.2L114.2 307.1Z" fill="#079ecf"/>
<path d="M108.8 310.8L107.2 309.9L109.0 307.6L110.7 308.5Z" fill="#0d92d2"/>
<path d="M105.4 312.3L103.7 311.4L105.5 309.0L107.2 309.9Z" fill="#1486d4"/>
<path d="M101.9 313.8L100.2 312.8L102.0 310.4L103.7 311.4Z" fill="#127cd8"/>
<path d="M98.4 315.2L96.7 314.2L98.5 311.8L100.2 312.8Z" fill="#0a72de"/>
<path d="M94.9 316.7L93.2 315.7L95.0 313.2L96.7 314.2Z" fill="#0267e1"/>
<path d="M91.4 318.2L89.7 317.1L91.5 314.6L93.2 315.7Z" fill="#1b55d7"/>
<path d="M87.9 319.6L86.2 318.5L88.1 316.0L89.7 317.1Z" fill="#3242b8"/>
<path d="M84.4 321.1L82.7 319.9L84.6 317.3L86.2 318.5Z" fill="#363398"/>
<path d="M80.9 322.5L79.2 321.3L81.1 318.7L82.7 319.9Z" fill="#352a87"/>
<path d="M117.5 308.7L115.8 307.9L117.7 305.7L119.3 306.5Z" fill="#06a8c5"/>
<path d="M114.0 310.2L112.3 309.4L114.2 307.1L115.8 307.9Z" fill="#069fce"/>
<path d="M110.5 311.7L108.8 310.8L110.7 308.5L112.3 309.4Z" fill="#0c94d2"/>
<path d="M107.0 313.2L105.4 312.3L107.2 309.9L108.8 310.8Z" fill="#1388d3"/>
<path d="M103.5 314.7L101.9 313.8L103.7 311.4L105.4 312.3Z" fill="#137dd8"/>
<path d="M100.0 316.2L98.4 315.2L100.2 312.8L101.9 313.8Z" fill="#0b73dd"/>
<path d="M96.5 317.7L94.9 316.7L96.7 314.2L98.4 315.2Z" fill="#0268e1"/>
<path d="M93.0 319.2L91.4 318.2L93.2 315.7L94.9 316.7Z" fill="#1a56d7"/>
<path d="M89.6 320.7L87.9 319.6L89.7 317.1L91.4 318.2Z" fill="#3242b7"/>
<path d="M86.1 322.2L84.4 321.1L86.2 318.5L87.9 319.6Z" fill="#363297"/>
<path d="M82.6 323.7L80.9 322.5L82.7 319.9L84.4 321.1Z" fill="#352a87"/>
<path d="M115.7 310.9L114.0 310.2L115.8 307.9L117.5 308.7Z" fill="#06a2cc"/>
<path d="M112.2 312.5L110.5 311.7L112.3 309.4L114.0 310.2Z" fill="#0a97d1"/>
<path d="M108.7 314.0L107.0 313.2L108.8 310.8L110.5 311.7Z" fill="#138ad3"/>
<path d="M105.2 315.6L103.5 314.7L105.4 312.3L107.0 313.2Z" fill="#137ed7"/>
<path d="M101.7 317.1L100.0 316.2L101.9 313.8L103.5 314.7Z" fill="#0c74dd"/>
<path d="M98.2 318.7L96.5 317.7L98.4 315.2L100.0 316.2Z" fill="#0269e1"/>
<path d="M94.7 320.2L93.0 319.2L94.9 316.7L96.5 317.7Z" fill="#1757d9"/>
<path d="M91.2 321.8L89.6 320.7L91.4 318.2L93.0 319.2Z" fill="#3243b8"/>
<path d="M87.7 323.3L86.1 322.2L87.9 319.6L89.6 320.7Z" fill="#363297"/>
<path d="M84.2 324.8L82.6 323.7L84.4 321.1L86.1 322.2Z" fill="#352a87"/>
<path d="M113.8 313.3L112.2 312.5L114.0 310.2L115.7 310.9Z" fill="#089ad1"/>
<path d="M110.3 314.8L108.7 314.0L110.5 311.7L112.2 312.5Z" fill="#118cd2"/>
<path d="M106.9 316.4L105.2 315.6L107.0 313.2L108.7 314.0Z" fill="#1480d6"/>
<path d="M103.4 318.0L101.7 317.1L103.5 314.7L105.2 315.6Z" fill="#0d76dc"/>
<path d="M99.9 319.6L98.2 318.7L100.0 316.2L101.7 317.1Z" fill="#036ae1"/>
<path d="M96.4 321.2L94.7 320.2L96.5 317.7L98.2 318.7Z" fill="#1459db"/>
<path d="M92.9 322.8L91.2 321.8L93.0 319.2L94.7 320.2Z" fill="#3244ba"/>
<path d="M89.4 324.4L87.7 323.3L89.6 320.7L91.2 321.8Z" fill="#363298"/>
<path d="M85.9 325.9L84.2 324.8L86.1 322.2L87.7 323.3Z" fill="#352a87"/>
<path d="M112.0 315.6L110.3 314.8L112.2 312.5L113.8 313.3Z" fill="#0f8fd2"/>
<path d="M108.5 317.2L106.9 316.4L108.7 314.0L110.3 314.8Z" fill="#1482d5"/>
<path d="M105.0 318.9L103.4 318.0L105.2 315.6L106.9 316.4Z" fill="#0f77db"/>
<path d="M101.5 320.5L99.9 319.6L101.7 317.1L103.4 318.0Z" fill="#046ce0"/>
<path d="M98.0 322.2L96.4 321.2L98.2 318.7L99.9 319.6Z" fill="#0f5cdd"/>
<path d="M94.6 323.8L92.9 322.8L94.7 320.2L96.4 321.2Z" fill="#3045bd"/>
<path d="M91.1 325.4L89.4 324.4L91.2 321.8L92.9 322.8Z" fill="#363399"/>
<path d="M87.6 327.0L85.9 325.9L87.7 323.3L89.4 324.4Z" fill="#352a87"/>
<path d="M110.2 318.0L108.5 317.2L110.3 314.8L112.0 315.6Z" fill="#1485d4"/>
<path d="M106.7 319.7L105.0 318.9L106.9 316.4L108.5 317.2Z" fill="#1079da"/>
<path d="M103.2 321.4L101.5 320.5L103.4 318.0L105.0 318.9Z" fill="#056ee0"/>
<path d="M99.7 323.0L98.0 322.2L99.9 319.6L101.5 320.5Z" fill="#0a5edf"/>
<path d="M96.2 324.7L94.6 323.8L96.4 321.2L98.0 322.2Z" fill="#2f47c0"/>
<path d="M92.7 326.4L91.1 325.4L92.9 322.8L94.6 323.8Z" fill="#36349c"/>
<path d="M89.2 328.0L87.6 327.0L89.4 324.4L91.1 325.4Z" fill="#352a87"/>
<path d="M108.4 320.5L106.7 319.7L108.5 317.2L110.2 318.0Z" fill="#127cd9"/>
<path d="M104.9 322.2L103.2 321.4L105.0 318.9L106.7 319.7Z" fill="#0770df"/>
<path d="M101.4 323.9L99.7 323.0L101.5 320.5L103.2 321.4Z" fill="#0562e0"/>
<path d="M97.9 325.6L96.2 324.7L98.0 322.2L99.7 323.0Z" fill="#2c49c5"/>
<path d="M94.4 327.3L92.7 326.4L94.6 323.8L96.2 324.7Z" fill="#36369f"/>
<path d="M90.9 329.0L89.2 328.0L91.1 325.4L92.7 326.4Z" fill="#352a87"/>
<path d="M106.5 323.0L104.9 322.2L106.7 319.7L108.4 320.5Z" fill="#0a72de"/>
<path d="M103.0 324.7L101.4 323.9L103.2 321.4L104.9 322.2Z" fill="#0365e1"/>
<path d="M99.6 326.5L97.9 325.6L99.7 323.0L101.4 323.9Z" fill="#284dca"/>
<path d="M96.1 328.2L94.4 327.3L96.2 324.7L97.9 325.6Z" fill="#3638a3"/>
<path d="M92.6 330.0L90.9 329.0L92.7 326.4L94.4 327.3Z" fill="#352a87"/>
<path d="M104.7 325.5L103.0 324.7L104.9 322.2L106.5 323.0Z" fill="#0268e1"/>
<path d="M101.2 327.3L99.6 326.5L101.4 323.9L103.0 324.7Z" fill="#2251d1"/>
<path d="M97.7 329.1L96.1 328.2L97.9 325.6L99.6 326.5Z" fill="#353ba9"/>
<path d="M94.2 330.9L92.6 330.0L94.4 327.3L96.1 328.2Z" fill="#352a87"/>
<path d="M102.9 328.1L101.2 327.3L103.0 324.7L104.7 325.5Z" fill="#1a56d7"/>
<path d="M99.4 329.9L97.7 329.1L99.6 326.5L101.2 327.3Z" fill="#353eaf"/>
<path d="M95.9 331.8L94.2 330.9L96.1 328.2L97.7 329.1Z" fill="#352a87"/>
<path d="M101.1 330.7L99.4 329.9L101.2 327.3L102.9 328.1Z" fill="#3342b6"/>
<path d="M97.6 332.6L95.9 331.8L97.7 329.1L99.4 329.9Z" fill="#352d8d"/>
<path d="M99.2 333.4L97.6 332.6L99.4 329.9L101.1 330.7Z" fill="#363194"/>
</g></g>
<text x="33.10" y="252.10" font-size="9.18" textLength="8.20" lengthAdjust="spacingAndGlyphs" stroke="#2e2e2e" stroke-width="0.16">60</text>
<text x="33.10" y="290.40" font-size="9.18" textLength="8.20" lengthAdjust="spacingAndGlyphs" stroke="#2e2e2e" stroke-width="0.16">40</text>
<text x="33.45" y="320.20" font-size="9.18" textLength="12.30" lengthAdjust="spacingAndGlyphs" stroke="#2e2e2e" stroke-width="0.16">150</text>
<text x="47.75" y="329.80" font-size="9.18" textLength="12.30" lengthAdjust="spacingAndGlyphs" stroke="#2e2e2e" stroke-width="0.16">100</text>
<text x="65.40" y="337.70" font-size="9.18" textLength="8.20" lengthAdjust="spacingAndGlyphs" stroke="#2e2e2e" stroke-width="0.16">50</text>
<text x="82.95" y="346.10" font-size="9.18" textLength="4.10" lengthAdjust="spacingAndGlyphs" stroke="#2e2e2e" stroke-width="0.16">0</text>
<text x="90.91" y="358.10" font-size="9.18" textLength="14.58" lengthAdjust="spacingAndGlyphs" stroke="#2e2e2e" stroke-width="0.16">−50</text>
<text x="103.36" y="358.70" font-size="9.18" textLength="18.68" lengthAdjust="spacingAndGlyphs" stroke="#2e2e2e" stroke-width="0.16">−150</text>
<text x="123.26" y="346.50" font-size="9.18" textLength="18.68" lengthAdjust="spacingAndGlyphs" stroke="#2e2e2e" stroke-width="0.16">−100</text>
<text x="143.71" y="332.90" font-size="9.18" textLength="14.58" lengthAdjust="spacingAndGlyphs" stroke="#2e2e2e" stroke-width="0.16">−50</text>
<text x="165.75" y="317.40" font-size="9.18" textLength="4.10" lengthAdjust="spacingAndGlyphs" stroke="#2e2e2e" stroke-width="0.16">0</text>
<defs><linearGradient id="gb" x1="0" y1="1" x2="0" y2="0"><stop offset="0.000" stop-color="#352a87"/><stop offset="0.048" stop-color="#353dad"/><stop offset="0.095" stop-color="#2053d4"/><stop offset="0.143" stop-color="#0268e1"/><stop offset="0.190" stop-color="#0d75dc"/><stop offset="0.238" stop-color="#1481d6"/><stop offset="0.286" stop-color="#108ed2"/><stop offset="0.333" stop-color="#079ccf"/><stop offset="0.381" stop-color="#06a7c6"/><stop offset="0.429" stop-color="#0faeb9"/><stop offset="0.476" stop-color="#25b5a9"/><stop offset="0.524" stop-color="#42bb98"/><stop offset="0.571" stop-color="#65be86"/><stop offset="0.619" stop-color="#87bf77"/><stop offset="0.667" stop-color="#a5be6b"/><stop offset="0.714" stop-color="#c0bc60"/><stop offset="0.762" stop-color="#d9ba56"/><stop offset="0.810" stop-color="#f1b94a"/><stop offset="0.857" stop-color="#ffc337"/><stop offset="0.905" stop-color="#fad32a"/><stop offset="0.952" stop-color="#f5e41d"/><stop offset="1.000" stop-color="#f9fb0e"/><stop offset="1" stop-color="#f9fb0e"/></linearGradient></defs>
<rect x="181.6" y="211.3" width="8.40" height="134.50" fill="url(#gb)" stroke="#999" stroke-width="0.5"/>
<line x1="188.7" y1="342.42" x2="190" y2="342.42" stroke="#999" stroke-width="0.4"/>
<text x="192.00" y="345.25" font-size="8.40" textLength="7.50" lengthAdjust="spacingAndGlyphs" stroke="#2e2e2e" stroke-width="0.13">34</text>
<line x1="188.7" y1="327.18" x2="190" y2="327.18" stroke="#999" stroke-width="0.4"/>
<text x="192.00" y="330.01" font-size="8.40" textLength="7.50" lengthAdjust="spacingAndGlyphs" stroke="#2e2e2e" stroke-width="0.13">36</text>
<line x1="188.7" y1="311.94" x2="190" y2="311.94" stroke="#999" stroke-width="0.4"/>
<text x="192.00" y="314.77" font-size="8.40" textLength="7.50" lengthAdjust="spacingAndGlyphs" stroke="#2e2e2e" stroke-width="0.13">38</text>
<line x1="188.7" y1="296.70" x2="190" y2="296.70" stroke="#999" stroke-width="0.4"/>
<text x="192.00" y="299.53" font-size="8.40" textLength="7.50" lengthAdjust="spacingAndGlyphs" stroke="#2e2e2e" stroke-width="0.13">40</text>
<line x1="188.7" y1="281.46" x2="190" y2="281.46" stroke="#999" stroke-width="0.4"/>
<text x="192.00" y="284.29" font-size="8.40" textLength="7.50" lengthAdjust="spacingAndGlyphs" stroke="#2e2e2e" stroke-width="0.13">42</text>
<line x1="188.7" y1="266.22" x2="190" y2="266.22" stroke="#999" stroke-width="0.4"/>
<text x="192.00" y="269.06" font-size="8.40" textLength="7.50" lengthAdjust="spacingAndGlyphs" stroke="#2e2e2e" stroke-width="0.13">44</text>
<line x1="188.7" y1="250.98" x2="190" y2="250.98" stroke="#999" stroke-width="0.4"/>
<text x="192.00" y="253.81" font-size="8.40" textLength="7.50" lengthAdjust="spacingAndGlyphs" stroke="#2e2e2e" stroke-width="0.13">46</text>
<line x1="188.7" y1="235.74" x2="190" y2="235.74" stroke="#999" stroke-width="0.4"/>
<text x="192.00" y="238.58" font-size="8.40" textLength="7.50" lengthAdjust="spacingAndGlyphs" stroke="#2e2e2e" stroke-width="0.13">48</text>
<line x1="188.7" y1="220.50" x2="190" y2="220.50" stroke="#999" stroke-width="0.4"/>
<text x="192.00" y="223.34" font-size="8.40" textLength="7.50" lengthAdjust="spacingAndGlyphs" stroke="#2e2e2e" stroke-width="0.13">50</text>
<path d="M41.19 359.74 C40.20 361.52 40.48 364.63 43.40 364.63 C46.31 364.63 47.30 362.26 46.73 360.63 C46.16 359.15 44.18 359.30 43.75 361.08 L42.33 366.70" fill="none" stroke="#2e2e2e" stroke-width="0.9" stroke-linecap="round"/>
<text x="47.50" y="365.22" font-size="7.03" font-style="italic" textLength="11.80" lengthAdjust="spacingAndGlyphs">hip</text>
<path d="M65.97 354.20H64.53V367.30H65.97" fill="none" stroke="#404040" stroke-width="0.8515000000000015"/>
<path d="M71.23 354.20H72.67V367.30H71.23" fill="none" stroke="#404040" stroke-width="0.8515000000000015"/>
<circle cx="68.60" cy="357.08" r="1.44" fill="none" stroke="#2e2e2e" stroke-width="0.72"/>
<path d="M136.45 363.23 C135.40 364.96 135.70 367.98 138.78 367.98 C141.85 367.98 142.90 365.68 142.30 364.10 C141.70 362.66 139.60 362.80 139.15 364.53 L137.65 370.00" fill="none" stroke="#2e2e2e" stroke-width="0.9" stroke-linecap="round"/>
<text x="143.10" y="368.56" font-size="6.84" font-style="italic" textLength="16.80" lengthAdjust="spacingAndGlyphs">knee</text>
<path d="M166.50 358.00H165.11V370.60H166.50" fill="none" stroke="#404040" stroke-width="0.8190000000000015"/>
<path d="M171.90 358.00H173.29V370.60H171.90" fill="none" stroke="#404040" stroke-width="0.8190000000000015"/>
<circle cx="169.20" cy="360.77" r="1.39" fill="none" stroke="#2e2e2e" stroke-width="0.70"/>
<g transform="translate(25.30,306.80) rotate(-90)"><path d="M5.60 -9.30L1.60 -1.60Q1.10 0.40 3.80 -0.50" fill="none" stroke="#2e2e2e" stroke-width="1.20" stroke-linecap="round"/><text x="7.00" y="2.40" font-size="11" font-style="italic" textLength="25.40" lengthAdjust="spacingAndGlyphs">MT,ST</text><text x="39.78" y="-0.40" font-size="10.92" textLength="12.65" lengthAdjust="spacingAndGlyphs">cm</text></g>
<path d="M15.70 268.26V269.53H27.20V268.26" fill="none" stroke="#404040" stroke-width="0.7475"/>
<path d="M15.70 253.14V251.87H27.20V253.14" fill="none" stroke="#404040" stroke-width="0.7475"/>
<line x1="58.90" y1="506.60" x2="95.60" y2="492.70" stroke="#e0e0e0" stroke-width="0.6"/>
<line x1="42.20" y1="498.70" x2="78.90" y2="484.80" stroke="#e0e0e0" stroke-width="0.6"/>
<line x1="25.50" y1="490.80" x2="62.20" y2="476.90" stroke="#e0e0e0" stroke-width="0.6"/>
<line x1="58.90" y1="506.60" x2="25.50" y2="490.80" stroke="#e0e0e0" stroke-width="0.6"/>
<line x1="77.25" y1="499.65" x2="43.85" y2="483.85" stroke="#e0e0e0" stroke-width="0.6"/>
<line x1="95.60" y1="492.70" x2="62.20" y2="476.90" stroke="#e0e0e0" stroke-width="0.6"/>
<line x1="25.50" y1="490.80" x2="25.50" y2="428.85" stroke="#e0e0e0" stroke-width="0.6"/>
<line x1="43.85" y1="483.85" x2="43.85" y2="421.90" stroke="#e0e0e0" stroke-width="0.6"/>
<line x1="62.20" y1="476.90" x2="62.20" y2="414.95" stroke="#e0e0e0" stroke-width="0.6"/>
<line x1="25.50" y1="470.15" x2="62.20" y2="456.25" stroke="#e0e0e0" stroke-width="0.6"/>
<line x1="25.50" y1="449.50" x2="62.20" y2="435.60" stroke="#e0e0e0" stroke-width="0.6"/>
<line x1="25.50" y1="428.85" x2="62.20" y2="414.95" stroke="#e0e0e0" stroke-width="0.6"/>
<line x1="95.60" y1="492.70" x2="95.60" y2="430.75" stroke="#e0e0e0" stroke-width="0.6"/>
<line x1="78.90" y1="484.80" x2="78.90" y2="422.85" stroke="#e0e0e0" stroke-width="0.6"/>
<line x1="62.20" y1="476.90" x2="62.20" y2="414.95" stroke="#e0e0e0" stroke-width="0.6"/>
<line x1="95.60" y1="472.05" x2="62.20" y2="456.25" stroke="#e0e0e0" stroke-width="0.6"/>
<line x1="95.60" y1="451.40" x2="62.20" y2="435.60" stroke="#e0e0e0" stroke-width="0.6"/>
<line x1="95.60" y1="430.75" x2="62.20" y2="414.95" stroke="#e0e0e0" stroke-width="0.6"/>
<line x1="25.50" y1="490.80" x2="58.90" y2="506.60" stroke="#7a7a7a" stroke-width="0.7"/>
<line x1="58.90" y1="506.60" x2="95.60" y2="492.70" stroke="#7a7a7a" stroke-width="0.7"/>
<defs><clipPath id="cgc"><path d="M63.23 493.48L62.65 492.13L62.07 490.79L61.49 489.46L60.91 488.14L60.33 486.82L59.74 485.51L59.16 484.20L58.58 482.90L58.00 481.61L57.42 480.32L56.84 479.04L56.26 477.76L55.68 476.50L55.10 475.24L54.52 473.98L53.94 472.73L53.36 471.49L52.77 470.25L52.19 469.02L51.61 467.80L51.03 466.58L50.45 465.37L49.87 464.17L49.87 464.17L50.99 462.68L52.10 461.18L53.22 459.67L54.34 458.15L55.45 456.62L56.57 455.08L57.69 453.53L58.81 451.97L59.92 450.39L61.04 448.81L62.16 447.22L63.27 445.62L64.39 444.00L65.51 442.38L66.62 440.75L67.74 439.10L68.86 437.45L69.98 435.78L71.09 434.11L72.21 432.42L73.33 430.73L74.44 429.02L75.56 427.31L75.56 427.31L76.14 427.96L76.72 428.67L77.30 429.43L77.88 430.24L78.46 431.10L79.05 432.02L79.63 432.99L80.21 434.01L80.79 435.08L81.37 436.21L81.95 437.39L82.53 438.62L83.11 439.90L83.69 441.23L84.27 442.62L84.85 444.06L85.43 445.55L86.02 447.10L86.60 448.70L87.18 450.34L87.76 452.05L88.34 453.80L88.92 455.61L88.92 455.61L87.80 457.28L86.69 458.96L85.57 460.63L84.45 462.30L83.34 463.97L82.22 465.63L81.10 467.29L79.98 468.95L78.87 470.61L77.75 472.26L76.63 473.91L75.52 475.55L74.40 477.20L73.28 478.84L72.17 480.48L71.05 482.11L69.93 483.74L68.81 485.37L67.70 487.00L66.58 488.62L65.46 490.24L64.35 491.86L63.23 493.48Z"/></clipPath><filter id="fgc" x="-10%" y="-10%" width="120%" height="120%"><feGaussianBlur stdDeviation="0.9"/></filter></defs>
<g clip-path="url(#cgc)"><g filter="url(#fgc)" shape-rendering="crispEdges">
<path d="M75.6 427.3L74.9 426.6L76.2 424.6L76.8 425.3Z" fill="#f9fb0e"/>
<path d="M76.2 428.1L75.6 427.3L76.8 425.3L77.5 426.1Z" fill="#f9fb0e"/>
<path d="M74.3 429.3L73.6 428.6L74.9 426.6L75.6 427.3Z" fill="#f7f512"/>
<path d="M76.9 428.9L76.2 428.1L77.5 426.1L78.2 426.9Z" fill="#f9fb0e"/>
<path d="M74.9 430.0L74.3 429.3L75.6 427.3L76.2 428.1Z" fill="#f6f114"/>
<path d="M77.6 429.8L76.9 428.9L78.2 426.9L78.8 427.8Z" fill="#f7f511"/>
<path d="M73.0 431.2L72.3 430.6L73.6 428.6L74.3 429.3Z" fill="#f5e71b"/>
<path d="M75.6 430.8L74.9 430.0L76.2 428.1L76.9 428.9Z" fill="#f5ed17"/>
<path d="M78.2 430.7L77.6 429.8L78.8 427.8L79.5 428.8Z" fill="#f6ef15"/>
<path d="M73.7 432.0L73.0 431.2L74.3 429.3L74.9 430.0Z" fill="#f5e41d"/>
<path d="M76.3 431.7L75.6 430.8L76.9 428.9L77.6 429.8Z" fill="#f5e81a"/>
<path d="M78.9 431.8L78.2 430.7L79.5 428.8L80.2 429.9Z" fill="#f5e91a"/>
<path d="M71.7 433.2L71.0 432.5L72.3 430.6L73.0 431.2Z" fill="#f6dc23"/>
<path d="M74.3 432.8L73.7 432.0L74.9 430.0L75.6 430.8Z" fill="#f5e020"/>
<path d="M76.9 432.7L76.3 431.7L77.6 429.8L78.2 430.7Z" fill="#f5e31e"/>
<path d="M79.6 432.9L78.9 431.8L80.2 429.9L80.9 431.0Z" fill="#f5e31e"/>
<path d="M72.4 433.9L71.7 433.2L73.0 431.2L73.7 432.0Z" fill="#f7d925"/>
<path d="M75.0 433.7L74.3 432.8L75.6 430.8L76.3 431.7Z" fill="#f6dc23"/>
<path d="M77.6 433.7L76.9 432.7L78.2 430.7L78.9 431.8Z" fill="#f6dd22"/>
<path d="M80.2 434.1L79.6 432.9L80.9 431.0L81.5 432.2Z" fill="#f6dc23"/>
<path d="M70.4 435.1L69.8 434.5L71.0 432.5L71.7 433.2Z" fill="#fad22b"/>
<path d="M73.0 434.7L72.4 433.9L73.7 432.0L74.3 432.8Z" fill="#f8d627"/>
<path d="M75.7 434.6L75.0 433.7L76.3 431.7L76.9 432.7Z" fill="#f7d826"/>
<path d="M78.3 434.8L77.6 433.7L78.9 431.8L79.6 432.9Z" fill="#f7d826"/>
<path d="M80.9 435.3L80.2 434.1L81.5 432.2L82.2 433.4Z" fill="#f8d627"/>
<path d="M71.1 435.8L70.4 435.1L71.7 433.2L72.4 433.9Z" fill="#fbcf2d"/>
<path d="M73.7 435.6L73.0 434.7L74.3 432.8L75.0 433.7Z" fill="#fad22a"/>
<path d="M76.3 435.6L75.7 434.6L76.9 432.7L77.6 433.7Z" fill="#f9d329"/>
<path d="M79.0 436.0L78.3 434.8L79.6 432.9L80.2 434.1Z" fill="#fad32a"/>
<path d="M69.1 437.0L68.5 436.4L69.8 434.5L70.4 435.1Z" fill="#fec832"/>
<path d="M81.6 436.6L80.9 435.3L82.2 433.4L82.9 434.7Z" fill="#fbd02c"/>
<path d="M71.8 436.6L71.1 435.8L72.4 433.9L73.0 434.7Z" fill="#fccc2f"/>
<path d="M74.4 436.5L73.7 435.6L75.0 433.7L75.7 434.6Z" fill="#fcce2d"/>
<path d="M77.0 436.7L76.3 435.6L77.6 433.7L78.3 434.8Z" fill="#fccf2d"/>
<path d="M79.6 437.2L79.0 436.0L80.2 434.1L80.9 435.3Z" fill="#fccd2f"/>
<path d="M69.8 437.8L69.1 437.0L70.4 435.1L71.1 435.8Z" fill="#fec635"/>
<path d="M82.2 438.0L81.6 436.6L82.9 434.7L83.5 436.1Z" fill="#fec932"/>
<path d="M72.4 437.5L71.8 436.6L73.0 434.7L73.7 435.6Z" fill="#fec932"/>
<path d="M75.0 437.5L74.4 436.5L75.7 434.6L76.3 435.6Z" fill="#fdca31"/>
<path d="M77.7 437.9L77.0 436.7L78.3 434.8L79.0 436.0Z" fill="#fec931"/>
<path d="M67.9 438.9L67.2 438.3L68.5 436.4L69.1 437.0Z" fill="#febf3c"/>
<path d="M80.3 438.5L79.6 437.2L80.9 435.3L81.6 436.6Z" fill="#fec634"/>
<path d="M70.5 438.6L69.8 437.8L71.1 435.8L71.8 436.6Z" fill="#ffc338"/>
<path d="M82.9 439.4L82.2 438.0L83.5 436.1L84.2 437.6Z" fill="#fec239"/>
<path d="M73.1 438.5L72.4 437.5L73.7 435.6L74.4 436.5Z" fill="#fec536"/>
<path d="M75.7 438.6L75.0 437.5L76.3 435.6L77.0 436.7Z" fill="#fec535"/>
<path d="M78.3 439.1L77.7 437.9L79.0 436.0L79.6 437.2Z" fill="#ffc337"/>
<path d="M68.5 439.7L67.9 438.9L69.1 437.0L69.8 437.8Z" fill="#fcbd3f"/>
<path d="M81.0 439.9L80.3 438.5L81.6 436.6L82.2 438.0Z" fill="#fec03b"/>
<path d="M71.1 439.5L70.5 438.6L71.8 436.6L72.4 437.5Z" fill="#febf3c"/>
<path d="M83.6 441.0L82.9 439.4L84.2 437.6L84.9 439.1Z" fill="#f9bb42"/>
<path d="M73.8 439.5L73.1 438.5L74.4 436.5L75.0 437.5Z" fill="#fec13a"/>
<path d="M76.4 439.8L75.7 438.6L77.0 436.7L77.7 437.9Z" fill="#fec03b"/>
<path d="M66.6 440.8L65.9 440.1L67.2 438.3L67.9 438.9Z" fill="#f4ba47"/>
<path d="M79.0 440.4L78.3 439.1L79.6 437.2L80.3 438.5Z" fill="#fdbe3e"/>
<path d="M69.2 440.5L68.5 439.7L69.8 437.8L70.5 438.6Z" fill="#f9bb43"/>
<path d="M81.6 441.3L81.0 439.9L82.2 438.0L82.9 439.4Z" fill="#f8ba44"/>
<path d="M71.8 440.4L71.1 439.5L72.4 437.5L73.1 438.5Z" fill="#fbbc41"/>
<path d="M84.2 442.6L83.6 441.0L84.9 439.1L85.5 440.7Z" fill="#eeb94b"/>
<path d="M74.4 440.6L73.8 439.5L75.0 437.5L75.7 438.6Z" fill="#fbbc40"/>
<path d="M77.1 441.0L76.4 439.8L77.7 437.9L78.3 439.1Z" fill="#fabb42"/>
<path d="M67.2 441.6L66.6 440.8L67.9 438.9L68.5 439.7Z" fill="#f0b94a"/>
<path d="M79.7 441.8L79.0 440.4L80.3 438.5L81.0 439.9Z" fill="#f5ba46"/>
<path d="M69.9 441.4L69.2 440.5L70.5 438.6L71.1 439.5Z" fill="#f4ba47"/>
<path d="M82.3 442.8L81.6 441.3L82.9 439.4L83.6 441.0Z" fill="#edb94c"/>
<path d="M72.5 441.4L71.8 440.4L73.1 438.5L73.8 439.5Z" fill="#f6ba46"/>
<path d="M84.9 444.2L84.2 442.6L85.5 440.7L86.2 442.3Z" fill="#e1b952"/>
<path d="M75.1 441.7L74.4 440.6L75.7 438.6L76.4 439.8Z" fill="#f5ba47"/>
<path d="M65.3 442.7L64.6 442.0L65.9 440.1L66.6 440.8Z" fill="#e6b94f"/>
<path d="M77.7 442.3L77.1 441.0L78.3 439.1L79.0 440.4Z" fill="#f1b949"/>
<path d="M67.9 442.4L67.2 441.6L68.5 439.7L69.2 440.5Z" fill="#ebb94d"/>
<path d="M80.3 443.2L79.7 441.8L81.0 439.9L81.6 441.3Z" fill="#eab94d"/>
<path d="M70.5 442.3L69.9 441.4L71.1 439.5L71.8 440.4Z" fill="#eeb94b"/>
<path d="M83.0 444.4L82.3 442.8L83.6 441.0L84.2 442.6Z" fill="#e0ba52"/>
<path d="M73.1 442.5L72.5 441.4L73.8 439.5L74.4 440.6Z" fill="#efb94b"/>
<path d="M85.6 445.9L84.9 444.2L86.2 442.3L86.9 444.1Z" fill="#d3bb58"/>
<path d="M75.8 443.0L75.1 441.7L76.4 439.8L77.1 441.0Z" fill="#ecb94c"/>
<path d="M66.0 443.5L65.3 442.7L66.6 440.8L67.2 441.6Z" fill="#e2b952"/>
<path d="M78.4 443.7L77.7 442.3L79.0 440.4L79.7 441.8Z" fill="#e7b94f"/>
<path d="M68.6 443.3L67.9 442.4L69.2 440.5L69.9 441.4Z" fill="#e6b950"/>
<path d="M81.0 444.8L80.3 443.2L81.6 441.3L82.3 442.8Z" fill="#dfba53"/>
<path d="M71.2 443.4L70.5 442.3L71.8 440.4L72.5 441.4Z" fill="#e8b94f"/>
<path d="M64.0 444.6L63.3 443.8L64.6 442.0L65.3 442.7Z" fill="#d8ba56"/>
<path d="M83.6 446.1L83.0 444.4L84.2 442.6L84.9 444.2Z" fill="#d3bb58"/>
<path d="M73.8 443.7L73.1 442.5L74.4 440.6L75.1 441.7Z" fill="#e7b94f"/>
<path d="M86.2 447.7L85.6 445.9L86.9 444.1L87.5 445.8Z" fill="#c4bc5e"/>
<path d="M76.4 444.3L75.8 443.0L77.1 441.0L77.7 442.3Z" fill="#e3b951"/>
<path d="M66.6 444.3L66.0 443.5L67.2 441.6L67.9 442.4Z" fill="#ddba54"/>
<path d="M79.1 445.1L78.4 443.7L79.7 441.8L80.3 443.2Z" fill="#dcba54"/>
<path d="M69.2 444.3L68.6 443.3L69.9 441.4L70.5 442.3Z" fill="#e0ba53"/>
<path d="M81.7 446.3L81.0 444.8L82.3 442.8L83.0 444.4Z" fill="#d2bb59"/>
<path d="M71.9 444.5L71.2 443.4L72.5 441.4L73.1 442.5Z" fill="#e0ba52"/>
<path d="M64.7 445.4L64.0 444.6L65.3 442.7L66.0 443.5Z" fill="#d4bb58"/>
<path d="M84.3 447.8L83.6 446.1L84.9 444.2L85.6 445.9Z" fill="#c5bc5e"/>
<path d="M74.5 444.9L73.8 443.7L75.1 441.7L75.8 443.0Z" fill="#deba53"/>
<path d="M86.9 449.6L86.2 447.7L87.5 445.8L88.2 447.7Z" fill="#b4bd65"/>
<path d="M77.1 445.6L76.4 444.3L77.7 442.3L78.4 443.7Z" fill="#d9ba56"/>
<path d="M67.3 445.2L66.6 444.3L67.9 442.4L68.6 443.3Z" fill="#d7ba56"/>
<path d="M79.7 446.7L79.1 445.1L80.3 443.2L81.0 444.8Z" fill="#d0bb59"/>
<path d="M69.9 445.3L69.2 444.3L70.5 442.3L71.2 443.4Z" fill="#d9ba56"/>
<path d="M82.3 448.0L81.7 446.3L83.0 444.4L83.6 446.1Z" fill="#c4bc5e"/>
<path d="M72.5 445.6L71.9 444.5L73.1 442.5L73.8 443.7Z" fill="#d8ba56"/>
<path d="M62.7 446.4L62.0 445.6L63.3 443.8L64.0 444.6Z" fill="#cabb5c"/>
<path d="M85.0 449.6L84.3 447.8L85.6 445.9L86.2 447.7Z" fill="#b5bd65"/>
<path d="M65.3 446.2L64.7 445.4L66.0 443.5L66.6 444.3Z" fill="#cebb5a"/>
<path d="M75.1 446.2L74.5 444.9L75.8 443.0L76.4 444.3Z" fill="#d4bb58"/>
<path d="M87.6 451.5L86.9 449.6L88.2 447.7L88.9 449.6Z" fill="#a1be6c"/>
<path d="M77.8 447.1L77.1 445.6L78.4 443.7L79.1 445.1Z" fill="#cdbb5b"/>
<path d="M68.0 446.2L67.3 445.2L68.6 443.3L69.2 444.3Z" fill="#d1bb59"/>
<path d="M80.4 448.3L79.7 446.7L81.0 444.8L81.7 446.3Z" fill="#c3bc5f"/>
<path d="M70.6 446.4L69.9 445.3L71.2 443.4L71.9 444.5Z" fill="#d1bb59"/>
<path d="M83.0 449.7L82.3 448.0L83.6 446.1L84.3 447.8Z" fill="#b5bd64"/>
<path d="M73.2 446.9L72.5 445.6L73.8 443.7L74.5 444.9Z" fill="#cfbb5a"/>
<path d="M63.4 447.3L62.7 446.4L64.0 444.6L64.7 445.4Z" fill="#c5bc5e"/>
<path d="M85.6 451.5L85.0 449.6L86.2 447.7L86.9 449.6Z" fill="#a3be6b"/>
<path d="M75.8 447.6L75.1 446.2L76.4 444.3L77.1 445.6Z" fill="#c9bb5c"/>
<path d="M66.0 447.2L65.3 446.2L66.6 444.3L67.3 445.2Z" fill="#c8bc5d"/>
<path d="M88.3 453.5L87.6 451.5L88.9 449.6L89.5 451.6Z" fill="#8dbf75"/>
<path d="M78.4 448.6L77.8 447.1L79.1 445.1L79.7 446.7Z" fill="#c1bc60"/>
<path d="M68.6 447.3L68.0 446.2L69.2 444.3L69.9 445.3Z" fill="#cabb5c"/>
<path d="M81.1 449.9L80.4 448.3L81.7 446.3L82.3 448.0Z" fill="#b5bd65"/>
<path d="M71.2 447.6L70.6 446.4L71.9 444.5L72.5 445.6Z" fill="#c9bc5d"/>
<path d="M61.4 448.3L60.8 447.4L62.0 445.6L62.7 446.4Z" fill="#bcbd62"/>
<path d="M83.7 451.5L83.0 449.7L84.3 447.8L85.0 449.6Z" fill="#a5be6b"/>
<path d="M73.9 448.2L73.2 446.9L74.5 444.9L75.1 446.2Z" fill="#c5bc5e"/>
<path d="M64.1 448.1L63.4 447.3L64.7 445.4L65.3 446.2Z" fill="#c0bc60"/>
<path d="M86.3 453.4L85.6 451.5L86.9 449.6L87.6 451.5Z" fill="#90bf73"/>
<path d="M76.5 449.0L75.8 447.6L77.1 445.6L77.8 447.1Z" fill="#bebc61"/>
<path d="M66.7 448.2L66.0 447.2L67.3 445.2L68.0 446.2Z" fill="#c2bc5f"/>
<path d="M88.9 455.6L88.3 453.5L89.5 451.6L90.2 453.7Z" fill="#75bf7e"/>
<path d="M79.1 450.2L78.4 448.6L79.7 446.7L80.4 448.3Z" fill="#b3bd65"/>
<path d="M69.3 448.4L68.6 447.3L69.9 445.3L70.6 446.4Z" fill="#c2bc5f"/>
<path d="M81.7 451.6L81.1 449.9L82.3 448.0L83.0 449.7Z" fill="#a5be6b"/>
<path d="M71.9 448.8L71.2 447.6L72.5 445.6L73.2 446.9Z" fill="#bfbc60"/>
<path d="M62.1 449.1L61.4 448.3L62.7 446.4L63.4 447.3Z" fill="#b6bd64"/>
<path d="M84.3 453.4L83.7 451.5L85.0 449.6L85.6 451.5Z" fill="#92bf72"/>
<path d="M74.5 449.5L73.9 448.2L75.1 446.2L75.8 447.6Z" fill="#babd63"/>
<path d="M64.7 449.1L64.1 448.1L65.3 446.2L66.0 447.2Z" fill="#b9bd63"/>
<path d="M87.0 455.5L86.3 453.4L87.6 451.5L88.3 453.5Z" fill="#79bf7d"/>
<path d="M77.2 450.5L76.5 449.0L77.8 447.1L78.4 448.6Z" fill="#b1bd66"/>
<path d="M67.3 449.2L66.7 448.2L68.0 446.2L68.6 447.3Z" fill="#babd62"/>
<path d="M89.6 457.7L88.9 455.6L90.2 453.7L90.9 455.8Z" fill="#5abd8b"/>
<path d="M79.8 451.8L79.1 450.2L80.4 448.3L81.1 449.9Z" fill="#a4be6b"/>
<path d="M70.0 449.6L69.3 448.4L70.6 446.4L71.2 447.6Z" fill="#b9bd63"/>
<path d="M60.1 450.1L59.5 449.2L60.8 447.4L61.4 448.3Z" fill="#adbe68"/>
<path d="M82.4 453.5L81.7 451.6L83.0 449.7L83.7 451.5Z" fill="#93bf72"/>
<path d="M72.6 450.1L71.9 448.8L73.2 446.9L73.9 448.2Z" fill="#b5bd65"/>
<path d="M62.8 450.0L62.1 449.1L63.4 447.3L64.1 448.1Z" fill="#b0bd66"/>
<path d="M85.0 455.4L84.3 453.4L85.6 451.5L86.3 453.4Z" fill="#7dbf7b"/>
<path d="M75.2 451.0L74.5 449.5L75.8 447.6L76.5 449.0Z" fill="#aebe67"/>
<path d="M65.4 450.1L64.7 449.1L66.0 447.2L66.7 448.2Z" fill="#b2bd66"/>
<path d="M87.6 457.5L87.0 455.5L88.3 453.5L88.9 455.6Z" fill="#60be88"/>
<path d="M77.8 452.1L77.2 450.5L78.4 448.6L79.1 450.2Z" fill="#a3be6c"/>
<path d="M68.0 450.4L67.3 449.2L68.6 447.3L69.3 448.4Z" fill="#b1bd66"/>
<path d="M80.4 453.6L79.8 451.8L81.1 449.9L81.7 451.6Z" fill="#93bf72"/>
<path d="M70.6 450.8L70.0 449.6L71.2 447.6L71.9 448.8Z" fill="#afbe67"/>
<path d="M60.8 451.0L60.1 450.1L61.4 448.3L62.1 449.1Z" fill="#a7be6a"/>
<path d="M83.1 455.3L82.4 453.5L83.7 451.5L84.3 453.4Z" fill="#7fbf7a"/>
<path d="M73.2 451.5L72.6 450.1L73.9 448.2L74.5 449.5Z" fill="#a9be69"/>
<path d="M63.4 451.0L62.8 450.0L64.1 448.1L64.7 449.1Z" fill="#a9be69"/>
<path d="M85.7 457.4L85.0 455.4L86.3 453.4L87.0 455.5Z" fill="#64be86"/>
<path d="M75.9 452.5L75.2 451.0L76.5 449.0L77.2 450.5Z" fill="#a0be6d"/>
<path d="M66.1 451.2L65.4 450.1L66.7 448.2L67.3 449.2Z" fill="#a9be69"/>
<path d="M88.3 459.7L87.6 457.5L88.9 455.6L89.6 457.7Z" fill="#45bb96"/>
<path d="M78.5 453.8L77.8 452.1L79.1 450.2L79.8 451.8Z" fill="#93bf72"/>
<path d="M68.7 451.5L68.0 450.4L69.3 448.4L70.0 449.6Z" fill="#a8be6a"/>
<path d="M58.9 451.9L58.2 451.0L59.5 449.2L60.1 450.1Z" fill="#9ebe6e"/>
<path d="M81.1 455.4L80.4 453.6L81.7 451.6L82.4 453.5Z" fill="#80bf7a"/>
<path d="M61.5 451.9L60.8 451.0L62.1 449.1L62.8 450.0Z" fill="#a0be6d"/>
<path d="M71.3 452.1L70.6 450.8L71.9 448.8L72.6 450.1Z" fill="#a4be6b"/>
<path d="M83.7 457.3L83.1 455.3L84.3 453.4L85.0 455.4Z" fill="#68be84"/>
<path d="M73.9 453.0L73.2 451.5L74.5 449.5L75.2 451.0Z" fill="#9cbf6e"/>
<path d="M64.1 452.1L63.4 451.0L64.7 449.1L65.4 450.1Z" fill="#a1be6c"/>
<path d="M86.4 459.5L85.7 457.4L87.0 455.5L87.6 457.5Z" fill="#4abc93"/>
<path d="M76.5 454.1L75.9 452.5L77.2 450.5L77.8 452.1Z" fill="#91bf73"/>
<path d="M66.7 452.3L66.1 451.2L67.3 449.2L68.0 450.4Z" fill="#a0be6d"/>
<path d="M79.2 455.5L78.5 453.8L79.8 451.8L80.4 453.6Z" fill="#80bf7a"/>
<path d="M69.3 452.8L68.7 451.5L70.0 449.6L70.6 450.8Z" fill="#9dbe6e"/>
<path d="M59.5 452.8L58.9 451.9L60.1 450.1L60.8 451.0Z" fill="#97bf71"/>
<path d="M81.8 457.2L81.1 455.4L82.4 453.5L83.1 455.3Z" fill="#6abe83"/>
<path d="M72.0 453.5L71.3 452.1L72.6 450.1L73.2 451.5Z" fill="#97bf70"/>
<path d="M62.1 453.0L61.5 451.9L62.8 450.0L63.4 451.0Z" fill="#98bf70"/>
<path d="M84.4 459.3L83.7 457.3L85.0 455.4L85.7 457.4Z" fill="#4fbc91"/>
<path d="M74.6 454.5L73.9 453.0L75.2 451.0L75.9 452.5Z" fill="#8dbf74"/>
<path d="M64.8 453.2L64.1 452.1L65.4 450.1L66.1 451.2Z" fill="#98bf70"/>
<path d="M87.0 461.6L86.4 459.5L87.6 457.5L88.3 459.7Z" fill="#33b8a1"/>
<path d="M77.2 455.7L76.5 454.1L77.8 452.1L78.5 453.8Z" fill="#7fbf7a"/>
<path d="M67.4 453.5L66.7 452.3L68.0 450.4L68.7 451.5Z" fill="#96bf71"/>
<path d="M57.6 453.7L56.9 452.7L58.2 451.0L58.9 451.9Z" fill="#8ebf74"/>
<path d="M79.8 457.3L79.2 455.5L80.4 453.6L81.1 455.4Z" fill="#6bbf83"/>
<path d="M70.0 454.1L69.3 452.8L70.6 450.8L71.3 452.1Z" fill="#91bf73"/>
<path d="M60.2 453.8L59.5 452.8L60.8 451.0L61.5 451.9Z" fill="#8ebf74"/>
<path d="M82.4 459.2L81.8 457.2L83.1 455.3L83.7 457.3Z" fill="#52bd8f"/>
<path d="M72.6 454.9L72.0 453.5L73.2 451.5L73.9 453.0Z" fill="#89bf76"/>
<path d="M62.8 454.0L62.1 453.0L63.4 451.0L64.1 452.1Z" fill="#8fbf74"/>
<path d="M85.1 461.4L84.4 459.3L85.7 457.4L86.4 459.5Z" fill="#37b99e"/>
<path d="M75.3 456.0L74.6 454.5L75.9 452.5L76.5 454.1Z" fill="#7dbf7b"/>
<path d="M65.4 454.3L64.8 453.2L66.1 451.2L66.7 452.3Z" fill="#8ebf74"/>
<path d="M77.9 457.5L77.2 455.7L78.5 453.8L79.2 455.5Z" fill="#6bbf83"/>
<path d="M68.1 454.8L67.4 453.5L68.7 451.5L69.3 452.8Z" fill="#8abf76"/>
<path d="M58.2 454.7L57.6 453.7L58.9 451.9L59.5 452.8Z" fill="#85bf78"/>
<path d="M80.5 459.2L79.8 457.3L81.1 455.4L81.8 457.2Z" fill="#54bd8e"/>
<path d="M70.7 455.5L70.0 454.1L71.3 452.1L72.0 453.5Z" fill="#84bf78"/>
<path d="M60.9 454.9L60.2 453.8L61.5 451.9L62.1 453.0Z" fill="#85bf78"/>
<path d="M83.1 461.2L82.4 459.2L83.7 457.3L84.4 459.3Z" fill="#3bb99c"/>
<path d="M73.3 456.4L72.6 454.9L73.9 453.0L74.6 454.5Z" fill="#79bf7d"/>
<path d="M63.5 455.1L62.8 454.0L64.1 452.1L64.8 453.2Z" fill="#85bf78"/>
<path d="M85.7 463.5L85.1 461.4L86.4 459.5L87.0 461.6Z" fill="#22b4ab"/>
<path d="M75.9 457.7L75.3 456.0L76.5 454.1L77.2 455.7Z" fill="#6abe84"/>
<path d="M66.1 455.5L65.4 454.3L66.7 452.3L67.4 453.5Z" fill="#82bf79"/>
<path d="M56.3 455.5L55.6 454.5L56.9 452.7L57.6 453.7Z" fill="#7cbf7b"/>
<path d="M78.5 459.3L77.9 457.5L79.2 455.5L79.8 457.3Z" fill="#55bd8d"/>
<path d="M68.7 456.1L68.1 454.8L69.3 452.8L70.0 454.1Z" fill="#7dbf7b"/>
<path d="M58.9 455.7L58.2 454.7L59.5 452.8L60.2 453.8Z" fill="#7cbf7c"/>
<path d="M81.2 461.1L80.5 459.2L81.8 457.2L82.4 459.2Z" fill="#3eba9a"/>
<path d="M71.3 456.9L70.7 455.5L72.0 453.5L72.6 454.9Z" fill="#74bf7f"/>
<path d="M61.5 456.0L60.9 454.9L62.1 453.0L62.8 454.0Z" fill="#7bbf7c"/>
<path d="M83.8 463.3L83.1 461.2L84.4 459.3L85.1 461.4Z" fill="#26b5a9"/>
<path d="M74.0 458.0L73.3 456.4L74.6 454.5L75.3 456.0Z" fill="#67be85"/>
<path d="M64.2 456.3L63.5 455.1L64.8 453.2L65.4 454.3Z" fill="#79bf7d"/>
<path d="M76.6 459.4L75.9 457.7L77.2 455.7L77.9 457.5Z" fill="#55bd8d"/>
<path d="M66.8 456.8L66.1 455.5L67.4 453.5L68.1 454.8Z" fill="#75bf7e"/>
<path d="M57.0 456.5L56.3 455.5L57.6 453.7L58.2 454.7Z" fill="#72bf80"/>
<path d="M79.2 461.1L78.5 459.3L79.8 457.3L80.5 459.2Z" fill="#40ba99"/>
<path d="M69.4 457.5L68.7 456.1L70.0 454.1L70.7 455.5Z" fill="#6ebf82"/>
<path d="M59.6 456.8L58.9 455.7L60.2 453.8L60.9 454.9Z" fill="#71bf80"/>
<path d="M81.8 463.1L81.2 461.1L82.4 459.2L83.1 461.2Z" fill="#2ab6a6"/>
<path d="M72.0 458.4L71.3 456.9L72.6 454.9L73.3 456.4Z" fill="#63be87"/>
<path d="M62.2 457.1L61.5 456.0L62.8 454.0L63.5 455.1Z" fill="#70bf81"/>
<path d="M84.4 465.5L83.8 463.3L85.1 461.4L85.7 463.5Z" fill="#15b0b5"/>
<path d="M74.6 459.7L74.0 458.0L75.3 456.0L75.9 457.7Z" fill="#53bd8e"/>
<path d="M64.8 457.6L64.2 456.3L65.4 454.3L66.1 455.5Z" fill="#6cbf82"/>
<path d="M55.0 457.2L54.3 456.2L55.6 454.5L56.3 455.5Z" fill="#6abe83"/>
<path d="M77.3 461.2L76.6 459.4L77.9 457.5L78.5 459.3Z" fill="#41ba99"/>
<path d="M57.6 457.6L57.0 456.5L58.2 454.7L58.9 455.7Z" fill="#68be84"/>
<path d="M67.4 458.1L66.8 456.8L68.1 454.8L68.7 456.1Z" fill="#66be85"/>
<path d="M79.9 463.0L79.2 461.1L80.5 459.2L81.2 461.1Z" fill="#2cb7a5"/>
<path d="M70.1 459.0L69.4 457.5L70.7 455.5L71.3 456.9Z" fill="#5dbe89"/>
<path d="M60.2 457.9L59.6 456.8L60.9 454.9L61.5 456.0Z" fill="#66be85"/>
<path d="M72.7 460.0L72.0 458.4L73.3 456.4L74.0 458.0Z" fill="#50bc90"/>
<path d="M82.5 465.2L81.8 463.1L83.1 461.2L83.8 463.3Z" fill="#18b1b2"/>
<path d="M62.9 458.3L62.2 457.1L63.5 455.1L64.2 456.3Z" fill="#63be87"/>
<path d="M75.3 461.4L74.6 459.7L75.9 457.7L76.6 459.4Z" fill="#40ba99"/>
<path d="M65.5 458.8L64.8 457.6L66.1 455.5L66.8 456.8Z" fill="#5ebe89"/>
<path d="M55.7 458.3L55.0 457.2L56.3 455.5L57.0 456.5Z" fill="#5fbe89"/>
<path d="M77.9 463.1L77.3 461.2L78.5 459.3L79.2 461.1Z" fill="#2eb7a4"/>
<path d="M68.1 459.5L67.4 458.1L68.7 456.1L69.4 457.5Z" fill="#57bd8d"/>
<path d="M58.3 458.7L57.6 457.6L58.9 455.7L59.6 456.8Z" fill="#5cbe8a"/>
<path d="M80.5 465.1L79.9 463.0L81.2 461.1L81.8 463.1Z" fill="#1bb2b0"/>
<path d="M70.7 460.5L70.1 459.0L71.3 456.9L72.0 458.4Z" fill="#4cbc92"/>
<path d="M60.9 459.1L60.2 457.9L61.5 456.0L62.2 457.1Z" fill="#59bd8b"/>
<path d="M73.4 461.7L72.7 460.0L74.0 458.0L74.6 459.7Z" fill="#3eba9a"/>
<path d="M63.5 459.6L62.9 458.3L64.2 456.3L64.8 457.6Z" fill="#55bd8d"/>
<path d="M83.2 467.4L82.5 465.2L83.8 463.3L84.4 465.5Z" fill="#0aacbd"/>
<path d="M53.7 459.0L53.1 457.8L54.3 456.2L55.0 457.2Z" fill="#57bd8c"/>
<path d="M76.0 463.2L75.3 461.4L76.6 459.4L77.3 461.2Z" fill="#2eb7a4"/>
<path d="M66.2 460.2L65.5 458.8L66.8 456.8L67.4 458.1Z" fill="#50bc90"/>
<path d="M56.3 459.5L55.7 458.3L57.0 456.5L57.6 457.6Z" fill="#53bd8f"/>
<path d="M78.6 465.0L77.9 463.1L79.2 461.1L79.9 463.0Z" fill="#1db3af"/>
<path d="M68.8 461.0L68.1 459.5L69.4 457.5L70.1 459.0Z" fill="#47bb95"/>
<path d="M59.0 459.9L58.3 458.7L59.6 456.8L60.2 457.9Z" fill="#50bc90"/>
<path d="M81.2 467.1L80.5 465.1L81.8 463.1L82.5 465.2Z" fill="#0dadbb"/>
<path d="M71.4 462.0L70.7 460.5L72.0 458.4L72.7 460.0Z" fill="#3bba9c"/>
<path d="M61.6 460.3L60.9 459.1L62.2 457.1L62.9 458.3Z" fill="#4cbc92"/>
<path d="M74.0 463.4L73.4 461.7L74.6 459.7L75.3 461.4Z" fill="#2eb7a4"/>
<path d="M64.2 460.9L63.5 459.6L64.8 457.6L65.5 458.8Z" fill="#48bb95"/>
<path d="M54.4 460.2L53.7 459.0L55.0 457.2L55.7 458.3Z" fill="#4bbc93"/>
<path d="M76.6 465.0L76.0 463.2L77.3 461.2L77.9 463.1Z" fill="#1eb3ae"/>
<path d="M66.8 461.6L66.2 460.2L67.4 458.1L68.1 459.5Z" fill="#41ba98"/>
<path d="M57.0 460.7L56.3 459.5L57.6 457.6L58.3 458.7Z" fill="#47bb95"/>
<path d="M79.3 467.0L78.6 465.0L79.9 463.0L80.5 465.1Z" fill="#0faeb9"/>
<path d="M69.4 462.5L68.8 461.0L70.1 459.0L70.7 460.5Z" fill="#37b99e"/>
<path d="M59.6 461.1L59.0 459.9L60.2 457.9L60.9 459.1Z" fill="#44bb97"/>
<path d="M81.9 469.3L81.2 467.1L82.5 465.2L83.2 467.4Z" fill="#06a7c5"/>
<path d="M72.1 463.7L71.4 462.0L72.7 460.0L73.4 461.7Z" fill="#2cb7a5"/>
<path d="M62.3 461.6L61.6 460.3L62.9 458.3L63.5 459.6Z" fill="#40ba99"/>
<path d="M52.4 460.7L51.8 459.5L53.1 457.8L53.7 459.0Z" fill="#46bb96"/>
<path d="M74.7 465.1L74.0 463.4L75.3 461.4L76.0 463.2Z" fill="#1eb3ae"/>
<path d="M64.9 462.2L64.2 460.9L65.5 458.8L66.2 460.2Z" fill="#3ab99c"/>
<path d="M55.1 461.4L54.4 460.2L55.7 458.3L56.3 459.5Z" fill="#40ba99"/>
<path d="M77.3 466.9L76.6 465.0L77.9 463.1L78.6 465.0Z" fill="#10afb8"/>
<path d="M67.5 463.0L66.8 461.6L68.1 459.5L68.8 461.0Z" fill="#33b8a1"/>
<path d="M57.7 461.9L57.0 460.7L58.3 458.7L59.0 459.9Z" fill="#3cba9b"/>
<path d="M79.9 469.0L79.3 467.0L80.5 465.1L81.2 467.1Z" fill="#07a9c3"/>
<path d="M70.1 464.0L69.4 462.5L70.7 460.5L71.4 462.0Z" fill="#29b6a7"/>
<path d="M60.3 462.4L59.6 461.1L60.9 459.1L61.6 460.3Z" fill="#38b99e"/>
<path d="M72.7 465.4L72.1 463.7L73.4 461.7L74.0 463.4Z" fill="#1db3af"/>
<path d="M62.9 462.9L62.3 461.6L63.5 459.6L64.2 460.9Z" fill="#33b8a0"/>
<path d="M53.1 462.0L52.4 460.7L53.7 459.0L54.4 460.2Z" fill="#3ab99d"/>
<path d="M75.4 467.0L74.7 465.1L76.0 463.2L76.6 465.0Z" fill="#11afb8"/>
<path d="M65.5 463.6L64.9 462.2L66.2 460.2L66.8 461.6Z" fill="#2db7a4"/>
<path d="M55.7 462.6L55.1 461.4L56.3 459.5L57.0 460.7Z" fill="#35b8a0"/>
<path d="M78.0 468.9L77.3 466.9L78.6 465.0L79.3 467.0Z" fill="#07aac1"/>
<path d="M68.2 464.5L67.5 463.0L68.8 461.0L69.4 462.5Z" fill="#25b5a9"/>
<path d="M58.3 463.1L57.7 461.9L59.0 459.9L59.6 461.1Z" fill="#31b8a2"/>
<path d="M80.6 471.2L79.9 469.0L81.2 467.1L81.9 469.3Z" fill="#06a2cb"/>
<path d="M70.8 465.7L70.1 464.0L71.4 462.0L72.1 463.7Z" fill="#1cb3b0"/>
<path d="M61.0 463.7L60.3 462.4L61.6 460.3L62.3 461.6Z" fill="#2db7a5"/>
<path d="M51.2 462.5L50.5 461.2L51.8 459.5L52.4 460.7Z" fill="#36b99f"/>
<path d="M73.4 467.1L72.7 465.4L74.0 463.4L74.7 465.1Z" fill="#11afb8"/>
<path d="M53.8 463.2L53.1 462.0L54.4 460.2L55.1 461.4Z" fill="#2fb7a3"/>
<path d="M63.6 464.3L62.9 462.9L64.2 460.9L64.9 462.2Z" fill="#28b6a8"/>
<path d="M76.0 468.9L75.4 467.0L76.6 465.0L77.3 466.9Z" fill="#08aac0"/>
<path d="M66.2 465.1L65.5 463.6L66.8 461.6L67.5 463.0Z" fill="#21b4ac"/>
<path d="M56.4 463.8L55.7 462.6L57.0 460.7L57.7 461.9Z" fill="#2ab6a6"/>
<path d="M78.6 470.9L78.0 468.9L79.3 467.0L79.9 469.0Z" fill="#06a4ca"/>
<path d="M68.8 466.1L68.2 464.5L69.4 462.5L70.1 464.0Z" fill="#19b2b1"/>
<path d="M59.0 464.4L58.3 463.1L59.6 461.1L60.3 462.4Z" fill="#26b5a9"/>
<path d="M71.5 467.4L70.8 465.7L72.1 463.7L72.7 465.4Z" fill="#10afb8"/>
<path d="M61.6 465.0L61.0 463.7L62.3 461.6L62.9 462.9Z" fill="#22b4ac"/>
<path d="M51.8 463.8L51.2 462.5L52.4 460.7L53.1 462.0Z" fill="#2bb6a6"/>
<path d="M74.1 468.9L73.4 467.1L74.7 465.1L75.4 467.0Z" fill="#08aac0"/>
<path d="M64.3 465.7L63.6 464.3L64.9 462.2L65.5 463.6Z" fill="#1db3af"/>
<path d="M54.4 464.5L53.8 463.2L55.1 461.4L55.7 462.6Z" fill="#25b5aa"/>
<path d="M76.7 470.8L76.0 468.9L77.3 466.9L78.0 468.9Z" fill="#06a5c9"/>
<path d="M66.9 466.6L66.2 465.1L67.5 463.0L68.2 464.5Z" fill="#16b1b4"/>
<path d="M57.1 465.1L56.4 463.8L57.7 461.9L58.3 463.1Z" fill="#20b4ad"/>
<path d="M59.7 465.7L59.0 464.4L60.3 462.4L61.0 463.7Z" fill="#1cb3af"/>
<path d="M79.3 473.0L78.6 470.9L79.9 469.0L80.6 471.2Z" fill="#079bd0"/>
<path d="M69.5 467.7L68.8 466.1L70.1 464.0L70.8 465.7Z" fill="#0faeb9"/>
<path d="M49.9 464.2L49.2 462.8L50.5 461.2L51.2 462.5Z" fill="#28b6a8"/>
<path d="M72.1 469.1L71.5 467.4L72.7 465.4L73.4 467.1Z" fill="#08aac0"/>
<path d="M62.3 466.4L61.6 465.0L62.9 462.9L63.6 464.3Z" fill="#18b1b2"/>
<path d="M52.5 465.1L51.8 463.8L53.1 462.0L53.8 463.2Z" fill="#20b4ad"/>
<path d="M74.7 470.8L74.1 468.9L75.4 467.0L76.0 468.9Z" fill="#06a5c8"/>
<path d="M64.9 467.1L64.3 465.7L65.5 463.6L66.2 465.1Z" fill="#13b0b6"/>
<path d="M55.1 465.8L54.4 464.5L55.7 462.6L56.4 463.8Z" fill="#1bb2b0"/>
<path d="M77.4 472.8L76.7 470.8L78.0 468.9L78.6 470.9Z" fill="#079dcf"/>
<path d="M67.5 468.1L66.9 466.6L68.2 464.5L68.8 466.1Z" fill="#0dadbb"/>
<path d="M57.7 466.4L57.1 465.1L58.3 463.1L59.0 464.4Z" fill="#17b1b3"/>
<path d="M60.4 467.1L59.7 465.7L61.0 463.7L61.6 465.0Z" fill="#13b0b6"/>
<path d="M70.2 469.4L69.5 467.7L70.8 465.7L71.5 467.4Z" fill="#08aac1"/>
<path d="M50.5 465.6L49.9 464.2L51.2 462.5L51.8 463.8Z" fill="#1db3af"/>
<path d="M72.8 470.9L72.1 469.1L73.4 467.1L74.1 468.9Z" fill="#06a5c8"/>
<path d="M63.0 467.8L62.3 466.4L63.6 464.3L64.3 465.7Z" fill="#0faeb9"/>
<path d="M53.2 466.4L52.5 465.1L53.8 463.2L54.4 464.5Z" fill="#17b1b3"/>
<path d="M75.4 472.7L74.7 470.8L76.0 468.9L76.7 470.8Z" fill="#069ece"/>
<path d="M65.6 468.6L64.9 467.1L66.2 465.1L66.9 466.6Z" fill="#0aacbd"/>
<path d="M55.8 467.1L55.1 465.8L56.4 463.8L57.1 465.1Z" fill="#12b0b6"/>
<path d="M78.0 474.9L77.4 472.8L78.6 470.9L79.3 473.0Z" fill="#0d93d2"/>
<path d="M68.2 469.7L67.5 468.1L68.8 466.1L69.5 467.7Z" fill="#07a9c2"/>
<path d="M58.4 467.8L57.7 466.4L59.0 464.4L59.7 465.7Z" fill="#0faeb9"/>
<path d="M48.6 465.9L47.9 464.4L49.2 462.8L49.9 464.2Z" fill="#1cb2b0"/>
<path d="M51.2 466.9L50.5 465.6L51.8 463.8L52.5 465.1Z" fill="#14b0b5"/>
<path d="M70.8 471.1L70.2 469.4L71.5 467.4L72.1 469.1Z" fill="#06a5c8"/>
<path d="M61.0 468.5L60.4 467.1L61.6 465.0L62.3 466.4Z" fill="#0badbc"/>
<path d="M73.5 472.7L72.8 470.9L74.1 468.9L74.7 470.8Z" fill="#069fce"/>
<path d="M63.6 469.2L63.0 467.8L64.3 465.7L64.9 467.1Z" fill="#08abc0"/>
<path d="M53.8 467.8L53.2 466.4L54.4 464.5L55.1 465.8Z" fill="#0faeb9"/>
<path d="M76.1 474.7L75.4 472.7L76.7 470.8L77.4 472.8Z" fill="#0b95d2"/>
<path d="M66.3 470.2L65.6 468.6L66.9 466.6L67.5 468.1Z" fill="#06a8c4"/>
<path d="M56.4 468.5L55.8 467.1L57.1 465.1L57.7 466.4Z" fill="#0badbc"/>
<path d="M68.9 471.4L68.2 469.7L69.5 467.7L70.2 469.4Z" fill="#06a5c9"/>
<path d="M59.1 469.2L58.4 467.8L59.7 465.7L60.4 467.1Z" fill="#09abbf"/>
<path d="M49.3 467.3L48.6 465.9L49.9 464.2L50.5 465.6Z" fill="#12afb7"/>
<path d="M61.7 469.9L61.0 468.5L62.3 466.4L63.0 467.8Z" fill="#07a9c2"/>
<path d="M51.9 468.3L51.2 466.9L52.5 465.1L53.2 466.4Z" fill="#0cadbc"/>
<path d="M71.5 472.9L70.8 471.1L72.1 469.1L72.8 470.9Z" fill="#069fce"/>
<path d="M74.1 474.7L73.5 472.7L74.7 470.8L75.4 472.7Z" fill="#0a97d1"/>
<path d="M64.3 470.7L63.6 469.2L64.9 467.1L65.6 468.6Z" fill="#06a7c6"/>
<path d="M54.5 469.2L53.8 467.8L55.1 465.8L55.8 467.1Z" fill="#09abbf"/>
<path d="M76.7 476.8L76.1 474.7L77.4 472.8L78.0 474.9Z" fill="#128ad3"/>
<path d="M66.9 471.8L66.3 470.2L67.5 468.1L68.2 469.7Z" fill="#06a4ca"/>
<path d="M57.1 469.9L56.4 468.5L57.7 466.4L58.4 467.8Z" fill="#07a9c2"/>
<path d="M69.5 473.1L68.9 471.4L70.2 469.4L70.8 471.1Z" fill="#069fce"/>
<path d="M49.9 468.8L49.3 467.3L50.5 465.6L51.2 466.9Z" fill="#0aacbd"/>
<path d="M59.7 470.6L59.1 469.2L60.4 467.1L61.0 468.5Z" fill="#06a7c5"/>
<path d="M62.4 471.3L61.7 469.9L63.0 467.8L63.6 469.2Z" fill="#06a5c8"/>
<path d="M52.5 469.8L51.9 468.3L53.2 466.4L53.8 467.8Z" fill="#07aac2"/>
<path d="M72.2 474.7L71.5 472.9L72.8 470.9L73.5 472.7Z" fill="#0997d1"/>
<path d="M74.8 476.6L74.1 474.7L75.4 472.7L76.1 474.7Z" fill="#118cd2"/>
<path d="M65.0 472.3L64.3 470.7L65.6 468.6L66.3 470.2Z" fill="#06a2cb"/>
<path d="M55.2 470.5L54.5 469.2L55.8 467.1L56.4 468.5Z" fill="#06a7c5"/>
<path d="M67.6 473.4L66.9 471.8L68.2 469.7L68.9 471.4Z" fill="#079ecf"/>
<path d="M57.8 471.3L57.1 469.9L58.4 467.8L59.1 469.2Z" fill="#06a6c7"/>
<path d="M70.2 474.8L69.5 473.1L70.8 471.1L71.5 472.9Z" fill="#0997d1"/>
<path d="M60.4 472.0L59.7 470.6L61.0 468.5L61.7 469.9Z" fill="#06a3ca"/>
<path d="M50.6 470.3L49.9 468.8L51.2 466.9L51.9 468.3Z" fill="#06a8c3"/>
<path d="M63.0 472.8L62.4 471.3L63.6 469.2L64.3 470.7Z" fill="#06a1cd"/>
<path d="M53.2 471.2L52.5 469.8L53.8 467.8L54.5 469.2Z" fill="#06a6c7"/>
<path d="M72.8 476.6L72.2 474.7L73.5 472.7L74.1 474.7Z" fill="#118dd2"/>
<path d="M55.8 471.9L55.2 470.5L56.4 468.5L57.1 469.9Z" fill="#06a4ca"/>
<path d="M75.5 478.7L74.8 476.6L76.1 474.7L76.7 476.8Z" fill="#1482d5"/>
<path d="M65.6 473.8L65.0 472.3L66.3 470.2L66.9 471.8Z" fill="#079dcf"/>
<path d="M68.3 475.1L67.6 473.4L68.9 471.4L69.5 473.1Z" fill="#0a96d1"/>
<path d="M58.5 472.7L57.8 471.3L59.1 469.2L59.7 470.6Z" fill="#06a1cc"/>
<path d="M70.9 476.6L70.2 474.8L71.5 472.9L72.2 474.7Z" fill="#108ed2"/>
<path d="M61.1 473.4L60.4 472.0L61.7 469.9L62.4 471.3Z" fill="#069ece"/>
<path d="M51.3 471.7L50.6 470.3L51.9 468.3L52.5 469.8Z" fill="#06a4c9"/>
<path d="M73.5 478.5L72.8 476.6L74.1 474.7L74.8 476.6Z" fill="#1484d4"/>
<path d="M63.7 474.4L63.0 472.8L64.3 470.7L65.0 472.3Z" fill="#089bd0"/>
<path d="M53.9 472.6L53.2 471.2L54.5 469.2L55.2 470.5Z" fill="#06a1cc"/>
<path d="M56.5 473.4L55.8 471.9L57.1 469.9L57.8 471.3Z" fill="#069fce"/>
<path d="M66.3 475.5L65.6 473.8L66.9 471.8L67.6 473.4Z" fill="#0b95d2"/>
<path d="M68.9 476.8L68.3 475.1L69.5 473.1L70.2 474.8Z" fill="#118ed2"/>
<path d="M59.1 474.1L58.5 472.7L59.7 470.6L60.4 472.0Z" fill="#079cd0"/>
<path d="M71.6 478.5L70.9 476.6L72.2 474.7L72.8 476.6Z" fill="#1485d4"/>
<path d="M61.7 474.9L61.1 473.4L62.4 471.3L63.0 472.8Z" fill="#0998d1"/>
<path d="M51.9 473.2L51.3 471.7L52.5 469.8L53.2 471.2Z" fill="#06a0cd"/>
<path d="M74.2 480.5L73.5 478.5L74.8 476.6L75.5 478.7Z" fill="#127cd8"/>
<path d="M64.4 475.9L63.7 474.4L65.0 472.3L65.6 473.8Z" fill="#0c93d2"/>
<path d="M54.5 474.0L53.9 472.6L55.2 470.5L55.8 471.9Z" fill="#079ccf"/>
<path d="M67.0 477.1L66.3 475.5L67.6 473.4L68.3 475.1Z" fill="#118dd2"/>
<path d="M57.2 474.8L56.5 473.4L57.8 471.3L58.5 472.7Z" fill="#0899d1"/>
<path d="M69.6 478.6L68.9 476.8L70.2 474.8L70.9 476.6Z" fill="#1485d4"/>
<path d="M59.8 475.6L59.1 474.1L60.4 472.0L61.1 473.4Z" fill="#0b95d1"/>
<path d="M72.2 480.4L71.6 478.5L72.8 476.6L73.5 478.5Z" fill="#137dd8"/>
<path d="M62.4 476.5L61.7 474.9L63.0 472.8L63.7 474.4Z" fill="#0e91d2"/>
<path d="M52.6 474.7L51.9 473.2L53.2 471.2L53.9 472.6Z" fill="#089ad0"/>
<path d="M65.0 477.5L64.4 475.9L65.6 473.8L66.3 475.5Z" fill="#128bd2"/>
<path d="M55.2 475.5L54.5 474.0L55.8 471.9L56.5 473.4Z" fill="#0a96d1"/>
<path d="M57.8 476.2L57.2 474.8L58.5 472.7L59.1 474.1Z" fill="#0d92d2"/>
<path d="M67.6 478.8L67.0 477.1L68.3 475.1L68.9 476.8Z" fill="#1485d4"/>
<path d="M70.3 480.4L69.6 478.6L70.9 476.6L71.6 478.5Z" fill="#137dd7"/>
<path d="M60.5 477.1L59.8 475.6L61.1 473.4L61.7 474.9Z" fill="#108ed2"/>
<path d="M72.9 482.3L72.2 480.4L73.5 478.5L74.2 480.5Z" fill="#0d75dc"/>
<path d="M63.1 478.0L62.4 476.5L63.7 474.4L64.4 475.9Z" fill="#1389d3"/>
<path d="M53.3 476.2L52.6 474.7L53.9 472.6L54.5 474.0Z" fill="#0d93d2"/>
<path d="M65.7 479.1L65.0 477.5L66.3 475.5L67.0 477.1Z" fill="#1484d4"/>
<path d="M55.9 476.9L55.2 475.5L56.5 473.4L57.2 474.8Z" fill="#108fd2"/>
<path d="M58.5 477.7L57.8 476.2L59.1 474.1L59.8 475.6Z" fill="#128bd2"/>
<path d="M68.3 480.6L67.6 478.8L68.9 476.8L69.6 478.6Z" fill="#137dd7"/>
<path d="M70.9 482.3L70.3 480.4L71.6 478.5L72.2 480.4Z" fill="#0e76dc"/>
<path d="M61.1 478.6L60.5 477.1L61.7 474.9L62.4 476.5Z" fill="#1487d3"/>
<path d="M63.7 479.6L63.1 478.0L64.4 475.9L65.0 477.5Z" fill="#1482d5"/>
<path d="M53.9 477.6L53.3 476.2L54.5 474.0L55.2 475.5Z" fill="#128cd2"/>
<path d="M66.4 480.8L65.7 479.1L67.0 477.1L67.6 478.8Z" fill="#137dd8"/>
<path d="M56.5 478.4L55.9 476.9L57.2 474.8L57.8 476.2Z" fill="#1388d3"/>
<path d="M59.2 479.2L58.5 477.7L59.8 475.6L60.5 477.1Z" fill="#1484d4"/>
<path d="M69.0 482.3L68.3 480.6L69.6 478.6L70.3 480.4Z" fill="#0e76db"/>
<path d="M71.6 484.2L70.9 482.3L72.2 480.4L72.9 482.3Z" fill="#056ee0"/>
<path d="M61.8 480.1L61.1 478.6L62.4 476.5L63.1 478.0Z" fill="#1480d6"/>
<path d="M64.4 481.2L63.7 479.6L65.0 477.5L65.7 479.1Z" fill="#127cd8"/>
<path d="M54.6 479.1L53.9 477.6L55.2 475.5L55.9 476.9Z" fill="#1485d4"/>
<path d="M67.0 482.5L66.4 480.8L67.6 478.8L68.3 480.6Z" fill="#0e76dc"/>
<path d="M57.2 479.9L56.5 478.4L57.8 476.2L58.5 477.7Z" fill="#1482d5"/>
<path d="M69.7 484.2L69.0 482.3L70.3 480.4L70.9 482.3Z" fill="#066fdf"/>
<path d="M59.8 480.7L59.2 479.2L60.5 477.1L61.1 478.6Z" fill="#137ed7"/>
<path d="M62.5 481.7L61.8 480.1L63.1 478.0L63.7 479.6Z" fill="#117ad9"/>
<path d="M65.1 482.8L64.4 481.2L65.7 479.1L66.4 480.8Z" fill="#0d76dc"/>
<path d="M55.3 480.6L54.6 479.1L55.9 476.9L56.5 478.4Z" fill="#137fd7"/>
<path d="M67.7 484.3L67.0 482.5L68.3 480.6L69.0 482.3Z" fill="#076fdf"/>
<path d="M57.9 481.3L57.2 479.9L58.5 477.7L59.2 479.2Z" fill="#127cd8"/>
<path d="M70.3 486.0L69.7 484.2L70.9 482.3L71.6 484.2Z" fill="#0266e1"/>
<path d="M60.5 482.2L59.8 480.7L61.1 478.6L61.8 480.1Z" fill="#1079da"/>
<path d="M63.1 483.2L62.5 481.7L63.7 479.6L64.4 481.2Z" fill="#0c74dd"/>
<path d="M65.7 484.5L65.1 482.8L66.4 480.8L67.0 482.5Z" fill="#066fdf"/>
<path d="M55.9 482.0L55.3 480.6L56.5 478.4L57.2 479.9Z" fill="#117ada"/>
<path d="M68.4 486.0L67.7 484.3L69.0 482.3L69.7 484.2Z" fill="#0267e1"/>
<path d="M58.6 482.8L57.9 481.3L59.2 479.2L59.8 480.7Z" fill="#0e76dc"/>
<path d="M61.2 483.7L60.5 482.2L61.8 480.1L62.5 481.7Z" fill="#0a73de"/>
<path d="M63.8 484.8L63.1 483.2L64.4 481.2L65.1 482.8Z" fill="#056ee0"/>
<path d="M66.4 486.2L65.7 484.5L67.0 482.5L67.7 484.3Z" fill="#0267e1"/>
<path d="M56.6 483.5L55.9 482.0L57.2 479.9L57.9 481.3Z" fill="#0c74dd"/>
<path d="M69.0 487.8L68.4 486.0L69.7 484.2L70.3 486.0Z" fill="#125adc"/>
<path d="M59.2 484.3L58.6 482.8L59.8 480.7L60.5 482.2Z" fill="#0870df"/>
<path d="M61.8 485.3L61.2 483.7L62.5 481.7L63.1 483.2Z" fill="#046ce0"/>
<path d="M64.5 486.4L63.8 484.8L65.1 482.8L65.7 484.5Z" fill="#0266e1"/>
<path d="M67.1 487.9L66.4 486.2L67.7 484.3L68.4 486.0Z" fill="#105bdd"/>
<path d="M57.3 485.0L56.6 483.5L57.9 481.3L58.6 482.8Z" fill="#056ee0"/>
<path d="M59.9 485.8L59.2 484.3L60.5 482.2L61.2 483.7Z" fill="#036ae1"/>
<path d="M62.5 486.8L61.8 485.3L63.1 483.2L63.8 484.8Z" fill="#0364e1"/>
<path d="M65.1 488.1L64.5 486.4L65.7 484.5L66.4 486.2Z" fill="#115bdc"/>
<path d="M67.8 489.6L67.1 487.9L68.4 486.0L69.0 487.8Z" fill="#2a4cc8"/>
<path d="M57.9 486.5L57.3 485.0L58.6 482.8L59.2 484.3Z" fill="#0267e1"/>
<path d="M60.6 487.3L59.9 485.8L61.2 483.7L61.8 485.3Z" fill="#0562e0"/>
<path d="M63.2 488.4L62.5 486.8L63.8 484.8L64.5 486.4Z" fill="#1459da"/>
<path d="M65.8 489.8L65.1 488.1L66.4 486.2L67.1 487.9Z" fill="#294cc9"/>
<path d="M58.6 487.9L57.9 486.5L59.2 484.3L59.9 485.8Z" fill="#0b5edf"/>
<path d="M61.2 488.9L60.6 487.3L61.8 485.3L62.5 486.8Z" fill="#1a56d7"/>
<path d="M63.8 490.0L63.2 488.4L64.5 486.4L65.1 488.1Z" fill="#2b4bc8"/>
<path d="M66.5 491.4L65.8 489.8L67.1 487.9L67.8 489.6Z" fill="#3440b2"/>
<path d="M59.3 489.4L58.6 487.9L59.9 485.8L60.6 487.3Z" fill="#2252d2"/>
<path d="M61.9 490.4L61.2 488.9L62.5 486.8L63.2 488.4Z" fill="#2d49c4"/>
<path d="M64.5 491.6L63.8 490.0L65.1 488.1L65.8 489.8Z" fill="#3440b2"/>
<path d="M59.9 490.9L59.3 489.4L60.6 487.3L61.2 488.9Z" fill="#3046bf"/>
<path d="M62.6 491.9L61.9 490.4L63.2 488.4L63.8 490.0Z" fill="#343eb0"/>
<path d="M65.2 493.2L64.5 491.6L65.8 489.8L66.5 491.4Z" fill="#36359d"/>
<path d="M60.6 492.4L59.9 490.9L61.2 488.9L61.9 490.4Z" fill="#353cab"/>
<path d="M63.2 493.5L62.6 491.9L63.8 490.0L64.5 491.6Z" fill="#36349c"/>
<path d="M61.3 493.9L60.6 492.4L61.9 490.4L62.6 491.9Z" fill="#363398"/>
<path d="M63.9 495.0L63.2 493.5L64.5 491.6L65.2 493.2Z" fill="#352b88"/>
<path d="M61.9 495.3L61.3 493.9L62.6 491.9L63.2 493.5Z" fill="#352a87"/>
<path d="M62.6 496.8L61.9 495.3L63.2 493.5L63.9 495.0Z" fill="#352a87"/>
</g></g>
<text x="16.85" y="429.88" font-size="7.06" textLength="6.30" lengthAdjust="spacingAndGlyphs" stroke="#2e2e2e" stroke-width="0.09">55</text>
<text x="16.85" y="451.08" font-size="7.06" textLength="6.30" lengthAdjust="spacingAndGlyphs" stroke="#2e2e2e" stroke-width="0.09">50</text>
<text x="16.85" y="471.18" font-size="7.06" textLength="6.30" lengthAdjust="spacingAndGlyphs" stroke="#2e2e2e" stroke-width="0.09">45</text>
<text x="16.85" y="492.78" font-size="7.06" textLength="6.30" lengthAdjust="spacingAndGlyphs" stroke="#2e2e2e" stroke-width="0.09">40</text>
<text x="16.77" y="499.38" font-size="7.06" textLength="9.45" lengthAdjust="spacingAndGlyphs" stroke="#2e2e2e" stroke-width="0.09">100</text>
<text x="36.42" y="505.38" font-size="7.06" textLength="3.15" lengthAdjust="spacingAndGlyphs" stroke="#2e2e2e" stroke-width="0.09">0</text>
<text x="45.82" y="515.48" font-size="7.06" textLength="14.35" lengthAdjust="spacingAndGlyphs" stroke="#2e2e2e" stroke-width="0.09">−100</text>
<text x="58.02" y="515.48" font-size="7.06" textLength="14.35" lengthAdjust="spacingAndGlyphs" stroke="#2e2e2e" stroke-width="0.09">−200</text>
<text x="75.82" y="508.28" font-size="7.06" textLength="14.35" lengthAdjust="spacingAndGlyphs" stroke="#2e2e2e" stroke-width="0.09">−100</text>
<text x="97.92" y="499.98" font-size="7.06" textLength="3.15" lengthAdjust="spacingAndGlyphs" stroke="#2e2e2e" stroke-width="0.09">0</text>
<defs><linearGradient id="gc" x1="0" y1="1" x2="0" y2="0"><stop offset="0.000" stop-color="#352a87"/><stop offset="0.048" stop-color="#353dad"/><stop offset="0.095" stop-color="#2053d4"/><stop offset="0.143" stop-color="#0268e1"/><stop offset="0.190" stop-color="#0d75dc"/><stop offset="0.238" stop-color="#1481d6"/><stop offset="0.286" stop-color="#108ed2"/><stop offset="0.333" stop-color="#079ccf"/><stop offset="0.381" stop-color="#06a7c6"/><stop offset="0.429" stop-color="#0faeb9"/><stop offset="0.476" stop-color="#25b5a9"/><stop offset="0.524" stop-color="#42bb98"/><stop offset="0.571" stop-color="#65be86"/><stop offset="0.619" stop-color="#87bf77"/><stop offset="0.667" stop-color="#a5be6b"/><stop offset="0.714" stop-color="#c0bc60"/><stop offset="0.762" stop-color="#d9ba56"/><stop offset="0.810" stop-color="#f1b94a"/><stop offset="0.857" stop-color="#ffc337"/><stop offset="0.905" stop-color="#fad32a"/><stop offset="0.952" stop-color="#f5e41d"/><stop offset="1.000" stop-color="#f9fb0e"/><stop offset="1" stop-color="#f9fb0e"/></linearGradient></defs>
<rect x="111.7" y="415" width="6.10" height="91.00" fill="url(#gc)" stroke="#999" stroke-width="0.5"/>
<line x1="116.5" y1="502.90" x2="117.8" y2="502.90" stroke="#999" stroke-width="0.4"/>
<text x="118.80" y="504.98" font-size="6.16" textLength="5.50" lengthAdjust="spacingAndGlyphs" stroke="#2e2e2e" stroke-width="0.07">42</text>
<line x1="116.5" y1="487.60" x2="117.8" y2="487.60" stroke="#999" stroke-width="0.4"/>
<text x="118.80" y="489.68" font-size="6.16" textLength="5.50" lengthAdjust="spacingAndGlyphs" stroke="#2e2e2e" stroke-width="0.07">44</text>
<line x1="116.5" y1="472.30" x2="117.8" y2="472.30" stroke="#999" stroke-width="0.4"/>
<text x="118.80" y="474.38" font-size="6.16" textLength="5.50" lengthAdjust="spacingAndGlyphs" stroke="#2e2e2e" stroke-width="0.07">46</text>
<line x1="116.5" y1="457.00" x2="117.8" y2="457.00" stroke="#999" stroke-width="0.4"/>
<text x="118.80" y="459.08" font-size="6.16" textLength="5.50" lengthAdjust="spacingAndGlyphs" stroke="#2e2e2e" stroke-width="0.07">48</text>
<line x1="116.5" y1="441.70" x2="117.8" y2="441.70" stroke="#999" stroke-width="0.4"/>
<text x="118.80" y="443.78" font-size="6.16" textLength="5.50" lengthAdjust="spacingAndGlyphs" stroke="#2e2e2e" stroke-width="0.07">50</text>
<line x1="116.5" y1="426.40" x2="117.8" y2="426.40" stroke="#999" stroke-width="0.4"/>
<text x="118.80" y="428.48" font-size="6.16" textLength="5.50" lengthAdjust="spacingAndGlyphs" stroke="#2e2e2e" stroke-width="0.07">52</text>
<path d="M11.07 520.98 C10.40 522.52 10.59 525.21 12.56 525.21 C14.53 525.21 15.20 523.16 14.82 521.75 C14.43 520.47 13.09 520.60 12.80 522.14 L11.84 527.00" fill="none" stroke="#2e2e2e" stroke-width="0.7" stroke-linecap="round"/>
<text x="15.40" y="525.72" font-size="6.08" font-style="italic" textLength="15.40" lengthAdjust="spacingAndGlyphs">ankle</text>
<path d="M35.03 519.00H34.08V527.60H35.03" fill="none" stroke="#404040" stroke-width="0.5590000000000015"/>
<path d="M39.27 519.00H40.22V527.60H39.27" fill="none" stroke="#404040" stroke-width="0.5590000000000015"/>
<circle cx="37.15" cy="520.89" r="0.95" fill="none" stroke="#2e2e2e" stroke-width="0.48"/>
<path d="M78.59 520.98 C77.90 522.52 78.10 525.21 80.11 525.21 C82.11 525.21 82.80 523.16 82.41 521.75 C82.02 520.47 80.64 520.60 80.35 522.14 L79.37 527.00" fill="none" stroke="#2e2e2e" stroke-width="0.7" stroke-linecap="round"/>
<text x="83.00" y="525.72" font-size="6.08" font-style="italic" textLength="13.20" lengthAdjust="spacingAndGlyphs">knee</text>
<path d="M100.20 518.50H99.20V527.60H100.20" fill="none" stroke="#404040" stroke-width="0.5915000000000015"/>
<path d="M104.90 518.50H105.90V527.60H104.90" fill="none" stroke="#404040" stroke-width="0.5915000000000015"/>
<circle cx="102.55" cy="520.50" r="1.00" fill="none" stroke="#2e2e2e" stroke-width="0.50"/>
<g transform="translate(12.00,481.90) rotate(-90)"><path d="M3.97 -6.59L1.13 -1.13Q0.78 0.28 2.69 -0.35" fill="none" stroke="#2e2e2e" stroke-width="0.85" stroke-linecap="round"/><text x="5.50" y="1.70" font-size="8.5" font-style="italic" textLength="23.40" lengthAdjust="spacingAndGlyphs">MT,GAS</text><text x="34.15" y="0.24" font-size="9.31" textLength="8.70" lengthAdjust="spacingAndGlyphs">cm</text></g>
<path d="M4.40 448.80V449.88H14.20V448.80" fill="none" stroke="#404040" stroke-width="0.6369999999999999"/>
<path d="M4.40 438.00V436.92H14.20V438.00" fill="none" stroke="#404040" stroke-width="0.6369999999999999"/>
<text x="151.7" y="191.4" font-size="10.5" textLength="118.6" lengthAdjust="spacingAndGlyphs"><tspan font-weight="bold">(a)</tspan> Musculus rectus femoris</text>
<text x="148" y="396.2" font-size="10.5" textLength="126.5" lengthAdjust="spacingAndGlyphs"><tspan font-weight="bold">(b)</tspan> Musculus semitendinosus</text>
<text x="151.7" y="543.4" font-size="10.5" textLength="119.4" lengthAdjust="spacingAndGlyphs">(c) Musculus gastrocnemius</text>
</svg></body></html>
